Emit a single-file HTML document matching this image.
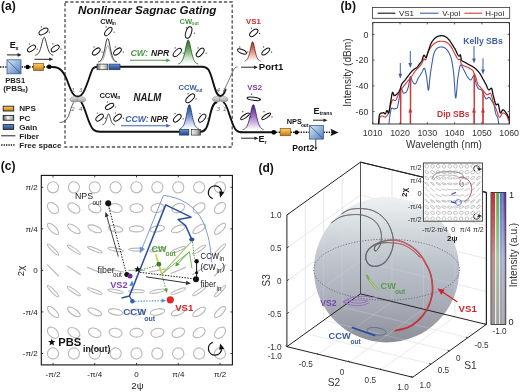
<!DOCTYPE html>
<html><head><meta charset="utf-8"><title>Nonlinear Sagnac Gating figure</title>
<style>html,body{margin:0;padding:0;background:#fff;}svg{display:block;}</style></head>
<body><svg width="520" height="392" viewBox="0 0 520 392" font-family="'Liberation Sans', Arial, sans-serif">
<defs>
<linearGradient id="gPBS" x1="0" y1="0" x2="1" y2="1"><stop offset="0" stop-color="#dfe8f6"/><stop offset="1" stop-color="#4f7fc0"/></linearGradient>
<linearGradient id="gNPS" x1="0" y1="0" x2="0" y2="1"><stop offset="0" stop-color="#f7cf7a"/><stop offset="0.5" stop-color="#e9a53a"/><stop offset="1" stop-color="#c07818"/></linearGradient>
<linearGradient id="gPC" x1="0" y1="0" x2="1" y2="0"><stop offset="0" stop-color="#5a5a5a"/><stop offset="0.45" stop-color="#f4f4f4"/><stop offset="1" stop-color="#9a9a9a"/></linearGradient>
<linearGradient id="gPC2" x1="0" y1="0" x2="1" y2="0"><stop offset="0" stop-color="#f4f4f4"/><stop offset="0.6" stop-color="#bbbbbb"/><stop offset="1" stop-color="#555"/></linearGradient>
<linearGradient id="gGain" x1="0" y1="0" x2="0" y2="1"><stop offset="0" stop-color="#6f97cf"/><stop offset="0.5" stop-color="#3f6aaa"/><stop offset="1" stop-color="#2a4c85"/></linearGradient>
<linearGradient id="gGreen" x1="0" y1="0" x2="0" y2="1"><stop offset="0" stop-color="#2a652a"/><stop offset="0.35" stop-color="#5f9f58"/><stop offset="0.75" stop-color="#cfe5cc"/><stop offset="1" stop-color="#ffffff"/></linearGradient>
<linearGradient id="gBlue" x1="0" y1="0" x2="0" y2="1"><stop offset="0" stop-color="#27468f"/><stop offset="0.4" stop-color="#5f80c0"/><stop offset="0.8" stop-color="#d3dcef"/><stop offset="1" stop-color="#ffffff"/></linearGradient>
<linearGradient id="gRed" x1="0" y1="0" x2="0" y2="1"><stop offset="0" stop-color="#8e2a1c"/><stop offset="0.45" stop-color="#d98a72"/><stop offset="1" stop-color="#ffffff"/></linearGradient>
<linearGradient id="gPurple" x1="0" y1="0" x2="0" y2="1"><stop offset="0" stop-color="#4b1f75"/><stop offset="0.45" stop-color="#9b72bf"/><stop offset="1" stop-color="#ffffff"/></linearGradient>
<linearGradient id="gCoup" x1="0" y1="0" x2="0" y2="1"><stop offset="0" stop-color="#e6e6e6"/><stop offset="1" stop-color="#9c9c9c"/></linearGradient>
</defs>
<rect width="520" height="392" fill="#fff"/>
<text x="1" y="9.7" font-size="12" font-weight="bold" fill="#111" text-anchor="start" font-style="normal" >(a)</text>
<rect x="65" y="2" width="167.2" height="145" fill="none" stroke="#505050" stroke-width="1.35" stroke-dasharray="3.2,2.1"/>
<text x="78" y="13.8" font-size="11.6" font-weight="bold" fill="#111" text-anchor="start" font-style="italic" textLength="138.5" lengthAdjust="spacingAndGlyphs">Nonlinear Sagnac Gating</text>
<path d="M0,67 L7,67 M21.5,67 L33.5,67 M43.6,67 L49,67" stroke="#111" stroke-width="1.6" stroke-dasharray="1.4,1.2" fill="none"/>
<path d="M49.2,66.7 C58,66.7 62,68 67,80 C71,91 73,96.5 77.7,96.5 C82.4,96.5 84.5,91 88.5,80 C92.5,68 93,66.7 97,66.7 M120,66.7 L202,66.7 C209,66.7 210,72 213,82 C215.5,91 217,96 220.2,96 C223.5,96 224.5,93 225.5,90 M81.5,102.5 C85,108 87,118 90,124 C92,129 94,131.8 100,131.8 L179.5,131.8 M200.5,131.8 C205,131.8 207,128 209,120 C211,111 212.5,102.5 216.5,102.5 M223.8,102.5 C227,104 229,115 232,122 C234.5,129 236,132.3 243,132.3 L273.5,132.3" fill="none" stroke="#111" stroke-width="1.9" stroke-linecap="round"/>
<path d="M73.5,102.5 C70,108 70,116 66,120 C64,122 62,122.5 59.6,122.3" fill="none" stroke="#333" stroke-width="0.8"/>
<path d="M223.5,91 C227,85 231,75 233.5,70 C234.5,68 235.5,67.3 237.5,67" fill="none" stroke="#555" stroke-width="0.8"/>
<ellipse cx="74.4" cy="99.4" rx="4.3" ry="2.6" fill="url(#gCoup)" stroke="#777" stroke-width="0.5"/>
<ellipse cx="81.2" cy="99.4" rx="4.3" ry="2.6" fill="url(#gCoup)" stroke="#777" stroke-width="0.5"/>
<ellipse cx="216.8" cy="99.2" rx="4.3" ry="2.6" fill="url(#gCoup)" stroke="#777" stroke-width="0.5"/>
<ellipse cx="223.6" cy="99.2" rx="4.3" ry="2.6" fill="url(#gCoup)" stroke="#777" stroke-width="0.5"/>
<text x="73" y="92" font-size="6.2" font-weight="normal" fill="#666" text-anchor="middle" font-style="italic" >1</text>
<text x="80.7" y="92" font-size="6.2" font-weight="normal" fill="#666" text-anchor="middle" font-style="italic" >3</text>
<text x="73" y="110.5" font-size="6.2" font-weight="normal" fill="#666" text-anchor="middle" font-style="italic" >2</text>
<text x="80.7" y="110.5" font-size="6.2" font-weight="normal" fill="#666" text-anchor="middle" font-style="italic" >4</text>
<text x="218.2" y="92" font-size="6.2" font-weight="normal" fill="#666" text-anchor="middle" font-style="italic" >4</text>
<text x="224.8" y="92" font-size="6.2" font-weight="normal" fill="#666" text-anchor="middle" font-style="italic" >2</text>
<text x="218.2" y="110.5" font-size="6.2" font-weight="normal" fill="#666" text-anchor="middle" font-style="italic" >3</text>
<text x="224.8" y="110.5" font-size="6.2" font-weight="normal" fill="#666" text-anchor="middle" font-style="italic" >1</text>
<rect x="7" y="59.8" width="14" height="14" fill="url(#gPBS)" stroke="#3d5d8f" stroke-width="0.8"/>
<line x1="7.5" y1="60.3" x2="20.5" y2="73.3" stroke="#2c4a7a" stroke-width="0.7" />
<rect x="33.5" y="63.3" width="10.1" height="7.2" fill="url(#gNPS)" stroke="#7a5212" stroke-width="0.7"/>
<circle cx="27.6" cy="67" r="2.2" fill="#000"/>
<circle cx="49.2" cy="66.8" r="2.3" fill="#000"/>
<rect x="97" y="64.1" width="10.7" height="5.6" fill="url(#gPC)" stroke="#333" stroke-width="0.7"/>
<rect x="109" y="64.1" width="11" height="5.6" fill="url(#gGain)" stroke="#1f3560" stroke-width="0.7"/>
<rect x="179.5" y="129.5" width="9.3" height="5.6" fill="url(#gGain)" stroke="#1f3560" stroke-width="0.7"/>
<rect x="191.3" y="129.5" width="9.2" height="5.6" fill="url(#gPC2)" stroke="#333" stroke-width="0.7"/>
<circle cx="273.8" cy="132.3" r="2.4" fill="#000"/>
<path d="M276,132.3 L280,132.3 M290.5,132.3 L296,132.3 M298,132.3 L309.5,132.3 M323.5,132.3 L333,132.3" stroke="#111" stroke-width="1.6" stroke-dasharray="1.4,1.2" fill="none"/>
<rect x="280.2" y="128.5" width="10.3" height="7.2" fill="url(#gNPS)" stroke="#7a5212" stroke-width="0.7"/>
<circle cx="296.5" cy="132.4" r="2.1" fill="#000"/>
<rect x="309.5" y="125.5" width="14" height="13.6" fill="url(#gPBS)" stroke="#3d5d8f" stroke-width="0.8"/>
<line x1="310" y1="126" x2="323" y2="138.6" stroke="#2c4a7a" stroke-width="0.7" />
<polygon points="338.5,132.4 330.5,128.7 331.8,132.4 330.5,136.1" fill="#111"/>
<path d="M35.2,55.3 L35.65,55.18 L36.1,55.03 L36.55,54.84 L37,54.59 L37.45,54.27 L37.9,53.87 L38.35,53.36 L38.8,52.72 L39.25,51.93 L39.7,50.96 L40.15,49.8 L40.6,48.43 L41.05,46.87 L41.5,45.14 L41.95,43.31 L42.4,41.5 L42.85,39.84 L43.3,38.49 L43.75,37.61 L44.2,37.3 L44.65,37.61 L45.1,38.49 L45.55,39.84 L46,41.5 L46.45,43.31 L46.9,45.14 L47.35,46.87 L47.8,48.43 L48.25,49.8 L48.7,50.96 L49.15,51.93 L49.6,52.72 L50.05,53.36 L50.5,53.87 L50.95,54.27 L51.4,54.59 L51.85,54.84 L52.3,55.03 L52.75,55.18 L53.2,55.3" fill="none" stroke="#222" stroke-width="0.9"/>
<path d="M99.3,62.13 L99.72,62.02 L100.15,61.88 L100.58,61.7 L101,61.47 L101.42,61.18 L101.85,60.81 L102.27,60.33 L102.7,59.75 L103.12,59.02 L103.55,58.12 L103.97,57.05 L104.4,55.79 L104.83,54.34 L105.25,52.74 L105.67,51.06 L106.1,49.38 L106.52,47.84 L106.95,46.6 L107.38,45.78 L107.8,45.5 L108.22,45.78 L108.65,46.6 L109.08,47.84 L109.5,49.38 L109.92,51.06 L110.35,52.74 L110.77,54.34 L111.2,55.79 L111.62,57.05 L112.05,58.12 L112.47,59.02 L112.9,59.75 L113.33,60.33 L113.75,60.81 L114.17,61.18 L114.6,61.47 L115.02,61.7 L115.45,61.88 L115.88,62.02 L116.3,62.13" fill="none" stroke="#9a9a9a" stroke-width="0.9"/>
<path d="M98.1,61.98 L98.57,61.82 L99.05,61.63 L99.52,61.37 L100,61.05 L100.47,60.63 L100.95,60.11 L101.42,59.44 L101.9,58.61 L102.38,57.58 L102.85,56.32 L103.32,54.81 L103.8,53.02 L104.27,50.98 L104.75,48.72 L105.22,46.34 L105.7,43.98 L106.17,41.81 L106.65,40.05 L107.12,38.9 L107.6,38.5 L108.07,38.9 L108.55,40.05 L109.02,41.81 L109.5,43.98 L109.97,46.34 L110.45,48.72 L110.92,50.98 L111.4,53.02 L111.88,54.81 L112.35,56.32 L112.82,57.58 L113.3,58.61 L113.77,59.44 L114.25,60.11 L114.72,60.63 L115.2,61.05 L115.67,61.37 L116.15,61.63 L116.62,61.82 L117.1,61.98" fill="none" stroke="#222" stroke-width="0.9"/>
<path d="M102.4,124.76 L102.71,124.68 L103.02,124.59 L103.33,124.47 L103.64,124.32 L103.95,124.13 L104.26,123.88 L104.57,123.57 L104.88,123.19 L105.19,122.7 L105.5,122.12 L105.81,121.41 L106.12,120.58 L106.43,119.62 L106.74,118.57 L107.05,117.46 L107.36,116.36 L107.67,115.34 L107.98,114.52 L108.29,113.99 L108.6,113.8 L108.91,113.99 L109.22,114.52 L109.53,115.34 L109.84,116.36 L110.15,117.46 L110.46,118.57 L110.77,119.62 L111.08,120.58 L111.39,121.41 L111.7,122.12 L112.01,122.7 L112.32,123.19 L112.63,123.57 L112.94,123.88 L113.25,124.13 L113.56,124.32 L113.87,124.47 L114.18,124.59 L114.49,124.68 L114.8,124.76" fill="none" stroke="#222" stroke-width="0.9"/>
<path d="M178.2,63.97 L178.7,63.81 L179.2,63.61 L179.7,63.35 L180.2,63.02 L180.7,62.59 L181.2,62.06 L181.7,61.38 L182.2,60.53 L182.7,59.48 L183.2,58.19 L183.7,56.65 L184.2,54.83 L184.7,52.74 L185.2,50.44 L185.7,48.01 L186.2,45.59 L186.7,43.38 L187.2,41.58 L187.7,40.41 L188.2,40 L188.7,40.41 L189.2,41.58 L189.7,43.38 L190.2,45.59 L190.7,48.01 L191.2,50.44 L191.7,52.74 L192.2,54.83 L192.7,56.65 L193.2,58.19 L193.7,59.48 L194.2,60.53 L194.7,61.38 L195.2,62.06 L195.7,62.59 L196.2,63.02 L196.7,63.35 L197.2,63.61 L197.7,63.81 L198.2,63.97 Z" fill="url(#gGreen)" stroke="none"/>
<path d="M178.2,63.97 L178.7,63.81 L179.2,63.61 L179.7,63.35 L180.2,63.02 L180.7,62.59 L181.2,62.06 L181.7,61.38 L182.2,60.53 L182.7,59.48 L183.2,58.19 L183.7,56.65 L184.2,54.83 L184.7,52.74 L185.2,50.44 L185.7,48.01 L186.2,45.59 L186.7,43.38 L187.2,41.58 L187.7,40.41 L188.2,40 L188.7,40.41 L189.2,41.58 L189.7,43.38 L190.2,45.59 L190.7,48.01 L191.2,50.44 L191.7,52.74 L192.2,54.83 L192.7,56.65 L193.2,58.19 L193.7,59.48 L194.2,60.53 L194.7,61.38 L195.2,62.06 L195.7,62.59 L196.2,63.02 L196.7,63.35 L197.2,63.61 L197.7,63.81 L198.2,63.97" fill="none" stroke="#234f23" stroke-width="0.8"/>
<path d="M179.8,128.76 L180.28,128.6 L180.75,128.4 L181.23,128.14 L181.7,127.81 L182.18,127.38 L182.65,126.84 L183.12,126.15 L183.6,125.3 L184.08,124.24 L184.55,122.94 L185.03,121.38 L185.5,119.55 L185.98,117.44 L186.45,115.12 L186.93,112.67 L187.4,110.24 L187.88,108.01 L188.35,106.2 L188.83,105.01 L189.3,104.6 L189.78,105.01 L190.25,106.2 L190.73,108.01 L191.2,110.24 L191.68,112.67 L192.15,115.12 L192.62,117.44 L193.1,119.55 L193.58,121.38 L194.05,122.94 L194.53,124.24 L195,125.3 L195.48,126.15 L195.95,126.84 L196.43,127.38 L196.9,127.81 L197.38,128.14 L197.85,128.4 L198.33,128.6 L198.8,128.76 Z" fill="url(#gBlue)" stroke="none"/>
<path d="M179.8,128.76 L180.28,128.6 L180.75,128.4 L181.23,128.14 L181.7,127.81 L182.18,127.38 L182.65,126.84 L183.12,126.15 L183.6,125.3 L184.08,124.24 L184.55,122.94 L185.03,121.38 L185.5,119.55 L185.98,117.44 L186.45,115.12 L186.93,112.67 L187.4,110.24 L187.88,108.01 L188.35,106.2 L188.83,105.01 L189.3,104.6 L189.78,105.01 L190.25,106.2 L190.73,108.01 L191.2,110.24 L191.68,112.67 L192.15,115.12 L192.62,117.44 L193.1,119.55 L193.58,121.38 L194.05,122.94 L194.53,124.24 L195,125.3 L195.48,126.15 L195.95,126.84 L196.43,127.38 L196.9,127.81 L197.38,128.14 L197.85,128.4 L198.33,128.6 L198.8,128.76" fill="none" stroke="#1f356e" stroke-width="0.8"/>
<path d="M244.6,61.07 L245,60.94 L245.4,60.78 L245.8,60.57 L246.2,60.31 L246.6,59.97 L247,59.54 L247.4,58.99 L247.8,58.31 L248.2,57.46 L248.6,56.43 L249,55.18 L249.4,53.72 L249.8,52.04 L250.2,50.19 L250.6,48.24 L251,46.3 L251.4,44.52 L251.8,43.07 L252.2,42.13 L252.6,41.8 L253,42.13 L253.4,43.07 L253.8,44.52 L254.2,46.3 L254.6,48.24 L255,50.19 L255.4,52.04 L255.8,53.72 L256.2,55.18 L256.6,56.43 L257,57.46 L257.4,58.31 L257.8,58.99 L258.2,59.54 L258.6,59.97 L259,60.31 L259.4,60.57 L259.8,60.78 L260.2,60.94 L260.6,61.07 Z" fill="url(#gRed)" stroke="none"/>
<path d="M244.6,61.07 L245,60.94 L245.4,60.78 L245.8,60.57 L246.2,60.31 L246.6,59.97 L247,59.54 L247.4,58.99 L247.8,58.31 L248.2,57.46 L248.6,56.43 L249,55.18 L249.4,53.72 L249.8,52.04 L250.2,50.19 L250.6,48.24 L251,46.3 L251.4,44.52 L251.8,43.07 L252.2,42.13 L252.6,41.8 L253,42.13 L253.4,43.07 L253.8,44.52 L254.2,46.3 L254.6,48.24 L255,50.19 L255.4,52.04 L255.8,53.72 L256.2,55.18 L256.6,56.43 L257,57.46 L257.4,58.31 L257.8,58.99 L258.2,59.54 L258.6,59.97 L259,60.31 L259.4,60.57 L259.8,60.78 L260.2,60.94 L260.6,61.07" fill="none" stroke="#6e1f16" stroke-width="0.8"/>
<path d="M242.8,129.74 L243.33,129.57 L243.85,129.36 L244.38,129.09 L244.9,128.74 L245.43,128.3 L245.95,127.74 L246.48,127.03 L247,126.14 L247.53,125.03 L248.05,123.68 L248.58,122.06 L249.1,120.15 L249.62,117.96 L250.15,115.55 L250.68,113 L251.2,110.46 L251.73,108.14 L252.25,106.26 L252.78,105.03 L253.3,104.6 L253.83,105.03 L254.35,106.26 L254.88,108.14 L255.4,110.46 L255.93,113 L256.45,115.55 L256.98,117.96 L257.5,120.15 L258.03,122.06 L258.55,123.68 L259.07,125.03 L259.6,126.14 L260.12,127.03 L260.65,127.74 L261.18,128.3 L261.7,128.74 L262.23,129.09 L262.75,129.36 L263.28,129.57 L263.8,129.74 Z" fill="url(#gPurple)" stroke="none"/>
<path d="M242.8,129.74 L243.33,129.57 L243.85,129.36 L244.38,129.09 L244.9,128.74 L245.43,128.3 L245.95,127.74 L246.48,127.03 L247,126.14 L247.53,125.03 L248.05,123.68 L248.58,122.06 L249.1,120.15 L249.62,117.96 L250.15,115.55 L250.68,113 L251.2,110.46 L251.73,108.14 L252.25,106.26 L252.78,105.03 L253.3,104.6 L253.83,105.03 L254.35,106.26 L254.88,108.14 L255.4,110.46 L255.93,113 L256.45,115.55 L256.98,117.96 L257.5,120.15 L258.03,122.06 L258.55,123.68 L259.07,125.03 L259.6,126.14 L260.12,127.03 L260.65,127.74 L261.18,128.3 L261.7,128.74 L262.23,129.09 L262.75,129.36 L263.28,129.57 L263.8,129.74" fill="none" stroke="#3a1660" stroke-width="0.8"/>
<ellipse cx="31.5" cy="48.5" rx="4.6" ry="2.3" transform="rotate(-35 31.5 48.5)" fill="none" stroke="#111" stroke-width="1"/>
<circle cx="29.3" cy="43.9" r="0.6" fill="#222"/>
<circle cx="37.3" cy="49.1" r="0.6" fill="#222"/>
<ellipse cx="55.2" cy="48.5" rx="4.6" ry="2.3" transform="rotate(-35 55.2 48.5)" fill="none" stroke="#111" stroke-width="1"/>
<circle cx="53" cy="43.9" r="0.6" fill="#222"/>
<circle cx="61" cy="49.1" r="0.6" fill="#222"/>
<ellipse cx="43.5" cy="31.5" rx="5" ry="2.4" transform="rotate(-30 43.5 31.5)" fill="none" stroke="#111" stroke-width="1"/>
<circle cx="41.3" cy="26.9" r="0.6" fill="#222"/>
<circle cx="49.3" cy="32.1" r="0.6" fill="#222"/>
<ellipse cx="96.3" cy="51.5" rx="4.6" ry="2.3" transform="rotate(-40 96.3 51.5)" fill="none" stroke="#111" stroke-width="1"/>
<circle cx="94.1" cy="46.9" r="0.6" fill="#222"/>
<circle cx="102.1" cy="52.1" r="0.6" fill="#222"/>
<ellipse cx="117.5" cy="51.5" rx="4.6" ry="2.3" transform="rotate(-40 117.5 51.5)" fill="none" stroke="#111" stroke-width="1"/>
<circle cx="115.3" cy="46.9" r="0.6" fill="#222"/>
<circle cx="123.3" cy="52.1" r="0.6" fill="#222"/>
<ellipse cx="108.3" cy="31.5" rx="5" ry="2.3" transform="rotate(-50 108.3 31.5)" fill="none" stroke="#111" stroke-width="1"/>
<circle cx="106.1" cy="26.9" r="0.6" fill="#222"/>
<circle cx="114.1" cy="32.1" r="0.6" fill="#222"/>
<ellipse cx="99.6" cy="117.6" rx="4.5" ry="2.3" transform="rotate(-40 99.6 117.6)" fill="none" stroke="#111" stroke-width="1"/>
<circle cx="97.4" cy="113" r="0.6" fill="#222"/>
<circle cx="105.4" cy="118.2" r="0.6" fill="#222"/>
<ellipse cx="117.6" cy="117.6" rx="4.5" ry="2.3" transform="rotate(-40 117.6 117.6)" fill="none" stroke="#111" stroke-width="1"/>
<circle cx="115.4" cy="113" r="0.6" fill="#222"/>
<circle cx="123.4" cy="118.2" r="0.6" fill="#222"/>
<ellipse cx="109.6" cy="106.4" rx="4.6" ry="2.2" transform="rotate(-30 109.6 106.4)" fill="none" stroke="#111" stroke-width="1"/>
<circle cx="107.4" cy="101.8" r="0.6" fill="#222"/>
<circle cx="115.4" cy="107" r="0.6" fill="#222"/>
<ellipse cx="177.3" cy="52.5" rx="5.2" ry="2.5" transform="rotate(-45 177.3 52.5)" fill="none" stroke="#111" stroke-width="1"/>
<circle cx="175.1" cy="47.9" r="0.6" fill="#222"/>
<circle cx="183.1" cy="53.1" r="0.6" fill="#222"/>
<ellipse cx="200.2" cy="52.5" rx="5.2" ry="2.5" transform="rotate(-50 200.2 52.5)" fill="none" stroke="#111" stroke-width="1"/>
<circle cx="198" cy="47.9" r="0.6" fill="#222"/>
<circle cx="206" cy="53.1" r="0.6" fill="#222"/>
<ellipse cx="188.6" cy="32.5" rx="6" ry="2.8" transform="rotate(-72 188.6 32.5)" fill="none" stroke="#111" stroke-width="1"/>
<circle cx="186.4" cy="27.9" r="0.6" fill="#222"/>
<circle cx="194.4" cy="33.1" r="0.6" fill="#222"/>
<ellipse cx="177.3" cy="118.2" rx="4.8" ry="2.4" transform="rotate(-45 177.3 118.2)" fill="none" stroke="#111" stroke-width="1"/>
<circle cx="175.1" cy="113.6" r="0.6" fill="#222"/>
<circle cx="183.1" cy="118.8" r="0.6" fill="#222"/>
<ellipse cx="202.2" cy="118.2" rx="4.8" ry="2.4" transform="rotate(-50 202.2 118.2)" fill="none" stroke="#111" stroke-width="1"/>
<circle cx="200" cy="113.6" r="0.6" fill="#222"/>
<circle cx="208" cy="118.8" r="0.6" fill="#222"/>
<ellipse cx="190.2" cy="98.3" rx="5.6" ry="2.6" transform="rotate(-45 190.2 98.3)" fill="none" stroke="#111" stroke-width="1"/>
<circle cx="188" cy="93.7" r="0.6" fill="#222"/>
<circle cx="196" cy="98.9" r="0.6" fill="#222"/>
<ellipse cx="242" cy="51.5" rx="4.8" ry="1.9" transform="rotate(25 242 51.5)" fill="none" stroke="#111" stroke-width="1"/>
<circle cx="239.8" cy="46.9" r="0.6" fill="#222"/>
<circle cx="247.8" cy="52.1" r="0.6" fill="#222"/>
<ellipse cx="265.8" cy="51.5" rx="4.8" ry="2" transform="rotate(-40 265.8 51.5)" fill="none" stroke="#111" stroke-width="1"/>
<circle cx="263.6" cy="46.9" r="0.6" fill="#222"/>
<circle cx="271.6" cy="52.1" r="0.6" fill="#222"/>
<ellipse cx="253.8" cy="32.8" rx="5" ry="2.4" transform="rotate(-40 253.8 32.8)" fill="none" stroke="#111" stroke-width="1"/>
<circle cx="251.6" cy="28.2" r="0.6" fill="#222"/>
<circle cx="259.6" cy="33.4" r="0.6" fill="#222"/>
<ellipse cx="245" cy="116.3" rx="5.2" ry="1.6" transform="rotate(-35 245 116.3)" fill="none" stroke="#111" stroke-width="1"/>
<circle cx="242.8" cy="111.7" r="0.6" fill="#222"/>
<circle cx="250.8" cy="116.9" r="0.6" fill="#222"/>
<ellipse cx="266.2" cy="116.3" rx="5.2" ry="1.6" transform="rotate(-35 266.2 116.3)" fill="none" stroke="#111" stroke-width="1"/>
<circle cx="264" cy="111.7" r="0.6" fill="#222"/>
<circle cx="272" cy="116.9" r="0.6" fill="#222"/>
<ellipse cx="253.8" cy="98.8" rx="6.8" ry="1.5" transform="rotate(8 253.8 98.8)" fill="none" stroke="#111" stroke-width="1"/>
<circle cx="251.6" cy="94.2" r="0.6" fill="#222"/>
<circle cx="259.6" cy="99.4" r="0.6" fill="#222"/>
<line x1="6.9" y1="54.9" x2="18.1" y2="54.9" stroke="#222" stroke-width="1" /><polygon points="21.6,54.9 17.6,56.7 17.6,53.1" fill="#222"/>
<line x1="34.5" y1="59.3" x2="49.7" y2="59.3" stroke="#222" stroke-width="1" /><polygon points="53.2,59.3 49.2,61.1 49.2,57.5" fill="#222"/>
<line x1="130" y1="60.3" x2="166.8" y2="60.3" stroke="#4f9a45" stroke-width="1.1" /><polygon points="170.5,60.3 166.3,62.2 166.3,58.4" fill="#4f9a45"/>
<line x1="121" y1="125.7" x2="166.8" y2="125.7" stroke="#3f63b0" stroke-width="1.1" /><polygon points="170.5,125.7 166.3,127.6 166.3,123.8" fill="#3f63b0"/>
<line x1="241" y1="67.2" x2="254.5" y2="67.2" stroke="#222" stroke-width="1" /><polygon points="258,67.2 254,69 254,65.4" fill="#222"/>
<line x1="241" y1="138.2" x2="255" y2="138.2" stroke="#222" stroke-width="1" /><polygon points="258.5,138.2 254.5,140 254.5,136.4" fill="#222"/>
<line x1="313" y1="120.2" x2="324" y2="120.2" stroke="#222" stroke-width="1" /><polygon points="327.5,120.2 323.5,122 323.5,118.4" fill="#222"/>
<line x1="315.8" y1="139.3" x2="315.8" y2="147.8" stroke="#222" stroke-width="0.9" /><polygon points="315.8,150.5 314.3,147.3 317.3,147.3" fill="#222"/>
<text x="9.7" y="48" font-size="9" font-weight="bold" fill="#111" text-anchor="start" font-style="normal" >E</text><text x="15.6" y="49.8" font-size="5.5" font-weight="bold" fill="#111" text-anchor="start" font-style="normal" >x</text>
<text x="5.2" y="82.6" font-size="7.8" font-weight="bold" fill="#222" text-anchor="start" font-style="normal" textLength="20" lengthAdjust="spacingAndGlyphs">PBS1</text>
<text x="3.2" y="90.8" font-size="8" font-weight="bold" fill="#222" text-anchor="start" font-style="normal" >(PBS</text><text x="21.2" y="92" font-size="4.8" font-weight="bold" fill="#222" text-anchor="start" font-style="normal" >in</text><text x="25.2" y="90.8" font-size="8" font-weight="bold" fill="#222" text-anchor="start" font-style="normal" >)</text>
<text x="100.2" y="23.6" font-size="7.4" font-weight="bold" fill="#222" text-anchor="start" font-style="normal" >CW</text><text x="111.8" y="25" font-size="4.6" font-weight="bold" fill="#222" text-anchor="start" font-style="normal" >in</text>
<text x="130.4" y="56.4" font-size="9" font-weight="bold" fill="#4a9a42" text-anchor="start" font-style="italic" textLength="17.6" lengthAdjust="spacingAndGlyphs">CW:</text><text x="151" y="56.4" font-size="9" font-weight="bold" fill="#1a1a1a" text-anchor="start" font-style="italic" textLength="18.2" lengthAdjust="spacingAndGlyphs">NPR</text>
<text x="179.5" y="23.6" font-size="7.6" font-weight="bold" fill="#4a9a42" text-anchor="start" font-style="normal" >CW</text><text x="191.6" y="25" font-size="4.6" font-weight="bold" fill="#4a9a42" text-anchor="start" font-style="normal" >out</text>
<text x="133.5" y="101.3" font-size="10.2" font-weight="bold" fill="#1a1a1a" text-anchor="start" font-style="italic" textLength="27.8" lengthAdjust="spacingAndGlyphs">NALM</text>
<text x="99.4" y="97.7" font-size="7.6" font-weight="bold" fill="#222" text-anchor="start" font-style="normal" >CCW</text><text x="116.2" y="99.1" font-size="4.6" font-weight="bold" fill="#222" text-anchor="start" font-style="normal" >in</text>
<text x="125.2" y="121.6" font-size="9" font-weight="bold" fill="#3f63b0" text-anchor="start" font-style="italic" textLength="23.5" lengthAdjust="spacingAndGlyphs">CCW:</text><text x="150.6" y="121.6" font-size="9" font-weight="bold" fill="#1a1a1a" text-anchor="start" font-style="italic" textLength="17.5" lengthAdjust="spacingAndGlyphs">NPR</text>
<text x="178.6" y="90.2" font-size="7.6" font-weight="bold" fill="#3a5ba0" text-anchor="start" font-style="normal" >CCW</text><text x="195.4" y="91.6" font-size="4.6" font-weight="bold" fill="#3a5ba0" text-anchor="start" font-style="normal" >out</text>
<text x="246" y="23.7" font-size="7.8" font-weight="bold" fill="#c0302e" text-anchor="start" font-style="normal" >VS1</text>
<text x="258.8" y="70.4" font-size="9.6" font-weight="bold" fill="#111" text-anchor="start" font-style="normal" >Port1</text>
<text x="247.3" y="90.2" font-size="7.8" font-weight="bold" fill="#7b3fa5" text-anchor="start" font-style="normal" >VS2</text>
<text x="258.6" y="141.8" font-size="9" font-weight="bold" fill="#111" text-anchor="start" font-style="normal" >E</text><text x="264.6" y="143.6" font-size="5.5" font-weight="bold" fill="#111" text-anchor="start" font-style="normal" >r</text>
<text x="286.8" y="124.1" font-size="7.3" font-weight="bold" fill="#111" text-anchor="start" font-style="normal" >NPS</text><text x="300.9" y="126.6" font-size="4.8" font-weight="bold" fill="#111" text-anchor="start" font-style="normal" >out</text>
<text x="313.5" y="113.8" font-size="9" font-weight="bold" fill="#111" text-anchor="start" font-style="normal" >E</text><text x="319.6" y="115.4" font-size="5.2" font-weight="bold" fill="#111" text-anchor="start" font-style="normal" >trans</text>
<text x="292.3" y="150.6" font-size="8.6" font-weight="bold" fill="#111" text-anchor="start" font-style="normal" >Port2</text>
<rect x="3.2" y="106.2" width="10.5" height="4.8" fill="url(#gNPS)" stroke="#222" stroke-width="0.9"/>
<text x="19.2" y="111.3" font-size="8.1" font-weight="bold" fill="#222" text-anchor="start" font-style="normal" >NPS</text>
<rect x="3.2" y="115.4" width="10.5" height="4.8" fill="url(#gPC)" stroke="#222" stroke-width="0.9"/>
<text x="19.2" y="120.5" font-size="8.1" font-weight="bold" fill="#222" text-anchor="start" font-style="normal" >PC</text>
<rect x="3.2" y="124.6" width="10.5" height="4.8" fill="url(#gGain)" stroke="#222" stroke-width="0.9"/>
<text x="19.2" y="129.7" font-size="8.1" font-weight="bold" fill="#222" text-anchor="start" font-style="normal" >Gain</text>
<line x1="1.2" y1="135.8" x2="15.4" y2="135.8" stroke="#222" stroke-width="1" />
<text x="19.2" y="138.9" font-size="8.1" font-weight="bold" fill="#222" text-anchor="start" font-style="normal" >Fiber</text>
<path d="M1.2,145 L15.4,145" stroke="#111" stroke-width="1.4" stroke-dasharray="1.3,1.1"/>
<text x="19.2" y="148.1" font-size="8.1" font-weight="bold" fill="#222" text-anchor="start" font-style="normal" >Free space</text>
<text x="340.6" y="9.7" font-size="12" font-weight="bold" fill="#111" text-anchor="start" font-style="normal" >(b)</text>
<rect x="372.4" y="7.5" width="137.3" height="10.8" fill="#fff" stroke="#333" stroke-width="0.8"/>
<line x1="377.7" y1="13.2" x2="395.4" y2="13.2" stroke="#111" stroke-width="1.1" />
<text x="399" y="16.2" font-size="7.9" font-weight="normal" fill="#222" text-anchor="start" font-style="normal" >VS1</text>
<line x1="420" y1="13.2" x2="438.5" y2="13.2" stroke="#3d5ea8" stroke-width="1.1" />
<text x="442.2" y="16.2" font-size="7.9" font-weight="normal" fill="#222" text-anchor="start" font-style="normal" >V-pol</text>
<line x1="464.6" y1="13.2" x2="482.3" y2="13.2" stroke="#d23a3a" stroke-width="1.1" />
<text x="485.3" y="16.2" font-size="7.9" font-weight="normal" fill="#222" text-anchor="start" font-style="normal" >H-pol</text>
<clipPath id="clipB"><rect x="372.8" y="22.6" width="136.7" height="101.4"/></clipPath>
<g clip-path="url(#clipB)" fill="none" stroke-linejoin="round">
<polyline points="388.53,130.9 388.69,128.35 388.85,125.85 389.01,123.51 389.17,121.49 389.33,119.92 389.49,118.71 389.64,117.53 389.8,116.4 389.96,115.3 390.12,114.26 390.28,113.28 390.44,112.35 390.6,111.5 390.75,110.73 390.91,110.05 391.07,109.45 391.23,108.96 391.39,108.58 391.55,108.31 391.71,108.16 391.86,108.13 392.02,108.14 392.18,108.18 392.34,108.22 392.5,108.28 392.66,108.34 392.82,108.41 392.97,108.48 393.13,108.56 393.29,108.63 393.45,108.7 393.61,108.76 393.77,108.82 393.93,108.86 394.08,108.89 394.24,108.9 394.4,108.9 394.56,108.89 394.72,108.88 394.88,108.86 395.04,108.84 395.19,108.81 395.35,108.78 395.51,108.74 395.67,108.69 395.83,108.65 395.99,108.59 396.15,108.53 396.3,108.47 396.46,108.4 396.62,108.32 396.78,108.25 396.94,108.16 397.1,108.04 397.26,107.75 397.41,107.31 397.57,106.73 397.73,106.05 397.89,105.28 398.05,104.45 398.21,103.57 398.37,102.68 398.52,101.78 398.68,100.91 398.84,100.09 399,99.3 399.16,98.41 399.32,97.41 399.48,96.34 399.63,95.23 399.79,94.11 399.95,93 400.11,91.94 400.27,90.96 400.43,90.08 400.59,89.33 400.74,88.75 400.9,88.36 401.06,88.19 401.22,88.22 401.38,88.37 401.54,88.62 401.7,88.94 401.85,89.33 402.01,89.77 402.17,90.24 402.33,90.72 402.49,91.2 402.65,91.67 402.8,92.1 402.96,92.48 403.12,92.8 403.28,93.04 403.44,93.17 403.6,93.2 403.76,93.19 403.91,93.18 404.07,93.15 404.23,93.12 404.39,93.08 404.55,93.03 404.71,92.97 404.87,92.91 405.02,92.84 405.18,92.77 405.34,92.69 405.5,92.6 405.66,92.51 405.82,92.42 405.98,92.32 406.13,92.2 406.29,92.04 406.45,91.83 406.61,91.57 406.77,91.28 406.93,90.95 407.09,90.59 407.24,90.2 407.4,89.78 407.56,89.33 407.72,88.87 407.88,88.39 408.04,87.89 408.2,87.38 408.35,86.87 408.51,86.33 408.67,85.64 408.83,84.76 408.99,83.76 409.15,82.68 409.31,81.56 409.46,80.45 409.62,79.4 409.78,78.45 409.94,77.65 410.1,77.05 410.26,76.69 410.42,76.61 410.57,76.7 410.73,76.9 410.89,77.19 411.05,77.55 411.21,77.98 411.37,78.44 411.53,78.93 411.68,79.43 411.84,79.93 412,80.39 412.16,80.82 412.32,81.2 412.48,81.5 412.64,81.73 412.79,81.94 412.95,82.16 413.11,82.37 413.27,82.58 413.43,82.78 413.59,82.97 413.75,83.15 413.9,83.32 414.06,83.47 414.22,83.6 414.38,83.72 414.54,83.81 414.7,83.88 414.86,83.92 415.01,83.94 415.17,83.91 415.33,83.83 415.49,83.71 415.65,83.54 415.81,83.33 415.97,83.09 416.12,82.82 416.28,82.52 416.44,82.2 416.6,81.85 416.76,81.5 416.92,81.13 417.08,80.76 417.23,80.39 417.39,80.02 417.55,79.65 417.71,79.3 417.87,78.96 418.03,78.63 418.19,78.33 418.34,78.06 418.5,77.79 418.66,77.52 418.82,77.26 418.98,77 419.14,76.74 419.3,76.48 419.45,76.22 419.61,75.96 419.77,75.71 419.93,75.45 420.09,75.2 420.25,74.94 420.41,74.69 420.56,74.43 420.72,74.18 420.88,73.92 421.04,73.66 421.2,73.41 421.36,73.15 421.52,72.89 421.67,72.63 421.83,72.37 421.99,72.09 422.15,71.79 422.31,71.46 422.47,71.11 422.63,70.76 422.78,70.41 422.94,70.06 423.1,69.72 423.26,69.4 423.42,69.11 423.58,68.85 423.74,68.62 423.89,68.44 424.05,68.32 424.21,68.25 424.37,68.26 424.53,68.39 424.69,68.66 424.85,69.03 425,69.5 425.16,70.04 425.32,70.65 425.48,71.3 425.64,71.97 425.8,72.66 425.96,73.35 426.11,74.13 426.27,75.06 426.43,76.11 426.59,77.26 426.75,78.47 426.91,79.72 427.07,80.99 427.22,82.25 427.38,83.47 427.54,84.62 427.7,85.82 427.86,87.22 428.02,88.6 428.18,89.71 428.33,90.32 428.49,90.27 428.65,89.71 428.81,88.74 428.97,87.45 429.13,85.92 429.29,84.23 429.44,82.46 429.6,80.7 429.76,79.02 429.92,77.51 430.08,76.24 430.24,75.04 430.4,73.86 430.55,72.7 430.71,71.55 430.87,70.43 431.03,69.34 431.19,68.27 431.35,67.25 431.51,66.25 431.66,65.3 431.82,64.37 431.98,63.43 432.14,62.48 432.3,61.54 432.46,60.61 432.62,59.7 432.77,58.81 432.93,57.95 433.09,57.12 433.25,56.34 433.41,55.6 433.57,54.92 433.73,54.3 433.88,53.75 434.04,53.27 434.2,52.87 434.36,52.49 434.52,52.12 434.68,51.77 434.84,51.44 434.99,51.12 435.15,50.81 435.31,50.53 435.47,50.26 435.63,50 435.79,49.76 435.95,49.53 436.1,49.33 436.26,49.13 436.42,48.96 436.58,48.8 436.74,48.65 436.9,48.52 437.06,48.4 437.21,48.28 437.37,48.16 437.53,48.05 437.69,47.94 437.85,47.84 438.01,47.74 438.17,47.65 438.32,47.56 438.48,47.48 438.64,47.41 438.8,47.34 438.96,47.28 439.12,47.23 439.28,47.19 439.43,47.16 439.59,47.14 439.75,47.12 439.91,47.1 440.07,47.09 440.23,47.07 440.39,47.06 440.54,47.05 440.7,47.04 440.86,47.03 441.02,47.02 441.18,47.01 441.34,47.01 441.5,47.01 441.65,47.01 441.81,47.02 441.97,47.03 442.13,47.05 442.29,47.08 442.45,47.1 442.61,47.13 442.76,47.16 442.92,47.2 443.08,47.24 443.24,47.28 443.4,47.32 443.56,47.36 443.72,47.41 443.87,47.46 444.03,47.52 444.19,47.58 444.35,47.66 444.51,47.74 444.67,47.84 444.83,47.94 444.98,48.04 445.14,48.15 445.3,48.27 445.46,48.39 445.62,48.52 445.78,48.65 445.94,48.78 446.09,48.92 446.25,49.06 446.41,49.2 446.57,49.35 446.73,49.5 446.89,49.67 447.05,49.85 447.2,50.03 447.36,50.23 447.52,50.44 447.68,50.65 447.84,50.88 448,51.11 448.16,51.35 448.31,51.61 448.47,51.87 448.63,52.13 448.79,52.41 448.95,52.7 449.11,52.99 449.26,53.3 449.42,53.62 449.58,53.96 449.74,54.31 449.9,54.68 450.06,55.07 450.22,55.48 450.37,55.91 450.53,56.36 450.69,56.83 450.85,57.33 451.01,57.85 451.17,58.4 451.33,58.97 451.48,59.57 451.64,60.19 451.8,60.88 451.96,61.63 452.12,62.45 452.28,63.33 452.44,64.26 452.59,65.26 452.75,66.31 452.91,67.41 453.07,68.56 453.23,69.77 453.39,71.01 453.55,72.3 453.7,73.63 453.86,75.07 454.02,76.92 454.18,79.13 454.34,81.61 454.5,84.24 454.66,86.91 454.81,89.53 454.97,91.98 455.13,94.16 455.29,95.96 455.45,97.27 455.61,97.99 455.77,98.04 455.92,97.6 456.08,96.77 456.24,95.6 456.4,94.15 456.56,92.48 456.72,90.66 456.88,88.73 457.03,86.77 457.19,84.83 457.35,82.97 457.51,81.25 457.67,79.73 457.83,78.47 457.99,77.44 458.14,76.4 458.3,75.35 458.46,74.29 458.62,73.24 458.78,72.21 458.94,71.21 459.1,70.25 459.25,69.33 459.41,68.48 459.57,67.7 459.73,66.99 459.89,66.38 460.05,65.87 460.21,65.47 460.36,65.19 460.52,65.04 460.68,65.03 460.84,65.07 461,65.15 461.16,65.27 461.32,65.43 461.47,65.61 461.63,65.82 461.79,66.06 461.95,66.32 462.11,66.6 462.27,66.89 462.43,67.2 462.58,67.51 462.74,67.83 462.9,68.16 463.06,68.48 463.22,68.8 463.38,69.12 463.54,69.42 463.69,69.72 463.85,69.99 464.01,70.26 464.17,70.54 464.33,70.83 464.49,71.13 464.65,71.44 464.8,71.75 464.96,72.07 465.12,72.39 465.28,72.72 465.44,73.04 465.6,73.36 465.76,73.68 465.91,74 466.07,74.32 466.23,74.62 466.39,74.92 466.55,75.21 466.71,75.49 466.87,75.76 467.02,76.02 467.18,76.26 467.34,76.48 467.5,76.69 467.66,76.91 467.82,77.13 467.98,77.35 468.13,77.57 468.29,77.79 468.45,78.01 468.61,78.23 468.77,78.44 468.93,78.64 469.09,78.83 469.24,79.02 469.4,79.19 469.56,79.35 469.72,79.49 469.88,79.62 470.04,79.73 470.2,79.82 470.35,79.89 470.51,79.93 470.67,79.95 470.83,79.93 470.99,79.86 471.15,79.75 471.31,79.59 471.46,79.39 471.62,79.16 471.78,78.91 471.94,78.64 472.1,78.35 472.26,78.06 472.42,77.76 472.57,77.46 472.73,77.17 472.89,76.9 473.05,76.64 473.21,76.41 473.37,76.21 473.53,76.05 473.68,75.93 473.84,75.85 474,75.83 474.16,75.94 474.32,76.2 474.48,76.6 474.64,77.11 474.79,77.72 474.95,78.4 475.11,79.14 475.27,79.92 475.43,80.71 475.59,81.5 475.75,82.26 475.9,82.99 476.06,83.65 476.22,84.22 476.38,84.69 476.54,85.06 476.7,85.42 476.86,85.78 477.01,86.12 477.17,86.46 477.33,86.78 477.49,87.09 477.65,87.38 477.81,87.66 477.97,87.92 478.12,88.15 478.28,88.37 478.44,88.56 478.6,88.72 478.76,88.86 478.92,88.97 479.08,89.05 479.23,89.13 479.39,89.19 479.55,89.25 479.71,89.29 479.87,89.34 480.03,89.38 480.19,89.42 480.34,89.46 480.5,89.5 480.66,89.55 480.82,89.6 480.98,89.66 481.14,89.74 481.3,89.82 481.45,89.93 481.61,90.09 481.77,90.3 481.93,90.55 482.09,90.84 482.25,91.17 482.41,91.51 482.56,91.88 482.72,92.26 482.88,92.65 483.04,93.03 483.2,93.42 483.36,93.79 483.52,94.15 483.67,94.48 483.83,94.79 483.99,95.1 484.15,95.43 484.31,95.78 484.47,96.14 484.63,96.51 484.78,96.87 484.94,97.23 485.1,97.57 485.26,97.89 485.42,98.18 485.58,98.43 485.74,98.65 485.89,98.82 486.05,98.93 486.21,98.99 486.37,98.99 486.53,98.95 486.69,98.89 486.85,98.8 487,98.69 487.16,98.57 487.32,98.44 487.48,98.3 487.64,98.15 487.8,98.01 487.96,97.87 488.11,97.73 488.27,97.61 488.43,97.51 488.59,97.42 488.75,97.36 488.91,97.33 489.07,97.32 489.22,97.37 489.38,97.46 489.54,97.58 489.7,97.74 489.86,97.93 490.02,98.15 490.18,98.39 490.33,98.64 490.49,98.91 490.65,99.19 490.81,99.46 490.97,99.74 491.13,100.01 491.29,100.27 491.44,100.52 491.6,100.75 491.76,100.98 491.92,101.2 492.08,101.42 492.24,101.64 492.4,101.87 492.55,102.1 492.71,102.35 492.87,102.6 493.03,102.87 493.19,103.16 493.35,103.47 493.51,103.8 493.66,104.16 493.82,104.55 493.98,104.98 494.14,105.57 494.3,106.31 494.46,107.15 494.62,108.07 494.77,109.02 494.93,109.97 495.09,110.89 495.25,111.74 495.41,112.48 495.57,113.07 495.72,113.56 495.88,113.99 496.04,114.37 496.2,114.71 496.36,115.02 496.52,115.31 496.68,115.59 496.83,115.87 496.99,116.17 497.15,116.48 497.31,116.82 497.47,117.21 497.63,117.64 497.79,118.13 497.94,118.69 498.1,119.37 498.26,120.28 498.42,121.41 498.58,122.71 498.74,124.18 498.9,125.76 499.05,127.43 499.21,129.15 499.37,130.9" stroke="#3d5ea8" stroke-width="1.1"/>
<polyline points="378.71,130.9 378.89,127.08 379.08,123.3 379.27,120.17 379.46,118.29 379.65,117.82 379.83,117.51 380.02,117.23 380.21,116.98 380.4,116.76 380.58,116.58 380.77,116.42 380.96,116.28 381.15,116.18 381.34,116.09 381.52,116.03 381.71,116 381.9,115.98 382.09,115.98 382.28,116 382.46,116.04 382.65,116.1 382.84,116.17 383.03,116.25 383.21,116.35 383.4,116.44 383.59,116.54 383.78,116.64 383.97,116.74 384.15,116.83 384.34,116.91 384.53,116.99 384.72,117.05 384.91,117.1 385.09,117.13 385.28,117.13 385.47,117.11 385.66,117.04 385.84,116.94 386.03,116.81 386.22,116.64 386.41,116.45 386.6,116.24 386.78,116.01 386.97,115.76 387.16,115.5 387.35,115.23 387.54,114.96 387.72,114.68 387.91,114.35 388.1,113.95 388.29,113.48 388.47,112.95 388.66,112.37 388.85,111.74 389.04,111.08 389.23,110.39 389.41,109.68 389.6,108.95 389.79,108.22 389.98,107.5 390.17,106.79 390.35,106.1 390.54,105.44 390.73,104.81 390.92,104.23 391.1,103.67 391.29,103.06 391.48,102.41 391.67,101.77 391.86,101.16 392.04,100.62 392.23,100.18 392.42,99.89 392.61,99.77 392.8,99.77 392.98,99.81 393.17,99.86 393.36,99.93 393.55,100.01 393.73,100.09 393.92,100.18 394.11,100.27 394.3,100.35 394.49,100.42 394.67,100.48 394.86,100.52 395.05,100.54 395.24,100.51 395.43,100.42 395.61,100.27 395.8,100.06 395.99,99.79 396.18,99.49 396.36,99.14 396.55,98.76 396.74,98.35 396.93,97.92 397.12,97.47 397.3,97.01 397.49,96.55 397.68,96.09 397.87,95.63 398.06,95.19 398.24,94.77 398.43,94.37 398.62,94 398.81,93.65 398.99,93.29 399.18,92.92 399.37,92.55 399.56,92.18 399.75,91.8 399.93,91.43 400.12,91.06 400.31,90.71 400.41,90.52 400.67,137.34 400.7,137.34 400.96,89.57 401.06,89.4 401.25,89.12 401.44,88.86 401.62,88.63 401.81,88.41 402,88.21 402.19,88.01 402.38,87.81 402.56,87.6 402.75,87.39 402.94,87.16 403.13,86.92 403.32,86.69 403.5,86.45 403.69,86.2 403.88,85.95 404.07,85.71 404.25,85.45 404.44,85.2 404.63,84.95 404.82,84.7 405.01,84.45 405.19,84.2 405.38,83.96 405.57,83.72 405.76,83.48 405.95,83.24 406.13,83.01 406.32,82.78 406.51,82.56 406.7,82.34 406.88,82.12 407.07,81.9 407.26,81.69 407.45,81.47 407.64,81.25 407.82,81.04 408.01,80.82 408.2,80.6 408.39,80.37 408.58,80.15 408.76,79.92 408.95,79.68 409.14,79.45 409.33,79.21 409.51,78.97 409.7,78.73 409.89,78.48 410.08,78.24 410.24,78.03 410.5,137.34 410.52,137.34 410.78,77.31 411.02,77 411.21,76.75 411.39,76.5 411.58,76.24 411.77,75.99 411.96,75.74 412.14,75.49 412.33,75.23 412.52,74.98 412.71,74.73 412.9,74.47 413.08,74.21 413.27,73.94 413.46,73.67 413.65,73.4 413.84,73.13 414.02,72.86 414.21,72.59 414.4,72.33 414.59,72.06 414.77,71.79 414.96,71.53 415.15,71.27 415.34,71.02 415.53,70.77 415.71,70.53 415.9,70.29 416.09,70.06 416.28,69.84 416.47,69.63 416.65,69.42 416.84,69.22 417.03,69.02 417.22,68.83 417.4,68.64 417.59,68.45 417.78,68.26 417.97,68.07 418.16,67.89 418.34,67.7 418.53,67.5 418.72,67.31 418.91,67.1 419.1,66.9 419.28,66.68 419.47,66.46 419.66,66.24 419.85,66.02 420.03,65.79 420.22,65.56 420.41,65.32 420.6,65.08 420.79,64.84 420.97,64.59 421.16,64.33 421.35,64.07 421.54,63.8 421.73,63.52 421.91,63.23 422.1,62.89 422.29,62.5 422.48,62.07 422.66,61.61 422.85,61.15 423.04,60.7 423.23,60.26 423.42,59.86 423.6,59.51 423.79,59.21 423.98,59 424.17,58.87 424.36,58.86 424.54,59 424.73,59.25 424.92,59.55 425.11,59.81 425.29,59.98 425.48,59.97 425.67,59.75 425.86,59.33 426.05,58.75 426.23,58.07 426.42,57.32 426.61,56.54 426.8,55.78 426.99,55.06 427.17,54.43 427.36,53.94 427.55,53.48 427.74,53.04 427.92,52.6 428.11,52.18 428.3,51.78 428.49,51.38 428.68,51 428.86,50.62 429.05,50.26 429.24,49.91 429.43,49.57 429.62,49.24 429.8,48.92 429.99,48.62 430.18,48.32 430.37,48.02 430.55,47.74 430.74,47.46 430.93,47.18 431.12,46.91 431.31,46.65 431.49,46.4 431.68,46.16 431.87,45.93 432.06,45.7 432.25,45.49 432.43,45.28 432.62,45.09 432.81,44.9 433,44.73 433.18,44.56 433.37,44.39 433.56,44.24 433.75,44.08 433.94,43.94 434.12,43.79 434.31,43.65 434.5,43.52 434.69,43.39 434.88,43.27 435.06,43.15 435.25,43.03 435.44,42.92 435.63,42.81 435.81,42.7 436,42.59 436.19,42.48 436.38,42.37 436.57,42.27 436.75,42.17 436.94,42.07 437.13,41.98 437.32,41.9 437.51,41.82 437.69,41.75 437.88,41.69 438.07,41.64 438.26,41.6 438.44,41.56 438.63,41.53 438.82,41.49 439.01,41.46 439.2,41.43 439.38,41.4 439.57,41.37 439.76,41.35 439.95,41.32 440.14,41.3 440.32,41.28 440.51,41.26 440.7,41.25 440.89,41.24 441.07,41.23 441.26,41.22 441.45,41.22 441.64,41.22 441.83,41.22 442.01,41.23 442.2,41.24 442.39,41.26 442.58,41.27 442.77,41.29 442.95,41.31 443.14,41.33 443.33,41.36 443.52,41.39 443.7,41.42 443.89,41.45 444.08,41.48 444.27,41.51 444.46,41.55 444.64,41.58 444.83,41.62 445.02,41.66 445.21,41.72 445.4,41.78 445.58,41.86 445.77,41.94 445.96,42.03 446.15,42.12 446.34,42.22 446.52,42.33 446.71,42.45 446.9,42.56 447.09,42.68 447.27,42.81 447.46,42.93 447.65,43.06 447.84,43.19 448.03,43.33 448.21,43.48 448.4,43.64 448.59,43.81 448.78,43.99 448.97,44.18 449.15,44.38 449.34,44.58 449.53,44.79 449.72,45.01 449.9,45.23 450.09,45.46 450.28,45.69 450.47,45.93 450.66,46.18 450.84,46.44 451.03,46.72 451.22,47.02 451.41,47.32 451.6,47.64 451.78,47.96 451.97,48.29 452.16,48.62 452.35,48.96 452.53,49.3 452.72,49.64 452.91,50 453.1,50.37 453.29,50.75 453.47,51.15 453.66,51.54 453.85,51.94 454.04,52.34 454.23,52.73 454.41,53.11 454.6,53.47 454.79,53.81 454.98,54.14 455.16,54.47 455.35,54.82 455.54,55.18 455.73,55.54 455.92,55.91 456.1,56.27 456.29,56.64 456.48,56.99 456.67,57.33 456.86,57.66 457.04,57.97 457.23,58.27 457.42,58.54 457.61,58.78 457.79,58.99 457.98,59.17 458.17,59.31 458.36,59.42 458.55,59.48 458.73,59.49 458.92,59.47 459.11,59.43 459.3,59.38 459.49,59.33 459.67,59.28 459.86,59.25 460.05,59.23 460.24,59.44 460.42,60.02 460.61,60.84 460.8,61.79 460.99,62.72 461.18,63.52 461.36,64.03 461.55,64.26 461.74,64.44 461.93,64.62 462.12,64.78 462.3,64.93 462.49,65.08 462.68,65.21 462.87,65.33 463.05,65.45 463.24,65.56 463.43,65.66 463.62,65.76 463.81,65.84 463.99,65.93 464.18,66.01 464.37,66.08 464.56,66.15 464.75,66.22 464.93,66.28 465.12,66.35 465.31,66.41 465.5,66.47 465.68,66.53 465.87,66.59 466.06,66.65 466.25,66.72 466.44,66.78 466.62,66.85 466.81,66.92 467,67 467.19,67.08 467.38,67.16 467.56,67.25 467.75,67.34 467.94,67.45 468.13,67.55 468.31,67.66 468.5,67.76 468.69,67.85 468.88,67.95 469.07,68.05 469.25,68.14 469.44,68.24 469.63,68.33 469.82,68.43 470.01,68.53 470.19,68.63 470.38,68.74 470.57,68.85 470.76,68.96 470.94,69.08 471.13,69.2 471.32,69.33 471.51,69.47 471.7,69.61 471.88,69.76 472.07,69.92 472.26,70.08 472.45,70.26 472.64,70.45 472.82,70.66 473.01,70.9 473.2,71.18 473.39,71.49 473.57,71.82 473.76,72.18 473.98,72.64 474.24,137.34 474.27,137.34 474.53,73.87 474.7,74.28 474.89,74.74 475.08,75.21 475.27,75.69 475.45,76.17 475.64,76.66 475.83,77.19 476.02,77.81 476.2,78.48 476.39,79.2 476.58,79.94 476.77,80.69 476.96,81.44 477.14,82.17 477.33,82.85 477.52,83.48 477.71,84.03 477.9,84.49 478.08,84.85 478.27,85.13 478.46,85.38 478.65,85.61 478.83,85.82 479.02,86.01 479.21,86.19 479.4,86.36 479.59,86.52 479.77,86.68 479.96,86.85 480.15,87.02 480.34,87.2 480.53,87.4 480.71,87.61 480.9,87.83 481.09,88.05 481.28,88.27 481.46,88.49 481.65,88.72 481.84,88.95 482.03,89.18 482.22,89.42 482.4,89.65 482.59,89.88 482.72,90.04 482.98,137.34 483.01,137.34 483.26,90.72 483.34,90.81 483.53,91.04 483.72,91.26 483.91,91.49 484.09,91.7 484.28,91.92 484.47,92.13 484.66,92.33 484.85,92.55 485.03,92.78 485.22,93.03 485.41,93.28 485.6,93.52 485.79,93.76 485.97,93.99 486.16,94.2 486.35,94.38 486.54,94.54 486.72,94.65 486.91,94.72 487.1,94.75 487.29,94.73 487.48,94.69 487.66,94.62 487.85,94.53 488.04,94.43 488.23,94.32 488.42,94.19 488.6,94.06 488.79,93.93 488.98,93.8 489.17,93.67 489.35,93.55 489.54,93.44 489.73,93.35 489.92,93.28 490.11,93.23 490.29,93.2 490.48,93.23 490.67,93.41 490.86,93.71 491.05,94.13 491.23,94.65 491.42,95.26 491.61,95.93 491.8,96.64 491.98,97.38 492.17,98.14 492.36,98.89 492.55,99.62 492.74,100.3 492.92,100.93 493.11,101.49 493.3,102.01 493.49,102.52 493.68,103.02 493.86,103.52 494.05,104.02 494.24,104.51 494.43,104.99 494.61,105.47 494.8,105.95 494.99,106.42 495.18,106.89 495.37,107.36 495.55,107.82 495.74,108.28 495.93,108.74 496.12,109.19 496.31,109.65 496.49,110.11 496.68,110.61 496.87,111.13 497.06,111.68 497.24,112.25 497.43,112.82 497.62,113.39 497.81,113.95 498,114.49 498.18,115 498.37,115.49 498.56,115.93 498.75,116.32 498.94,116.65 499.12,116.92 499.31,117.12 499.5,117.24 499.69,117.26 499.87,117.2 500.06,117.07 500.25,116.88 500.44,116.64 500.63,116.35 500.81,116.03 501,115.68 501.19,115.32 501.38,114.96 501.57,114.6 501.75,114.25 501.94,113.93 502.13,113.64 502.32,113.4 502.5,113.21 502.69,113.08 502.88,113.02 503.07,113.02 503.26,113.04 503.44,113.07 503.63,113.12 503.82,113.17 504.01,113.24 504.2,113.32 504.38,113.41 504.57,113.51 504.76,113.62 504.95,113.73 505.13,113.86 505.32,113.99 505.51,114.13 505.7,114.28 505.89,114.43 506.07,114.58 506.26,114.75 506.45,114.97 506.64,115.27 506.83,115.62 507.01,116.02 507.2,116.47 507.39,116.95 507.58,117.47 507.76,118 507.95,118.56 508.14,119.12 508.33,119.68 508.52,120.23 508.7,120.77 508.89,121.29 509.08,121.79 509.27,122.31 509.46,122.84 509.64,123.37 509.83,123.92 510.02,124.47" stroke="#d43a3a" stroke-width="1.15"/>
<polyline points="378.16,130.9 378.35,127.75 378.54,124.7 378.72,121.87 378.91,119.35 379.1,117.26 379.29,115.71 379.48,114.81 379.66,114.45 379.85,114.17 380.04,113.93 380.23,113.72 380.41,113.55 380.6,113.41 380.79,113.3 380.98,113.21 381.17,113.15 381.35,113.09 381.54,113.04 381.73,113 381.92,112.96 382.11,112.92 382.29,112.88 382.48,112.85 382.67,112.83 382.86,112.8 383.04,112.78 383.23,112.77 383.42,112.76 383.61,112.76 383.8,112.8 383.98,112.91 384.17,113.07 384.36,113.25 384.55,113.45 384.74,113.64 384.92,113.79 385.11,113.89 385.3,113.91 385.49,113.74 385.67,113.38 385.86,112.89 386.05,112.33 386.24,111.76 386.43,111.24 386.61,110.84 386.8,110.6 386.99,110.6 387.18,110.77 387.37,111.08 387.55,111.48 387.74,111.92 387.93,112.35 388.12,112.73 388.3,113.01 388.49,113.14 388.68,113.05 388.87,112.67 389.06,112.02 389.24,111.16 389.43,110.12 389.62,108.94 389.81,107.66 390,106.31 390.18,104.95 390.37,103.6 390.56,102.31 390.75,101.11 390.93,100.05 391.12,99.08 391.31,98 391.5,96.87 391.69,95.74 391.87,94.67 392.06,93.73 392.25,92.98 392.44,92.49 392.63,92.3 392.81,92.42 393,92.74 393.19,93.21 393.38,93.76 393.56,94.33 393.75,94.86 393.94,95.3 394.13,95.58 394.32,95.65 394.5,95.63 394.69,95.58 394.88,95.52 395.07,95.44 395.26,95.34 395.44,95.23 395.63,95.1 395.82,94.96 396.01,94.81 396.19,94.66 396.38,94.5 396.57,94.34 396.76,94.18 396.95,94.02 397.13,93.86 397.32,93.68 397.51,93.49 397.7,93.29 397.89,93.08 398.07,92.85 398.26,92.61 398.45,92.35 398.64,92.08 398.82,91.8 399.01,91.51 399.2,91.2 399.39,90.87 399.58,90.52 399.76,90.1 399.95,89.61 400.14,89.07 400.33,88.48 400.52,87.88 400.7,87.26 400.89,86.65 401.08,86.05 401.27,85.48 401.45,84.96 401.64,84.49 401.83,84.09 402.02,83.76 402.21,83.46 402.39,83.18 402.58,82.91 402.77,82.67 402.96,82.43 403.15,82.21 403.33,82 403.52,81.8 403.71,81.6 403.9,81.4 404.08,81.2 404.27,81 404.46,80.8 404.65,80.59 404.84,80.38 405.02,80.15 405.21,79.92 405.4,79.67 405.59,79.42 405.78,79.17 405.96,78.91 406.15,78.66 406.34,78.4 406.53,78.13 406.71,77.87 406.9,77.61 407.09,77.35 407.28,77.1 407.47,76.84 407.65,76.59 407.84,76.34 408.03,76.09 408.22,75.83 408.41,75.58 408.59,75.32 408.78,75.07 408.97,74.81 409.16,74.56 409.34,74.31 409.53,74.06 409.72,73.82 409.91,73.58 410.1,73.34 410.28,73.11 410.47,72.88 410.66,72.66 410.85,72.44 411.04,72.23 411.22,72.02 411.41,71.81 411.6,71.61 411.79,71.4 411.97,71.2 412.16,71 412.35,70.81 412.54,70.62 412.73,70.43 412.91,70.25 413.1,70.07 413.29,69.9 413.48,69.73 413.67,69.57 413.85,69.41 414.04,69.26 414.23,69.12 414.42,68.98 414.6,68.86 414.79,68.75 414.98,68.64 415.17,68.54 415.36,68.45 415.54,68.35 415.73,68.25 415.92,68.15 416.11,68.04 416.3,67.93 416.48,67.81 416.67,67.67 416.86,67.52 417.05,67.36 417.23,67.17 417.42,66.95 417.61,66.72 417.8,66.47 417.99,66.2 418.17,65.92 418.36,65.64 418.55,65.35 418.74,65.07 418.93,64.78 419.11,64.5 419.3,64.24 419.49,63.98 419.68,63.74 419.86,63.5 420.05,63.27 420.24,63.04 420.43,62.81 420.62,62.57 420.8,62.33 420.99,62.09 421.18,61.82 421.37,61.55 421.56,61.26 421.74,60.95 421.93,60.6 422.12,60.15 422.31,59.61 422.49,59.01 422.68,58.38 422.87,57.73 423.06,57.11 423.25,56.53 423.43,56.03 423.62,55.63 423.81,55.36 424,55.25 424.19,55.29 424.37,55.44 424.56,55.67 424.75,55.95 424.94,56.26 425.12,56.59 425.31,56.89 425.5,57.14 425.69,57.33 425.88,57.43 426.06,57.4 426.25,57.23 426.44,56.94 426.63,56.54 426.82,56.05 427,55.49 427.19,54.88 427.38,54.24 427.57,53.57 427.75,52.9 427.94,52.25 428.13,51.64 428.32,51.07 428.51,50.56 428.69,50.03 428.88,49.49 429.07,48.94 429.26,48.38 429.45,47.82 429.63,47.26 429.82,46.7 430.01,46.15 430.2,45.62 430.38,45.1 430.57,44.6 430.76,44.13 430.95,43.68 431.14,43.27 431.32,42.89 431.51,42.56 431.7,42.23 431.89,41.92 432.08,41.62 432.26,41.33 432.45,41.06 432.64,40.79 432.83,40.54 433.01,40.29 433.2,40.06 433.39,39.83 433.58,39.62 433.77,39.41 433.95,39.21 434.14,39.02 434.33,38.83 434.52,38.64 434.71,38.46 434.89,38.29 435.08,38.11 435.27,37.95 435.46,37.79 435.64,37.64 435.83,37.49 436.02,37.35 436.21,37.22 436.4,37.1 436.58,36.99 436.77,36.89 436.96,36.79 437.15,36.7 437.34,36.62 437.52,36.53 437.71,36.45 437.9,36.37 438.09,36.3 438.27,36.23 438.46,36.16 438.65,36.1 438.84,36.04 439.03,35.99 439.21,35.95 439.4,35.91 439.59,35.88 439.78,35.85 439.97,35.82 440.15,35.8 440.34,35.77 440.53,35.75 440.72,35.73 440.9,35.71 441.09,35.7 441.28,35.69 441.47,35.69 441.66,35.69 441.84,35.7 442.03,35.71 442.22,35.72 442.41,35.74 442.6,35.77 442.78,35.79 442.97,35.82 443.16,35.85 443.35,35.88 443.53,35.92 443.72,35.95 443.91,36 444.1,36.05 444.29,36.12 444.47,36.2 444.66,36.29 444.85,36.38 445.04,36.48 445.23,36.59 445.41,36.71 445.6,36.82 445.79,36.95 445.98,37.07 446.16,37.2 446.35,37.32 446.54,37.45 446.73,37.58 446.92,37.73 447.1,37.88 447.29,38.04 447.48,38.2 447.67,38.38 447.86,38.56 448.04,38.74 448.23,38.93 448.42,39.13 448.61,39.33 448.79,39.54 448.98,39.75 449.17,39.97 449.36,40.2 449.55,40.44 449.73,40.7 449.92,40.97 450.11,41.25 450.3,41.54 450.49,41.84 450.67,42.14 450.86,42.44 451.05,42.75 451.24,43.05 451.42,43.35 451.61,43.65 451.8,43.94 451.99,44.23 452.18,44.52 452.36,44.8 452.55,45.09 452.74,45.37 452.93,45.66 453.12,45.94 453.3,46.23 453.49,46.52 453.68,46.8 453.87,47.09 454.05,47.39 454.24,47.68 454.43,47.98 454.62,48.27 454.81,48.57 454.99,48.88 455.18,49.22 455.37,49.58 455.56,49.96 455.75,50.36 455.93,50.77 456.12,51.19 456.31,51.62 456.5,52.05 456.68,52.47 456.87,52.89 457.06,53.3 457.25,53.7 457.44,54.08 457.62,54.44 457.81,54.78 458,55.09 458.19,55.36 458.38,55.6 458.56,55.81 458.75,55.96 458.94,56.07 459.13,56.13 459.31,56.13 459.5,55.94 459.69,55.62 459.88,55.26 460.07,54.94 460.25,54.75 460.44,54.86 460.63,55.61 460.82,56.76 461.01,58.05 461.19,59.2 461.38,59.93 461.57,60.19 461.76,60.41 461.94,60.6 462.13,60.78 462.32,60.93 462.51,61.07 462.7,61.19 462.88,61.3 463.07,61.4 463.26,61.49 463.45,61.58 463.64,61.66 463.82,61.74 464.01,61.83 464.2,61.92 464.39,62.01 464.57,62.12 464.76,62.23 464.95,62.35 465.14,62.46 465.33,62.58 465.51,62.69 465.7,62.8 465.89,62.92 466.08,63.03 466.27,63.14 466.45,63.25 466.64,63.35 466.83,63.46 467.02,63.57 467.2,63.68 467.39,63.79 467.58,63.9 467.77,64 467.96,64.11 468.14,64.22 468.33,64.32 468.52,64.43 468.71,64.53 468.9,64.63 469.08,64.72 469.27,64.82 469.46,64.92 469.65,65.01 469.83,65.11 470.02,65.2 470.21,65.3 470.4,65.39 470.59,65.49 470.77,65.58 470.96,65.68 471.15,65.77 471.34,65.87 471.53,65.97 471.71,66.07 471.9,66.17 472.09,66.28 472.28,66.38 472.46,66.49 472.65,66.6 472.84,66.71 473.03,66.83 473.22,66.95 473.4,67.07 473.59,67.2 473.78,67.32 473.97,67.46 474.16,67.59 474.34,67.73 474.53,67.88 474.72,68.02 474.91,68.17 475.09,68.33 475.28,68.49 475.47,68.65 475.66,68.81 475.85,68.98 476.03,69.15 476.22,69.32 476.41,69.5 476.6,69.68 476.79,69.87 476.97,70.06 477.16,70.25 477.35,70.45 477.54,70.65 477.72,70.86 477.91,71.06 478.1,71.28 478.29,71.49 478.48,71.71 478.66,71.93 478.85,72.16 479.04,72.39 479.23,72.63 479.42,72.87 479.6,73.11 479.79,73.36 479.98,73.62 480.17,73.9 480.35,74.2 480.54,74.51 480.73,74.83 480.92,75.16 481.11,75.5 481.29,75.85 481.48,76.21 481.67,76.56 481.86,76.92 482.05,77.28 482.23,77.64 482.42,78 482.61,78.35 482.8,78.7 482.98,79.04 483.17,79.37 483.36,79.71 483.55,80.04 483.74,80.38 483.92,80.71 484.11,81.05 484.3,81.38 484.49,81.72 484.68,82.06 484.86,82.4 485.05,82.73 485.24,83.07 485.43,83.41 485.61,83.75 485.8,84.09 485.99,84.46 486.18,84.86 486.37,85.28 486.55,85.72 486.74,86.17 486.93,86.62 487.12,87.07 487.31,87.51 487.49,87.93 487.68,88.33 487.87,88.69 488.06,89.02 488.25,89.3 488.43,89.53 488.62,89.71 488.81,89.82 489,89.86 489.18,89.83 489.37,89.75 489.56,89.63 489.75,89.48 489.94,89.31 490.12,89.13 490.31,88.93 490.5,88.75 490.69,88.57 490.88,88.42 491.06,88.3 491.25,88.22 491.44,88.18 491.63,88.33 491.81,88.78 492,89.46 492.19,90.32 492.38,91.29 492.57,92.29 492.75,93.27 492.94,94.15 493.13,94.88 493.32,95.57 493.51,96.29 493.69,97.04 493.88,97.81 494.07,98.58 494.26,99.35 494.44,100.1 494.63,100.84 494.82,101.53 495.01,102.19 495.2,102.79 495.38,103.34 495.57,103.81 495.76,104.19 495.95,104.49 496.14,104.69 496.32,104.78 496.51,104.77 496.7,104.7 496.89,104.6 497.07,104.48 497.26,104.34 497.45,104.22 497.64,104.11 497.83,104.04 498.01,104.01 498.2,104.17 498.39,104.6 498.58,105.24 498.77,106.05 498.95,106.99 499.14,107.99 499.33,109.03 499.52,110.03 499.7,110.97 499.89,111.78 500.08,112.43 500.27,112.85 500.46,113.02 500.64,112.97 500.83,112.82 501.02,112.6 501.21,112.31 501.4,111.98 501.58,111.62 501.77,111.26 501.96,110.89 502.15,110.56 502.33,110.26 502.52,110.03 502.71,109.87 502.9,109.8 503.09,109.81 503.27,109.86 503.46,109.94 503.65,110.04 503.84,110.17 504.03,110.32 504.21,110.5 504.4,110.69 504.59,110.9 504.78,111.12 504.96,111.36 505.15,111.6 505.34,111.85 505.53,112.11 505.72,112.37 505.9,112.62 506.09,112.88 506.28,113.13 506.47,113.4 506.66,113.68 506.84,113.98 507.03,114.3 507.22,114.64 507.41,114.99 507.59,115.36 507.78,115.74 507.97,116.14 508.16,116.55 508.35,116.97 508.53,117.4 508.72,117.84 508.91,118.29 509.1,118.76 509.29,119.23 509.47,119.71" stroke="#111" stroke-width="1.3"/>
</g>
<rect x="372.8" y="22.6" width="136.7" height="101.4" fill="none" stroke="#222" stroke-width="0.9"/>
<line x1="372.7" y1="124" x2="372.7" y2="122.2" stroke="#222" stroke-width="0.7" />
<line x1="372.7" y1="22.6" x2="372.7" y2="24.4" stroke="#222" stroke-width="0.7" />
<text x="372.7" y="136" font-size="8.9" font-weight="normal" fill="#333" text-anchor="middle" font-style="normal" >1010</text>
<line x1="400" y1="124" x2="400" y2="122.2" stroke="#222" stroke-width="0.7" />
<line x1="400" y1="22.6" x2="400" y2="24.4" stroke="#222" stroke-width="0.7" />
<text x="400" y="136" font-size="8.9" font-weight="normal" fill="#333" text-anchor="middle" font-style="normal" >1020</text>
<line x1="427.3" y1="124" x2="427.3" y2="122.2" stroke="#222" stroke-width="0.7" />
<line x1="427.3" y1="22.6" x2="427.3" y2="24.4" stroke="#222" stroke-width="0.7" />
<text x="427.3" y="136" font-size="8.9" font-weight="normal" fill="#333" text-anchor="middle" font-style="normal" >1030</text>
<line x1="454.6" y1="124" x2="454.6" y2="122.2" stroke="#222" stroke-width="0.7" />
<line x1="454.6" y1="22.6" x2="454.6" y2="24.4" stroke="#222" stroke-width="0.7" />
<text x="454.6" y="136" font-size="8.9" font-weight="normal" fill="#333" text-anchor="middle" font-style="normal" >1040</text>
<line x1="481.9" y1="124" x2="481.9" y2="122.2" stroke="#222" stroke-width="0.7" />
<line x1="481.9" y1="22.6" x2="481.9" y2="24.4" stroke="#222" stroke-width="0.7" />
<text x="481.9" y="136" font-size="8.9" font-weight="normal" fill="#333" text-anchor="middle" font-style="normal" >1050</text>
<line x1="509.2" y1="124" x2="509.2" y2="122.2" stroke="#222" stroke-width="0.7" />
<line x1="509.2" y1="22.6" x2="509.2" y2="24.4" stroke="#222" stroke-width="0.7" />
<text x="509.2" y="136" font-size="8.9" font-weight="normal" fill="#333" text-anchor="middle" font-style="normal" >1060</text>
<line x1="372.8" y1="34.4" x2="374.6" y2="34.4" stroke="#222" stroke-width="0.7" />
<line x1="509.5" y1="34.4" x2="507.7" y2="34.4" stroke="#222" stroke-width="0.7" />
<text x="368.4" y="37.6" font-size="8.9" font-weight="normal" fill="#333" text-anchor="end" font-style="normal" >0</text>
<line x1="372.8" y1="60.13" x2="374.6" y2="60.13" stroke="#222" stroke-width="0.7" />
<line x1="509.5" y1="60.13" x2="507.7" y2="60.13" stroke="#222" stroke-width="0.7" />
<text x="368.4" y="63.33" font-size="8.9" font-weight="normal" fill="#333" text-anchor="end" font-style="normal" >-20</text>
<line x1="372.8" y1="85.87" x2="374.6" y2="85.87" stroke="#222" stroke-width="0.7" />
<line x1="509.5" y1="85.87" x2="507.7" y2="85.87" stroke="#222" stroke-width="0.7" />
<text x="368.4" y="89.07" font-size="8.9" font-weight="normal" fill="#333" text-anchor="end" font-style="normal" >-40</text>
<line x1="372.8" y1="111.6" x2="374.6" y2="111.6" stroke="#222" stroke-width="0.7" />
<line x1="509.5" y1="111.6" x2="507.7" y2="111.6" stroke="#222" stroke-width="0.7" />
<text x="368.4" y="114.8" font-size="8.9" font-weight="normal" fill="#333" text-anchor="end" font-style="normal" >-60</text>
<text x="444" y="147.8" font-size="10" font-weight="normal" fill="#333" text-anchor="middle" font-style="normal" >Wavelength (nm)</text>
<text x="0" y="0" font-size="10.2" font-weight="normal" fill="#333" text-anchor="middle" font-style="normal" transform="translate(351.2,72.5) rotate(-90)">Intensity (dBm)</text>
<line x1="400.3" y1="63" x2="400.3" y2="74.2" stroke="#3d5ea8" stroke-width="1" /><polygon points="400.3,78.7 398.4,73.7 402.2,73.7" fill="#3d5ea8"/>
<line x1="410.3" y1="51" x2="410.3" y2="63.4" stroke="#3d5ea8" stroke-width="1" /><polygon points="410.3,67.9 408.4,62.9 412.2,62.9" fill="#3d5ea8"/>
<line x1="474" y1="46" x2="474" y2="58.9" stroke="#3d5ea8" stroke-width="1" /><polygon points="474,63.4 472.1,58.4 475.9,58.4" fill="#3d5ea8"/>
<line x1="483" y1="58.3" x2="483" y2="70.1" stroke="#3d5ea8" stroke-width="1" /><polygon points="483,74.6 481.1,69.6 484.9,69.6" fill="#3d5ea8"/>
<line x1="410.3" y1="124" x2="410.3" y2="111.9" stroke="#c8303a" stroke-width="1" /><polygon points="410.3,107.4 412.2,112.4 408.4,112.4" fill="#c8303a"/>
<line x1="474" y1="124" x2="474" y2="111.9" stroke="#c8303a" stroke-width="1" /><polygon points="474,107.4 475.9,112.4 472.1,112.4" fill="#c8303a"/>
<line x1="483" y1="124" x2="483" y2="111.9" stroke="#c8303a" stroke-width="1" /><polygon points="483,107.4 484.9,112.4 481.1,112.4" fill="#c8303a"/>
<text x="463.2" y="43.5" font-size="8.6" font-weight="bold" fill="#3d5ea8" text-anchor="start" font-style="normal" >Kelly SBs</text>
<text x="437" y="117.2" font-size="8.5" font-weight="bold" fill="#c8303a" text-anchor="start" font-style="normal" >Dip SBs</text>
<text x="0.8" y="169.8" font-size="12" font-weight="bold" fill="#111" text-anchor="start" font-style="normal" >(c)</text>
<g fill="none" stroke="#b8b8b8" stroke-width="1.1">
<ellipse cx="53" cy="187.3" rx="5.59" ry="5.59" transform="rotate(45 53 187.3)"/>
<ellipse cx="53" cy="208.07" rx="6.57" ry="4.39" transform="rotate(45 53 208.07)"/>
<ellipse cx="53" cy="228.85" rx="7.3" ry="3.02" transform="rotate(45 53 228.85)"/>
<ellipse cx="53" cy="249.62" rx="7.75" ry="1.54" transform="rotate(45 53 249.62)"/>
<line x1="47.41" y1="264.81" x2="58.59" y2="275.99" stroke="#b8b8b8" stroke-width="1.1" stroke-linecap="round"/>
<ellipse cx="53" cy="291.18" rx="7.75" ry="1.54" transform="rotate(45 53 291.18)"/>
<ellipse cx="53" cy="311.95" rx="7.3" ry="3.02" transform="rotate(45 53 311.95)"/>
<ellipse cx="53" cy="332.73" rx="6.57" ry="4.39" transform="rotate(45 53 332.73)"/>
<ellipse cx="53" cy="353.5" rx="5.59" ry="5.59" transform="rotate(45 53 353.5)"/>
<ellipse cx="73.88" cy="187.3" rx="5.59" ry="5.59" transform="rotate(33.75 73.88 187.3)"/>
<ellipse cx="73.88" cy="208.07" rx="6.57" ry="4.39" transform="rotate(33.75 73.88 208.07)"/>
<ellipse cx="73.88" cy="228.85" rx="7.3" ry="3.02" transform="rotate(33.75 73.88 228.85)"/>
<ellipse cx="73.88" cy="249.62" rx="7.75" ry="1.54" transform="rotate(33.75 73.88 249.62)"/>
<line x1="67.31" y1="266.01" x2="80.44" y2="274.79" stroke="#b8b8b8" stroke-width="1.1" stroke-linecap="round"/>
<ellipse cx="73.88" cy="291.18" rx="7.75" ry="1.54" transform="rotate(33.75 73.88 291.18)"/>
<ellipse cx="73.88" cy="311.95" rx="7.3" ry="3.02" transform="rotate(33.75 73.88 311.95)"/>
<ellipse cx="73.88" cy="332.73" rx="6.57" ry="4.39" transform="rotate(33.75 73.88 332.73)"/>
<ellipse cx="73.88" cy="353.5" rx="5.59" ry="5.59" transform="rotate(33.75 73.88 353.5)"/>
<ellipse cx="94.75" cy="187.3" rx="5.59" ry="5.59" transform="rotate(22.5 94.75 187.3)"/>
<ellipse cx="94.75" cy="208.07" rx="6.57" ry="4.39" transform="rotate(22.5 94.75 208.07)"/>
<ellipse cx="94.75" cy="228.85" rx="7.3" ry="3.02" transform="rotate(22.5 94.75 228.85)"/>
<ellipse cx="94.75" cy="249.62" rx="7.75" ry="1.54" transform="rotate(22.5 94.75 249.62)"/>
<line x1="87.45" y1="267.38" x2="102.05" y2="273.42" stroke="#b8b8b8" stroke-width="1.1" stroke-linecap="round"/>
<ellipse cx="94.75" cy="291.18" rx="7.75" ry="1.54" transform="rotate(22.5 94.75 291.18)"/>
<ellipse cx="94.75" cy="311.95" rx="7.3" ry="3.02" transform="rotate(22.5 94.75 311.95)"/>
<ellipse cx="94.75" cy="332.73" rx="6.57" ry="4.39" transform="rotate(22.5 94.75 332.73)"/>
<ellipse cx="94.75" cy="353.5" rx="5.59" ry="5.59" transform="rotate(22.5 94.75 353.5)"/>
<ellipse cx="115.62" cy="187.3" rx="5.59" ry="5.59" transform="rotate(11.25 115.62 187.3)"/>
<ellipse cx="115.62" cy="208.07" rx="6.57" ry="4.39" transform="rotate(11.25 115.62 208.07)"/>
<ellipse cx="115.62" cy="228.85" rx="7.3" ry="3.02" transform="rotate(11.25 115.62 228.85)"/>
<ellipse cx="115.62" cy="249.62" rx="7.75" ry="1.54" transform="rotate(11.25 115.62 249.62)"/>
<line x1="107.88" y1="268.86" x2="123.37" y2="271.94" stroke="#b8b8b8" stroke-width="1.1" stroke-linecap="round"/>
<ellipse cx="115.62" cy="291.18" rx="7.75" ry="1.54" transform="rotate(11.25 115.62 291.18)"/>
<ellipse cx="115.62" cy="311.95" rx="7.3" ry="3.02" transform="rotate(11.25 115.62 311.95)"/>
<ellipse cx="115.62" cy="332.73" rx="6.57" ry="4.39" transform="rotate(11.25 115.62 332.73)"/>
<ellipse cx="115.62" cy="353.5" rx="5.59" ry="5.59" transform="rotate(11.25 115.62 353.5)"/>
<ellipse cx="136.5" cy="187.3" rx="5.59" ry="5.59" transform="rotate(0 136.5 187.3)"/>
<ellipse cx="136.5" cy="208.07" rx="6.57" ry="4.39" transform="rotate(0 136.5 208.07)"/>
<ellipse cx="136.5" cy="228.85" rx="7.3" ry="3.02" transform="rotate(0 136.5 228.85)"/>
<ellipse cx="136.5" cy="249.62" rx="7.75" ry="1.54" transform="rotate(0 136.5 249.62)"/>
<line x1="128.6" y1="270.4" x2="144.4" y2="270.4" stroke="#b8b8b8" stroke-width="1.1" stroke-linecap="round"/>
<ellipse cx="136.5" cy="291.18" rx="7.75" ry="1.54" transform="rotate(0 136.5 291.18)"/>
<ellipse cx="136.5" cy="311.95" rx="7.3" ry="3.02" transform="rotate(0 136.5 311.95)"/>
<ellipse cx="136.5" cy="332.73" rx="6.57" ry="4.39" transform="rotate(0 136.5 332.73)"/>
<ellipse cx="136.5" cy="353.5" rx="5.59" ry="5.59" transform="rotate(0 136.5 353.5)"/>
<ellipse cx="157.38" cy="187.3" rx="5.59" ry="5.59" transform="rotate(-11.25 157.38 187.3)"/>
<ellipse cx="157.38" cy="208.07" rx="6.57" ry="4.39" transform="rotate(-11.25 157.38 208.07)"/>
<ellipse cx="157.38" cy="228.85" rx="7.3" ry="3.02" transform="rotate(-11.25 157.38 228.85)"/>
<ellipse cx="157.38" cy="249.62" rx="7.75" ry="1.54" transform="rotate(-11.25 157.38 249.62)"/>
<line x1="149.63" y1="271.94" x2="165.12" y2="268.86" stroke="#b8b8b8" stroke-width="1.1" stroke-linecap="round"/>
<ellipse cx="157.38" cy="291.18" rx="7.75" ry="1.54" transform="rotate(-11.25 157.38 291.18)"/>
<ellipse cx="157.38" cy="311.95" rx="7.3" ry="3.02" transform="rotate(-11.25 157.38 311.95)"/>
<ellipse cx="157.38" cy="332.73" rx="6.57" ry="4.39" transform="rotate(-11.25 157.38 332.73)"/>
<ellipse cx="157.38" cy="353.5" rx="5.59" ry="5.59" transform="rotate(-11.25 157.38 353.5)"/>
<ellipse cx="178.25" cy="187.3" rx="5.59" ry="5.59" transform="rotate(-22.5 178.25 187.3)"/>
<ellipse cx="178.25" cy="208.07" rx="6.57" ry="4.39" transform="rotate(-22.5 178.25 208.07)"/>
<ellipse cx="178.25" cy="228.85" rx="7.3" ry="3.02" transform="rotate(-22.5 178.25 228.85)"/>
<ellipse cx="178.25" cy="249.62" rx="7.75" ry="1.54" transform="rotate(-22.5 178.25 249.62)"/>
<line x1="170.95" y1="273.42" x2="185.55" y2="267.38" stroke="#b8b8b8" stroke-width="1.1" stroke-linecap="round"/>
<ellipse cx="178.25" cy="291.18" rx="7.75" ry="1.54" transform="rotate(-22.5 178.25 291.18)"/>
<ellipse cx="178.25" cy="311.95" rx="7.3" ry="3.02" transform="rotate(-22.5 178.25 311.95)"/>
<ellipse cx="178.25" cy="332.73" rx="6.57" ry="4.39" transform="rotate(-22.5 178.25 332.73)"/>
<ellipse cx="178.25" cy="353.5" rx="5.59" ry="5.59" transform="rotate(-22.5 178.25 353.5)"/>
<ellipse cx="199.12" cy="187.3" rx="5.59" ry="5.59" transform="rotate(-33.75 199.12 187.3)"/>
<ellipse cx="199.12" cy="208.07" rx="6.57" ry="4.39" transform="rotate(-33.75 199.12 208.07)"/>
<ellipse cx="199.12" cy="228.85" rx="7.3" ry="3.02" transform="rotate(-33.75 199.12 228.85)"/>
<ellipse cx="199.12" cy="249.62" rx="7.75" ry="1.54" transform="rotate(-33.75 199.12 249.62)"/>
<line x1="192.56" y1="274.79" x2="205.69" y2="266.01" stroke="#b8b8b8" stroke-width="1.1" stroke-linecap="round"/>
<ellipse cx="199.12" cy="291.18" rx="7.75" ry="1.54" transform="rotate(-33.75 199.12 291.18)"/>
<ellipse cx="199.12" cy="311.95" rx="7.3" ry="3.02" transform="rotate(-33.75 199.12 311.95)"/>
<ellipse cx="199.12" cy="332.73" rx="6.57" ry="4.39" transform="rotate(-33.75 199.12 332.73)"/>
<ellipse cx="199.12" cy="353.5" rx="5.59" ry="5.59" transform="rotate(-33.75 199.12 353.5)"/>
<ellipse cx="220" cy="187.3" rx="5.59" ry="5.59" transform="rotate(-45 220 187.3)"/>
<ellipse cx="220" cy="208.07" rx="6.57" ry="4.39" transform="rotate(-45 220 208.07)"/>
<ellipse cx="220" cy="228.85" rx="7.3" ry="3.02" transform="rotate(-45 220 228.85)"/>
<ellipse cx="220" cy="249.62" rx="7.75" ry="1.54" transform="rotate(-45 220 249.62)"/>
<line x1="214.41" y1="275.99" x2="225.59" y2="264.81" stroke="#b8b8b8" stroke-width="1.1" stroke-linecap="round"/>
<ellipse cx="220" cy="291.18" rx="7.75" ry="1.54" transform="rotate(-45 220 291.18)"/>
<ellipse cx="220" cy="311.95" rx="7.3" ry="3.02" transform="rotate(-45 220 311.95)"/>
<ellipse cx="220" cy="332.73" rx="6.57" ry="4.39" transform="rotate(-45 220 332.73)"/>
<ellipse cx="220" cy="353.5" rx="5.59" ry="5.59" transform="rotate(-45 220 353.5)"/>
</g>
<rect x="41.3" y="175.4" width="191.1" height="189.5" fill="none" stroke="#111" stroke-width="1.1"/>
<line x1="53" y1="364.9" x2="53" y2="362.9" stroke="#111" stroke-width="0.8" />
<line x1="53" y1="175.4" x2="53" y2="177.4" stroke="#111" stroke-width="0.8" />
<line x1="41.3" y1="353.5" x2="43.3" y2="353.5" stroke="#111" stroke-width="0.8" />
<line x1="232.4" y1="353.5" x2="230.4" y2="353.5" stroke="#111" stroke-width="0.8" />
<text x="53" y="376.8" font-size="8" font-weight="normal" fill="#222" text-anchor="middle" font-style="normal" >-&#960;/2</text>
<text x="37.6" y="190.2" font-size="8" font-weight="normal" fill="#222" text-anchor="end" font-style="normal" >&#960;/2</text>
<line x1="94.75" y1="364.9" x2="94.75" y2="362.9" stroke="#111" stroke-width="0.8" />
<line x1="94.75" y1="175.4" x2="94.75" y2="177.4" stroke="#111" stroke-width="0.8" />
<line x1="41.3" y1="311.95" x2="43.3" y2="311.95" stroke="#111" stroke-width="0.8" />
<line x1="232.4" y1="311.95" x2="230.4" y2="311.95" stroke="#111" stroke-width="0.8" />
<text x="94.75" y="376.8" font-size="8" font-weight="normal" fill="#222" text-anchor="middle" font-style="normal" >-&#960;/4</text>
<text x="37.6" y="231.75" font-size="8" font-weight="normal" fill="#222" text-anchor="end" font-style="normal" >&#960;/4</text>
<line x1="136.5" y1="364.9" x2="136.5" y2="362.9" stroke="#111" stroke-width="0.8" />
<line x1="136.5" y1="175.4" x2="136.5" y2="177.4" stroke="#111" stroke-width="0.8" />
<line x1="41.3" y1="270.4" x2="43.3" y2="270.4" stroke="#111" stroke-width="0.8" />
<line x1="232.4" y1="270.4" x2="230.4" y2="270.4" stroke="#111" stroke-width="0.8" />
<text x="136.5" y="376.8" font-size="8" font-weight="normal" fill="#222" text-anchor="middle" font-style="normal" >0</text>
<text x="37.6" y="273.3" font-size="8" font-weight="normal" fill="#222" text-anchor="end" font-style="normal" >0</text>
<line x1="178.25" y1="364.9" x2="178.25" y2="362.9" stroke="#111" stroke-width="0.8" />
<line x1="178.25" y1="175.4" x2="178.25" y2="177.4" stroke="#111" stroke-width="0.8" />
<line x1="41.3" y1="228.85" x2="43.3" y2="228.85" stroke="#111" stroke-width="0.8" />
<line x1="232.4" y1="228.85" x2="230.4" y2="228.85" stroke="#111" stroke-width="0.8" />
<text x="178.25" y="376.8" font-size="8" font-weight="normal" fill="#222" text-anchor="middle" font-style="normal" >&#960;/4</text>
<text x="37.6" y="314.85" font-size="8" font-weight="normal" fill="#222" text-anchor="end" font-style="normal" >-&#960;/4</text>
<line x1="220" y1="364.9" x2="220" y2="362.9" stroke="#111" stroke-width="0.8" />
<line x1="220" y1="175.4" x2="220" y2="177.4" stroke="#111" stroke-width="0.8" />
<line x1="41.3" y1="187.3" x2="43.3" y2="187.3" stroke="#111" stroke-width="0.8" />
<line x1="232.4" y1="187.3" x2="230.4" y2="187.3" stroke="#111" stroke-width="0.8" />
<text x="220" y="376.8" font-size="8" font-weight="normal" fill="#222" text-anchor="middle" font-style="normal" >&#960;/2</text>
<text x="37.6" y="356.4" font-size="8" font-weight="normal" fill="#222" text-anchor="end" font-style="normal" >-&#960;/2</text>
<text x="137.4" y="388.6" font-size="9.6" font-weight="normal" fill="#222" text-anchor="middle" font-style="normal" >2&#968;</text>
<text x="0" y="0" font-size="9.6" font-weight="normal" fill="#222" text-anchor="middle" font-style="normal" transform="translate(24.4,271) rotate(-90)">2&#967;</text>
<path d="M212.74,198.7 A6.6,6.6 0 1 1 221.57,191.92" fill="none" stroke="#111" stroke-width="1.3"/><polygon points="220.15,197.65 219.17,191.32 224.37,192.32" fill="#111"/>
<path d="M212.74,342.4 A6.6,6.6 0 1 0 221.57,349.18" fill="none" stroke="#111" stroke-width="1.3"/><polygon points="220.15,343.45 219.17,349.78 224.37,348.78" fill="#111"/>
<polygon points="51.8,338.4 52.76,340.97 55.51,341.09 53.36,342.81 54.09,345.46 51.8,343.94 49.51,345.46 50.24,342.81 48.09,341.09 50.84,340.97" fill="#111"/>
<text x="58.2" y="346.4" font-size="11.2" font-weight="bold" fill="#111" text-anchor="start" font-style="normal" >PBS</text><text x="83" y="351.8" font-size="8.8" font-weight="bold" fill="#111" text-anchor="start" font-style="normal" >in(out)</text>
<path d="M141.2,250.5 L163.4,195.4 C180,197 196,206 203,222 C208,233 211,247 211.5,262" fill="none" stroke="#6d8fd0" stroke-width="0.9"/>
<polygon points="139.8,253.5 139.7,246.6 144.4,248.6" fill="#6d8fd0"/>
<polyline points="191.8,239.4 185.6,225.6 178,219.5 191,217.2 165.7,204.9 129.4,296.1 121.6,298" fill="none" stroke="#2d4f9e" stroke-width="1.5" stroke-linejoin="round"/>
<polyline points="129.4,296.1 132.4,301.2" fill="none" stroke="#2d4f9e" stroke-width="1.2"/>
<ellipse cx="191.8" cy="239.6" rx="2.6" ry="2.1" fill="#2d4f9e"/>
<circle cx="132.4" cy="301.3" r="2.3" fill="#3a5eb0"/>
<line x1="135" y1="301.3" x2="162.1" y2="300.69" stroke="#4a8fd0" stroke-width="1.1" stroke-dasharray="1.5,1.3"/><polygon points="166,300.6 161.65,302.7 161.56,298.7" fill="#4a8fd0"/>
<polygon points="132,280.5 129.3,286 134.2,285.5" fill="#4a86d0"/>
<polyline points="191.5,241.5 161.8,274" fill="none" stroke="#9cc86a" stroke-width="1.1"/>
<polyline points="161.8,274 189.4,251.8 192,268.5" fill="none" stroke="#6fb04a" stroke-width="0.9"/>
<line x1="189.4" y1="251.8" x2="177.79" y2="263.73" stroke="#5a9e3e" stroke-width="0.9" /><polygon points="175,266.6 176.63,261.91 179.64,264.84" fill="#5a9e3e"/>
<path d="M192.5,242 L194.5,259.5" stroke="#5a9e3e" stroke-width="1" stroke-dasharray="1.4,1.2"/>
<path d="M155.8,254 C156.5,257 157,260 158.8,264 L161.8,274" fill="none" stroke="#c8d84a" stroke-width="1.8"/>
<path d="M138.5,270.5 L157,265.5" stroke="#5a9e3e" stroke-width="1" stroke-dasharray="1.5,1.3"/>
<circle cx="158.8" cy="264.2" r="2.4" fill="#3e7a34"/>
<line x1="161.8" y1="274.5" x2="165.94" y2="289.25" stroke="#5a9e3e" stroke-width="1" stroke-dasharray="1.5,1.3"/><polygon points="167,293 163.88,289.31 167.73,288.22" fill="#5a9e3e"/>
<path d="M140,272.3 L195.5,279" stroke="#222" stroke-width="1" stroke-dasharray="1.5,1.3"/>
<line x1="146" y1="276.8" x2="186.55" y2="282.93" stroke="#333" stroke-width="1" /><polygon points="191,283.6 185.74,284.93 186.37,280.78" fill="#333"/>
<line x1="196.6" y1="261" x2="196.6" y2="279" stroke="#111" stroke-width="1" />
<circle cx="196.6" cy="261.3" r="2.2" fill="#111"/><circle cx="196.6" cy="272.7" r="1.5" fill="#111"/><circle cx="196" cy="279.3" r="3" fill="#111"/>
<path d="M108.3,205 L126.5,274" stroke="#222" stroke-width="1" stroke-dasharray="1.5,1.3"/>
<line x1="118.3" y1="256.5" x2="106.74" y2="216.13" stroke="#333" stroke-width="0.9" /><polygon points="105.5,211.8 108.8,216.06 104.95,217.16" fill="#333"/>
<circle cx="108.2" cy="203.3" r="3.0" fill="#111"/>
<circle cx="126.8" cy="274.4" r="2.5" fill="#111"/><circle cx="130" cy="276" r="2.5" fill="#6a2a9a"/>
<polygon points="137.6,265.8 138.49,268.18 141.02,268.29 139.04,269.87 139.72,272.31 137.6,270.91 135.48,272.31 136.16,269.87 134.18,268.29 136.71,268.18" fill="#111"/>
<circle cx="170.3" cy="299.8" r="3.6" fill="#e02a2a"/>
<text x="75" y="199.4" font-size="8.8" font-weight="normal" fill="#222" text-anchor="start" font-style="normal" >NPS</text><text x="92.4" y="205" font-size="6.4" font-weight="normal" fill="#222" text-anchor="start" font-style="normal" >out</text>
<text x="97.6" y="272.6" font-size="8.8" font-weight="normal" fill="#222" text-anchor="start" font-style="normal" >fiber</text><text x="112.9" y="277" font-size="6.4" font-weight="normal" fill="#222" text-anchor="start" font-style="normal" >out</text>
<text x="110.2" y="287.6" font-size="9.2" font-weight="bold" fill="#7a45b0" text-anchor="start" font-style="normal" >VS2</text>
<text x="123.3" y="315" font-size="9.6" font-weight="bold" fill="#3a5ba0" text-anchor="start" font-style="normal" >CCW</text><text x="144.2" y="320.5" font-size="7" font-weight="bold" fill="#3a5ba0" text-anchor="start" font-style="normal" >out</text>
<text x="175.2" y="310.6" font-size="9.6" font-weight="bold" fill="#d0262a" text-anchor="start" font-style="normal" >VS1</text>
<text x="151.6" y="251.5" font-size="9" font-weight="bold" fill="#5a9e3e" text-anchor="start" font-style="normal" >CW</text><text x="165.4" y="255.6" font-size="6.6" font-weight="bold" fill="#5a9e3e" text-anchor="start" font-style="normal" >out</text>
<text x="200.6" y="258.6" font-size="9.2" font-weight="normal" fill="#222" text-anchor="start" font-style="normal" textLength="18.4" lengthAdjust="spacingAndGlyphs">CCW</text><text x="219.4" y="261.4" font-size="6.4" font-weight="normal" fill="#222" text-anchor="start" font-style="normal" >in</text>
<text x="200.4" y="270" font-size="9.2" font-weight="normal" fill="#222" text-anchor="start" font-style="normal" textLength="15.6" lengthAdjust="spacingAndGlyphs">(CW</text><text x="216.6" y="272.9" font-size="6.4" font-weight="normal" fill="#222" text-anchor="start" font-style="normal" >in</text><text x="222" y="270" font-size="9.2" font-weight="normal" fill="#222" text-anchor="start" font-style="normal" >)</text>
<text x="200.6" y="286.6" font-size="9.4" font-weight="normal" fill="#222" text-anchor="start" font-style="normal" textLength="15.4" lengthAdjust="spacingAndGlyphs">fiber</text><text x="216.6" y="290.6" font-size="6.4" font-weight="normal" fill="#222" text-anchor="start" font-style="normal" >in</text>
<text x="258.4" y="171.9" font-size="12" font-weight="bold" fill="#111" text-anchor="start" font-style="normal" >(d)</text>
<g stroke="#e4e4e4" stroke-width="0.7" fill="none">
<line x1="342.1" y1="307.05" x2="342.1" y2="175.35" stroke="#e2e2e2" stroke-width="0.7" />
<line x1="391.95" y1="301.5" x2="391.95" y2="169.8" stroke="#e2e2e2" stroke-width="0.7" />
<line x1="286.9" y1="313.72" x2="360.5" y2="260.92" stroke="#e2e2e2" stroke-width="0.7" />
<line x1="360.5" y1="260.92" x2="486.3" y2="291.52" stroke="#e2e2e2" stroke-width="0.7" />
<line x1="342.1" y1="307.05" x2="467.9" y2="337.65" stroke="#e6e6e6" stroke-width="0.7" />
<line x1="391.95" y1="301.5" x2="318.35" y2="354.3" stroke="#e6e6e6" stroke-width="0.7" />
<line x1="323.7" y1="320.25" x2="323.7" y2="188.55" stroke="#e2e2e2" stroke-width="0.7" />
<line x1="423.4" y1="309.15" x2="423.4" y2="177.45" stroke="#e2e2e2" stroke-width="0.7" />
<line x1="286.9" y1="280.8" x2="360.5" y2="228" stroke="#e2e2e2" stroke-width="0.7" />
<line x1="360.5" y1="228" x2="486.3" y2="258.6" stroke="#e2e2e2" stroke-width="0.7" />
<line x1="323.7" y1="320.25" x2="449.5" y2="350.85" stroke="#e6e6e6" stroke-width="0.7" />
<line x1="423.4" y1="309.15" x2="349.8" y2="361.95" stroke="#e6e6e6" stroke-width="0.7" />
<line x1="305.3" y1="333.45" x2="305.3" y2="201.75" stroke="#e2e2e2" stroke-width="0.7" />
<line x1="454.85" y1="316.8" x2="454.85" y2="185.1" stroke="#e2e2e2" stroke-width="0.7" />
<line x1="286.9" y1="247.87" x2="360.5" y2="195.07" stroke="#e2e2e2" stroke-width="0.7" />
<line x1="360.5" y1="195.07" x2="486.3" y2="225.67" stroke="#e2e2e2" stroke-width="0.7" />
<line x1="305.3" y1="333.45" x2="431.1" y2="364.05" stroke="#e6e6e6" stroke-width="0.7" />
<line x1="454.85" y1="316.8" x2="381.25" y2="369.6" stroke="#e6e6e6" stroke-width="0.7" />
</g>
<defs><linearGradient id="gSph" x1="0" y1="0" x2="0" y2="1"><stop offset="0" stop-color="#eef0f2"/><stop offset="0.06" stop-color="#e9ecee"/><stop offset="0.27" stop-color="#cfd5da"/><stop offset="0.5" stop-color="#b9bfc8"/><stop offset="0.77" stop-color="#a6a9b4"/><stop offset="0.97" stop-color="#8f929b"/><stop offset="1" stop-color="#8c8e97"/></linearGradient></defs>
<circle cx="386.6" cy="269.7" r="72.7" fill="url(#gSph)"/>
<g opacity="0.35"><line x1="342.1" y1="307.05" x2="342.1" y2="175.35" stroke="#e2e2e2" stroke-width="0.7" /><line x1="391.95" y1="301.5" x2="391.95" y2="169.8" stroke="#e2e2e2" stroke-width="0.7" /><line x1="286.9" y1="313.72" x2="360.5" y2="260.92" stroke="#e2e2e2" stroke-width="0.7" /><line x1="360.5" y1="260.92" x2="486.3" y2="291.52" stroke="#e2e2e2" stroke-width="0.7" /><line x1="342.1" y1="307.05" x2="467.9" y2="337.65" stroke="#e6e6e6" stroke-width="0.7" /><line x1="391.95" y1="301.5" x2="318.35" y2="354.3" stroke="#e6e6e6" stroke-width="0.7" /><line x1="323.7" y1="320.25" x2="323.7" y2="188.55" stroke="#e2e2e2" stroke-width="0.7" /><line x1="423.4" y1="309.15" x2="423.4" y2="177.45" stroke="#e2e2e2" stroke-width="0.7" /><line x1="286.9" y1="280.8" x2="360.5" y2="228" stroke="#e2e2e2" stroke-width="0.7" /><line x1="360.5" y1="228" x2="486.3" y2="258.6" stroke="#e2e2e2" stroke-width="0.7" /><line x1="323.7" y1="320.25" x2="449.5" y2="350.85" stroke="#e6e6e6" stroke-width="0.7" /><line x1="423.4" y1="309.15" x2="349.8" y2="361.95" stroke="#e6e6e6" stroke-width="0.7" /><line x1="305.3" y1="333.45" x2="305.3" y2="201.75" stroke="#e2e2e2" stroke-width="0.7" /><line x1="454.85" y1="316.8" x2="454.85" y2="185.1" stroke="#e2e2e2" stroke-width="0.7" /><line x1="286.9" y1="247.87" x2="360.5" y2="195.07" stroke="#e2e2e2" stroke-width="0.7" /><line x1="360.5" y1="195.07" x2="486.3" y2="225.67" stroke="#e2e2e2" stroke-width="0.7" /><line x1="305.3" y1="333.45" x2="431.1" y2="364.05" stroke="#e6e6e6" stroke-width="0.7" /><line x1="454.85" y1="316.8" x2="381.25" y2="369.6" stroke="#e6e6e6" stroke-width="0.7" /></g>
<line x1="360.5" y1="293.85" x2="360.5" y2="162.15" stroke="#4a4a4a" stroke-width="0.95" />
<line x1="286.9" y1="346.65" x2="360.5" y2="293.85" stroke="#222" stroke-width="1" />
<line x1="360.5" y1="293.85" x2="486.3" y2="324.45" stroke="#222" stroke-width="1" />
<polyline points="349.8,296.1 353.14,296.86 356.58,297.55 360.09,298.17 363.68,298.7 367.33,299.16 371.04,299.54 374.79,299.83 378.57,300.04 382.37,300.17 386.18,300.21 389.99,300.17 393.8,300.05 397.59,299.85 401.34,299.56 405.06,299.19 408.72,298.74 412.32,298.2 415.86,297.6 419.31,296.91 422.67,296.15 425.94,295.32 429.09,294.42 432.13,293.44 435.05,292.41 437.83,291.31 440.47,290.15 442.97,288.94 445.31,287.68 447.49,286.36 449.5,285 451.34,283.6 453,282.16 454.48,280.68 455.78,279.18 456.88,277.65 457.79,276.09 458.51,274.52 459.03,272.94 459.35,271.35 459.47,269.75 459.4,268.15 459.12,266.56 458.64,264.98 457.97,263.41 457.1,261.85 456.04,260.32 454.78,258.81 453.34,257.34 451.72,255.89 449.92,254.49 447.95,253.12 445.8,251.81 443.5,250.54 441.04,249.32 438.43,248.16 435.67,247.06 432.79,246.02 429.77,245.04 426.64,244.14 423.4,243.3 420.06,242.54 416.62,241.85 413.11,241.23 409.52,240.7 405.87,240.24 402.16,239.86 398.41,239.57 394.63,239.36 390.83,239.23 387.02,239.19 383.21,239.23 379.4,239.35 375.61,239.55 371.86,239.84 368.14,240.21 364.48,240.66 360.88,241.2 357.34,241.8 353.89,242.49 350.53,243.25 347.26,244.08 344.11,244.98 341.07,245.96 338.15,246.99 335.37,248.09 332.73,249.25 330.23,250.46 327.89,251.72 325.71,253.04 323.7,254.4 321.86,255.8 320.2,257.24 318.72,258.72 317.42,260.22 316.32,261.75 315.41,263.31 314.69,264.88 314.17,266.46 313.85,268.05 313.73,269.65 313.8,271.25 314.08,272.84 314.56,274.42 315.23,275.99 316.1,277.55 317.16,279.08 318.42,280.59 319.86,282.06 321.48,283.51 323.28,284.91 325.25,286.28 327.4,287.59 329.7,288.86 332.16,290.08 334.77,291.24 337.53,292.34 340.41,293.38 343.43,294.36 346.56,295.26 349.8,296.1" fill="none" stroke="#55606e" stroke-width="0.8" stroke-dasharray="1.2,1.6"/>
<line x1="286.9" y1="346.65" x2="286.9" y2="214.95" stroke="#222" stroke-width="1" />
<line x1="286.9" y1="214.95" x2="360.5" y2="162.15" stroke="#222" stroke-width="1" />
<line x1="360.5" y1="162.15" x2="486.3" y2="192.75" stroke="#222" stroke-width="1" />
<line x1="486.3" y1="192.75" x2="486.3" y2="324.45" stroke="#222" stroke-width="1" />
<line x1="286.9" y1="346.65" x2="412.7" y2="377.25" stroke="#222" stroke-width="1" />
<line x1="412.7" y1="377.25" x2="486.3" y2="324.45" stroke="#222" stroke-width="1" />
<line x1="286.9" y1="214.95" x2="288.9" y2="213.55" stroke="#222" stroke-width="0.8" />
<text x="281.6" y="217.85" font-size="8.2" font-weight="normal" fill="#333" text-anchor="end" font-style="normal" >1.0</text>
<line x1="286.9" y1="247.87" x2="288.9" y2="246.47" stroke="#222" stroke-width="0.8" />
<text x="281.6" y="250.77" font-size="8.2" font-weight="normal" fill="#333" text-anchor="end" font-style="normal" >0.5</text>
<line x1="286.9" y1="280.8" x2="288.9" y2="279.4" stroke="#222" stroke-width="0.8" />
<text x="281.6" y="283.7" font-size="8.2" font-weight="normal" fill="#333" text-anchor="end" font-style="normal" >0</text>
<line x1="286.9" y1="313.72" x2="288.9" y2="312.32" stroke="#222" stroke-width="0.8" />
<text x="281.6" y="316.62" font-size="8.2" font-weight="normal" fill="#333" text-anchor="end" font-style="normal" >-0.5</text>
<line x1="286.9" y1="346.65" x2="288.9" y2="345.25" stroke="#222" stroke-width="0.8" />
<text x="281.6" y="349.55" font-size="8.2" font-weight="normal" fill="#333" text-anchor="end" font-style="normal" >-1.0</text>
<line x1="286.9" y1="346.65" x2="285.5" y2="345.65" stroke="#222" stroke-width="0.8" />
<text x="274.8" y="359.3" font-size="8.2" font-weight="normal" fill="#333" text-anchor="middle" font-style="normal" >-1.0</text>
<line x1="318.35" y1="354.3" x2="316.95" y2="353.3" stroke="#222" stroke-width="0.8" />
<text x="305.8" y="366.8" font-size="8.2" font-weight="normal" fill="#333" text-anchor="middle" font-style="normal" >-0.5</text>
<line x1="349.8" y1="361.95" x2="348.4" y2="360.95" stroke="#222" stroke-width="0.8" />
<text x="342" y="374.6" font-size="8.2" font-weight="normal" fill="#333" text-anchor="middle" font-style="normal" >0</text>
<line x1="381.25" y1="369.6" x2="379.85" y2="368.6" stroke="#222" stroke-width="0.8" />
<text x="370.3" y="382.6" font-size="8.2" font-weight="normal" fill="#333" text-anchor="middle" font-style="normal" >0.5</text>
<line x1="412.7" y1="377.25" x2="411.3" y2="376.25" stroke="#222" stroke-width="0.8" />
<text x="403" y="390.3" font-size="8.2" font-weight="normal" fill="#333" text-anchor="middle" font-style="normal" >1.0</text>
<line x1="486.3" y1="324.45" x2="484.3" y2="323.95" stroke="#222" stroke-width="0.8" />
<text x="499.6" y="334.3" font-size="8.2" font-weight="normal" fill="#333" text-anchor="middle" font-style="normal" >-1.0</text>
<line x1="467.9" y1="337.65" x2="465.9" y2="337.15" stroke="#222" stroke-width="0.8" />
<text x="481.6" y="347.6" font-size="8.2" font-weight="normal" fill="#333" text-anchor="middle" font-style="normal" >-0.5</text>
<line x1="449.5" y1="350.85" x2="447.5" y2="350.35" stroke="#222" stroke-width="0.8" />
<text x="458.2" y="360.5" font-size="8.2" font-weight="normal" fill="#333" text-anchor="middle" font-style="normal" >0</text>
<line x1="431.1" y1="364.05" x2="429.1" y2="363.55" stroke="#222" stroke-width="0.8" />
<text x="443.4" y="373.4" font-size="8.2" font-weight="normal" fill="#333" text-anchor="middle" font-style="normal" >0.5</text>
<line x1="412.7" y1="377.25" x2="410.7" y2="376.75" stroke="#222" stroke-width="0.8" />
<text x="425.2" y="387.5" font-size="8.2" font-weight="normal" fill="#333" text-anchor="middle" font-style="normal" >1.0</text>
<text x="0" y="0" font-size="10" font-weight="normal" fill="#333" text-anchor="middle" font-style="normal" transform="translate(269.6,280.4) rotate(-90)">S3</text>
<text x="334" y="386.4" font-size="10.2" font-weight="normal" fill="#333" text-anchor="middle" font-style="normal" >S2</text>
<text x="470.5" y="369.2" font-size="10.2" font-weight="normal" fill="#333" text-anchor="middle" font-style="normal" >S1</text>
<line x1="341.8" y1="213.8" x2="342.25" y2="213.54" stroke="#6e6a70" stroke-width="0.85" stroke-linecap="round"/>
<line x1="342.25" y1="213.54" x2="342.8" y2="213.18" stroke="#6e6a70" stroke-width="0.85" stroke-linecap="round"/>
<line x1="342.8" y1="213.18" x2="343.45" y2="212.75" stroke="#6e6a70" stroke-width="0.86" stroke-linecap="round"/>
<line x1="343.45" y1="212.75" x2="344.19" y2="212.27" stroke="#6e6a70" stroke-width="0.86" stroke-linecap="round"/>
<line x1="344.19" y1="212.27" x2="344.99" y2="211.76" stroke="#6e6a70" stroke-width="0.86" stroke-linecap="round"/>
<line x1="344.99" y1="211.76" x2="345.85" y2="211.25" stroke="#6e6a70" stroke-width="0.87" stroke-linecap="round"/>
<line x1="345.85" y1="211.25" x2="346.75" y2="210.76" stroke="#6e6a70" stroke-width="0.87" stroke-linecap="round"/>
<line x1="346.75" y1="210.76" x2="347.68" y2="210.3" stroke="#6e6a70" stroke-width="0.87" stroke-linecap="round"/>
<line x1="347.68" y1="210.3" x2="348.64" y2="209.91" stroke="#6e6a70" stroke-width="0.87" stroke-linecap="round"/>
<line x1="348.64" y1="209.91" x2="349.6" y2="209.6" stroke="#6e6a70" stroke-width="0.88" stroke-linecap="round"/>
<line x1="349.6" y1="209.6" x2="350.59" y2="209.36" stroke="#6e6a70" stroke-width="0.88" stroke-linecap="round"/>
<line x1="350.59" y1="209.36" x2="351.65" y2="209.15" stroke="#6e6a70" stroke-width="0.88" stroke-linecap="round"/>
<line x1="351.65" y1="209.15" x2="352.75" y2="208.97" stroke="#6e6a70" stroke-width="0.89" stroke-linecap="round"/>
<line x1="352.75" y1="208.97" x2="353.9" y2="208.83" stroke="#6e6a70" stroke-width="0.89" stroke-linecap="round"/>
<line x1="353.9" y1="208.83" x2="355.07" y2="208.72" stroke="#6e6a70" stroke-width="0.89" stroke-linecap="round"/>
<line x1="355.07" y1="208.72" x2="356.26" y2="208.64" stroke="#6e6a70" stroke-width="0.9" stroke-linecap="round"/>
<line x1="356.26" y1="208.64" x2="357.46" y2="208.59" stroke="#6e6a70" stroke-width="0.9" stroke-linecap="round"/>
<line x1="357.46" y1="208.59" x2="358.66" y2="208.56" stroke="#6e6a70" stroke-width="0.9" stroke-linecap="round"/>
<line x1="358.66" y1="208.56" x2="359.84" y2="208.57" stroke="#6e6a70" stroke-width="0.9" stroke-linecap="round"/>
<line x1="359.84" y1="208.57" x2="361" y2="208.6" stroke="#6e6a70" stroke-width="0.91" stroke-linecap="round"/>
<line x1="361" y1="208.6" x2="362.15" y2="208.65" stroke="#6e6a70" stroke-width="0.91" stroke-linecap="round"/>
<line x1="362.15" y1="208.65" x2="363.33" y2="208.73" stroke="#6e6a70" stroke-width="0.91" stroke-linecap="round"/>
<line x1="363.33" y1="208.73" x2="364.51" y2="208.83" stroke="#6e6a70" stroke-width="0.92" stroke-linecap="round"/>
<line x1="364.51" y1="208.83" x2="365.69" y2="208.96" stroke="#6e6a70" stroke-width="0.92" stroke-linecap="round"/>
<line x1="365.69" y1="208.96" x2="366.87" y2="209.12" stroke="#6e6a70" stroke-width="0.92" stroke-linecap="round"/>
<line x1="366.87" y1="209.12" x2="368.04" y2="209.32" stroke="#6e6a70" stroke-width="0.93" stroke-linecap="round"/>
<line x1="368.04" y1="209.32" x2="369.19" y2="209.55" stroke="#6e6a70" stroke-width="0.93" stroke-linecap="round"/>
<line x1="369.19" y1="209.55" x2="370.33" y2="209.82" stroke="#6e6a70" stroke-width="0.93" stroke-linecap="round"/>
<line x1="370.33" y1="209.82" x2="371.43" y2="210.14" stroke="#6e6a70" stroke-width="0.93" stroke-linecap="round"/>
<line x1="371.43" y1="210.14" x2="372.5" y2="210.5" stroke="#6e6a70" stroke-width="0.94" stroke-linecap="round"/>
<line x1="372.5" y1="210.5" x2="373.54" y2="210.91" stroke="#6e6a70" stroke-width="0.94" stroke-linecap="round"/>
<line x1="373.54" y1="210.91" x2="374.57" y2="211.37" stroke="#6e6a70" stroke-width="0.94" stroke-linecap="round"/>
<line x1="374.57" y1="211.37" x2="375.58" y2="211.87" stroke="#6e6a70" stroke-width="0.95" stroke-linecap="round"/>
<line x1="375.58" y1="211.87" x2="376.57" y2="212.4" stroke="#6e6a70" stroke-width="0.95" stroke-linecap="round"/>
<line x1="376.57" y1="212.4" x2="377.54" y2="212.98" stroke="#6e6a70" stroke-width="0.95" stroke-linecap="round"/>
<line x1="377.54" y1="212.98" x2="378.49" y2="213.59" stroke="#6e6a70" stroke-width="0.96" stroke-linecap="round"/>
<line x1="378.49" y1="213.59" x2="379.41" y2="214.23" stroke="#6e6a70" stroke-width="0.96" stroke-linecap="round"/>
<line x1="379.41" y1="214.23" x2="380.3" y2="214.9" stroke="#6e6a70" stroke-width="0.96" stroke-linecap="round"/>
<line x1="380.3" y1="214.9" x2="381.17" y2="215.59" stroke="#6e6a70" stroke-width="0.97" stroke-linecap="round"/>
<line x1="381.17" y1="215.59" x2="382" y2="216.3" stroke="#6e6a70" stroke-width="0.97" stroke-linecap="round"/>
<line x1="382" y1="216.3" x2="382.8" y2="217.04" stroke="#6e6a70" stroke-width="0.97" stroke-linecap="round"/>
<line x1="382.8" y1="217.04" x2="383.58" y2="217.81" stroke="#6e6a70" stroke-width="0.97" stroke-linecap="round"/>
<line x1="383.58" y1="217.81" x2="384.33" y2="218.61" stroke="#6e6a70" stroke-width="0.98" stroke-linecap="round"/>
<line x1="384.33" y1="218.61" x2="385.06" y2="219.45" stroke="#6e6a70" stroke-width="0.98" stroke-linecap="round"/>
<line x1="385.06" y1="219.45" x2="385.76" y2="220.31" stroke="#6e6a70" stroke-width="0.98" stroke-linecap="round"/>
<line x1="385.76" y1="220.31" x2="386.43" y2="221.19" stroke="#6e6a70" stroke-width="0.99" stroke-linecap="round"/>
<line x1="386.43" y1="221.19" x2="387.07" y2="222.09" stroke="#6e6a70" stroke-width="0.99" stroke-linecap="round"/>
<line x1="387.07" y1="222.09" x2="387.68" y2="223.01" stroke="#6e6a70" stroke-width="0.99" stroke-linecap="round"/>
<line x1="387.68" y1="223.01" x2="388.25" y2="223.95" stroke="#6e6a70" stroke-width="1" stroke-linecap="round"/>
<line x1="388.25" y1="223.95" x2="388.8" y2="224.9" stroke="#6e6a70" stroke-width="1" stroke-linecap="round"/>
<line x1="388.8" y1="224.9" x2="389.32" y2="225.88" stroke="#6e6a70" stroke-width="1" stroke-linecap="round"/>
<line x1="389.32" y1="225.88" x2="389.8" y2="226.91" stroke="#6e6a70" stroke-width="1" stroke-linecap="round"/>
<line x1="389.8" y1="226.91" x2="390.26" y2="227.97" stroke="#6e6a70" stroke-width="1.01" stroke-linecap="round"/>
<line x1="390.26" y1="227.97" x2="390.69" y2="229.05" stroke="#6e6a70" stroke-width="1.01" stroke-linecap="round"/>
<line x1="390.69" y1="229.05" x2="391.09" y2="230.15" stroke="#6e6a70" stroke-width="1.01" stroke-linecap="round"/>
<line x1="391.09" y1="230.15" x2="391.45" y2="231.25" stroke="#6e6a70" stroke-width="1.02" stroke-linecap="round"/>
<line x1="391.45" y1="231.25" x2="391.79" y2="232.33" stroke="#6e6a70" stroke-width="1.02" stroke-linecap="round"/>
<line x1="391.79" y1="232.33" x2="392.09" y2="233.39" stroke="#6e6a70" stroke-width="1.02" stroke-linecap="round"/>
<line x1="392.09" y1="233.39" x2="392.36" y2="234.42" stroke="#6e6a70" stroke-width="1.03" stroke-linecap="round"/>
<line x1="392.36" y1="234.42" x2="392.6" y2="235.4" stroke="#6e6a70" stroke-width="1.03" stroke-linecap="round"/>
<line x1="392.6" y1="235.4" x2="392.8" y2="236.33" stroke="#6e6a70" stroke-width="1.03" stroke-linecap="round"/>
<line x1="392.8" y1="236.33" x2="392.97" y2="237.23" stroke="#6e6a70" stroke-width="1.04" stroke-linecap="round"/>
<line x1="392.97" y1="237.23" x2="393.11" y2="238.09" stroke="#6e6a70" stroke-width="1.04" stroke-linecap="round"/>
<line x1="393.11" y1="238.09" x2="393.22" y2="238.93" stroke="#6e6a70" stroke-width="1.04" stroke-linecap="round"/>
<line x1="393.22" y1="238.93" x2="393.29" y2="239.76" stroke="#6e6a70" stroke-width="1.04" stroke-linecap="round"/>
<line x1="393.29" y1="239.76" x2="393.34" y2="240.59" stroke="#6e6a70" stroke-width="1.05" stroke-linecap="round"/>
<line x1="393.34" y1="240.59" x2="393.35" y2="241.41" stroke="#6e6a70" stroke-width="1.05" stroke-linecap="round"/>
<line x1="393.35" y1="241.41" x2="393.33" y2="242.25" stroke="#6e6a70" stroke-width="1.05" stroke-linecap="round"/>
<line x1="393.33" y1="242.25" x2="393.28" y2="243.11" stroke="#6e6a70" stroke-width="1.06" stroke-linecap="round"/>
<line x1="393.28" y1="243.11" x2="393.2" y2="244" stroke="#6e6a70" stroke-width="1.06" stroke-linecap="round"/>
<line x1="393.2" y1="244" x2="393.09" y2="244.92" stroke="#6e6a70" stroke-width="1.06" stroke-linecap="round"/>
<line x1="393.09" y1="244.92" x2="392.95" y2="245.86" stroke="#6e6a70" stroke-width="1.07" stroke-linecap="round"/>
<line x1="392.95" y1="245.86" x2="392.78" y2="246.81" stroke="#6e6a70" stroke-width="1.07" stroke-linecap="round"/>
<line x1="392.78" y1="246.81" x2="392.58" y2="247.78" stroke="#6e6a70" stroke-width="1.07" stroke-linecap="round"/>
<line x1="392.58" y1="247.78" x2="392.34" y2="248.75" stroke="#6e6a70" stroke-width="1.07" stroke-linecap="round"/>
<line x1="392.34" y1="248.75" x2="392.08" y2="249.72" stroke="#6e6a70" stroke-width="1.08" stroke-linecap="round"/>
<line x1="392.08" y1="249.72" x2="391.78" y2="250.69" stroke="#6e6a70" stroke-width="1.08" stroke-linecap="round"/>
<line x1="391.78" y1="250.69" x2="391.45" y2="251.64" stroke="#6e6a70" stroke-width="1.08" stroke-linecap="round"/>
<line x1="391.45" y1="251.64" x2="391.09" y2="252.58" stroke="#6e6a70" stroke-width="1.09" stroke-linecap="round"/>
<line x1="391.09" y1="252.58" x2="390.7" y2="253.5" stroke="#6e6a70" stroke-width="1.09" stroke-linecap="round"/>
<line x1="390.7" y1="253.5" x2="390.27" y2="254.42" stroke="#6e6a70" stroke-width="1.09" stroke-linecap="round"/>
<line x1="390.27" y1="254.42" x2="389.8" y2="255.35" stroke="#6e6a70" stroke-width="1.1" stroke-linecap="round"/>
<line x1="389.8" y1="255.35" x2="389.29" y2="256.29" stroke="#6e6a70" stroke-width="1.1" stroke-linecap="round"/>
<line x1="389.29" y1="256.29" x2="388.75" y2="257.23" stroke="#6e6a70" stroke-width="1.1" stroke-linecap="round"/>
<line x1="388.75" y1="257.23" x2="388.17" y2="258.15" stroke="#6e6a70" stroke-width="1.1" stroke-linecap="round"/>
<line x1="388.17" y1="258.15" x2="387.58" y2="259.04" stroke="#6e6a70" stroke-width="1.11" stroke-linecap="round"/>
<line x1="387.58" y1="259.04" x2="386.96" y2="259.89" stroke="#6e6a70" stroke-width="1.11" stroke-linecap="round"/>
<line x1="386.96" y1="259.89" x2="386.32" y2="260.7" stroke="#6e6a70" stroke-width="1.11" stroke-linecap="round"/>
<line x1="386.32" y1="260.7" x2="385.67" y2="261.43" stroke="#6e6a70" stroke-width="1.12" stroke-linecap="round"/>
<line x1="385.67" y1="261.43" x2="385" y2="262.1" stroke="#6e6a70" stroke-width="1.12" stroke-linecap="round"/>
<line x1="385" y1="262.1" x2="384.31" y2="262.7" stroke="#6e6a70" stroke-width="1.12" stroke-linecap="round"/>
<line x1="384.31" y1="262.7" x2="383.59" y2="263.26" stroke="#6e6a70" stroke-width="1.13" stroke-linecap="round"/>
<line x1="383.59" y1="263.26" x2="382.84" y2="263.77" stroke="#6e6a70" stroke-width="1.13" stroke-linecap="round"/>
<line x1="382.84" y1="263.77" x2="382.06" y2="264.23" stroke="#6e6a70" stroke-width="1.13" stroke-linecap="round"/>
<line x1="382.06" y1="264.23" x2="381.27" y2="264.65" stroke="#6e6a70" stroke-width="1.14" stroke-linecap="round"/>
<line x1="381.27" y1="264.65" x2="380.48" y2="265.02" stroke="#6e6a70" stroke-width="1.14" stroke-linecap="round"/>
<line x1="380.48" y1="265.02" x2="379.67" y2="265.34" stroke="#6e6a70" stroke-width="1.14" stroke-linecap="round"/>
<line x1="379.67" y1="265.34" x2="378.87" y2="265.61" stroke="#6e6a70" stroke-width="1.14" stroke-linecap="round"/>
<line x1="378.87" y1="265.61" x2="378.08" y2="265.83" stroke="#6e6a70" stroke-width="1.15" stroke-linecap="round"/>
<line x1="378.08" y1="265.83" x2="377.3" y2="266" stroke="#6e6a70" stroke-width="1.15" stroke-linecap="round"/>
<line x1="377.3" y1="266" x2="376.51" y2="266.12" stroke="#6e6a70" stroke-width="1.15" stroke-linecap="round"/>
<line x1="376.51" y1="266.12" x2="375.7" y2="266.2" stroke="#6e6a70" stroke-width="1.16" stroke-linecap="round"/>
<line x1="375.7" y1="266.2" x2="374.87" y2="266.24" stroke="#6e6a70" stroke-width="1.16" stroke-linecap="round"/>
<line x1="374.87" y1="266.24" x2="374.03" y2="266.23" stroke="#6e6a70" stroke-width="1.16" stroke-linecap="round"/>
<line x1="374.03" y1="266.23" x2="373.21" y2="266.16" stroke="#6e6a70" stroke-width="1.17" stroke-linecap="round"/>
<line x1="373.21" y1="266.16" x2="372.4" y2="266.05" stroke="#6e6a70" stroke-width="1.17" stroke-linecap="round"/>
<line x1="372.4" y1="266.05" x2="371.62" y2="265.87" stroke="#6e6a70" stroke-width="1.17" stroke-linecap="round"/>
<line x1="371.62" y1="265.87" x2="370.89" y2="265.64" stroke="#6e6a70" stroke-width="1.17" stroke-linecap="round"/>
<line x1="370.89" y1="265.64" x2="370.21" y2="265.35" stroke="#6e6a70" stroke-width="1.18" stroke-linecap="round"/>
<line x1="370.21" y1="265.35" x2="369.6" y2="265" stroke="#6e6a70" stroke-width="1.18" stroke-linecap="round"/>
<line x1="369.6" y1="265" x2="369.04" y2="264.56" stroke="#6e6a70" stroke-width="1.18" stroke-linecap="round"/>
<line x1="369.04" y1="264.56" x2="368.5" y2="264.04" stroke="#6e6a70" stroke-width="1.19" stroke-linecap="round"/>
<line x1="368.5" y1="264.04" x2="367.99" y2="263.44" stroke="#6e6a70" stroke-width="1.19" stroke-linecap="round"/>
<line x1="367.99" y1="263.44" x2="367.53" y2="262.77" stroke="#6e6a70" stroke-width="1.19" stroke-linecap="round"/>
<line x1="367.53" y1="262.77" x2="367.1" y2="262.06" stroke="#6e6a70" stroke-width="1.2" stroke-linecap="round"/>
<line x1="367.1" y1="262.06" x2="366.72" y2="261.32" stroke="#6e6a70" stroke-width="1.2" stroke-linecap="round"/>
<line x1="366.72" y1="261.32" x2="366.4" y2="260.56" stroke="#6e6a70" stroke-width="1.2" stroke-linecap="round"/>
<line x1="366.4" y1="260.56" x2="366.13" y2="259.79" stroke="#6e6a70" stroke-width="1.21" stroke-linecap="round"/>
<line x1="366.13" y1="259.79" x2="365.93" y2="259.03" stroke="#6e6a70" stroke-width="1.21" stroke-linecap="round"/>
<line x1="365.93" y1="259.03" x2="365.8" y2="258.3" stroke="#6e6a70" stroke-width="1.21" stroke-linecap="round"/>
<line x1="365.8" y1="258.3" x2="365.74" y2="257.57" stroke="#6e6a70" stroke-width="1.21" stroke-linecap="round"/>
<line x1="365.74" y1="257.57" x2="365.74" y2="256.81" stroke="#6e6a70" stroke-width="1.22" stroke-linecap="round"/>
<line x1="365.74" y1="256.81" x2="365.8" y2="256.03" stroke="#6e6a70" stroke-width="1.22" stroke-linecap="round"/>
<line x1="365.8" y1="256.03" x2="365.92" y2="255.24" stroke="#6e6a70" stroke-width="1.22" stroke-linecap="round"/>
<line x1="365.92" y1="255.24" x2="366.09" y2="254.44" stroke="#6e6a70" stroke-width="1.23" stroke-linecap="round"/>
<line x1="366.09" y1="254.44" x2="366.32" y2="253.65" stroke="#6e6a70" stroke-width="1.23" stroke-linecap="round"/>
<line x1="366.32" y1="253.65" x2="366.6" y2="252.88" stroke="#6e6a70" stroke-width="1.23" stroke-linecap="round"/>
<line x1="366.6" y1="252.88" x2="366.92" y2="252.12" stroke="#6e6a70" stroke-width="1.24" stroke-linecap="round"/>
<line x1="366.92" y1="252.12" x2="367.29" y2="251.39" stroke="#6e6a70" stroke-width="1.24" stroke-linecap="round"/>
<line x1="367.29" y1="251.39" x2="367.7" y2="250.7" stroke="#6e6a70" stroke-width="1.24" stroke-linecap="round"/>
<line x1="367.7" y1="250.7" x2="368.16" y2="250.04" stroke="#6e6a70" stroke-width="1.24" stroke-linecap="round"/>
<line x1="368.16" y1="250.04" x2="368.69" y2="249.39" stroke="#6e6a70" stroke-width="1.25" stroke-linecap="round"/>
<line x1="368.69" y1="249.39" x2="369.27" y2="248.76" stroke="#6e6a70" stroke-width="1.25" stroke-linecap="round"/>
<line x1="369.27" y1="248.76" x2="369.9" y2="248.15" stroke="#6e6a70" stroke-width="1.25" stroke-linecap="round"/>
<line x1="369.9" y1="248.15" x2="370.57" y2="247.56" stroke="#6e6a70" stroke-width="1.26" stroke-linecap="round"/>
<line x1="370.57" y1="247.56" x2="371.28" y2="246.99" stroke="#6e6a70" stroke-width="1.26" stroke-linecap="round"/>
<line x1="371.28" y1="246.99" x2="372.03" y2="246.44" stroke="#6e6a70" stroke-width="1.26" stroke-linecap="round"/>
<line x1="372.03" y1="246.44" x2="372.8" y2="245.9" stroke="#6e6a70" stroke-width="1.27" stroke-linecap="round"/>
<line x1="372.8" y1="245.9" x2="373.59" y2="245.39" stroke="#6e6a70" stroke-width="1.27" stroke-linecap="round"/>
<line x1="373.59" y1="245.39" x2="374.4" y2="244.9" stroke="#6e6a70" stroke-width="1.27" stroke-linecap="round"/>
<line x1="374.4" y1="244.9" x2="375.24" y2="244.43" stroke="#6e6a70" stroke-width="1.27" stroke-linecap="round"/>
<line x1="375.24" y1="244.43" x2="376.14" y2="243.97" stroke="#6e6a70" stroke-width="1.28" stroke-linecap="round"/>
<line x1="376.14" y1="243.97" x2="377.07" y2="243.52" stroke="#6e6a70" stroke-width="1.28" stroke-linecap="round"/>
<line x1="377.07" y1="243.52" x2="378.04" y2="243.1" stroke="#6e6a70" stroke-width="1.28" stroke-linecap="round"/>
<line x1="378.04" y1="243.1" x2="379.02" y2="242.69" stroke="#6e6a70" stroke-width="1.29" stroke-linecap="round"/>
<line x1="379.02" y1="242.69" x2="380.03" y2="242.32" stroke="#6e6a70" stroke-width="1.29" stroke-linecap="round"/>
<line x1="380.03" y1="242.32" x2="381.04" y2="241.96" stroke="#6f6a70" stroke-width="1.29" stroke-linecap="round"/>
<line x1="381.04" y1="241.96" x2="382.04" y2="241.64" stroke="#726a70" stroke-width="1.3" stroke-linecap="round"/>
<line x1="382.04" y1="241.64" x2="383.03" y2="241.35" stroke="#756a70" stroke-width="1.3" stroke-linecap="round"/>
<line x1="383.03" y1="241.35" x2="384" y2="241.1" stroke="#796b70" stroke-width="1.3" stroke-linecap="round"/>
<line x1="384" y1="241.1" x2="384.97" y2="240.88" stroke="#7c6b71" stroke-width="1.31" stroke-linecap="round"/>
<line x1="384.97" y1="240.88" x2="385.95" y2="240.7" stroke="#7f6b71" stroke-width="1.31" stroke-linecap="round"/>
<line x1="385.95" y1="240.7" x2="386.94" y2="240.56" stroke="#826b71" stroke-width="1.31" stroke-linecap="round"/>
<line x1="386.94" y1="240.56" x2="387.94" y2="240.44" stroke="#856b71" stroke-width="1.31" stroke-linecap="round"/>
<line x1="387.94" y1="240.44" x2="388.92" y2="240.35" stroke="#886b71" stroke-width="1.32" stroke-linecap="round"/>
<line x1="388.92" y1="240.35" x2="389.9" y2="240.28" stroke="#8b6c71" stroke-width="1.32" stroke-linecap="round"/>
<line x1="389.9" y1="240.28" x2="390.85" y2="240.24" stroke="#8e6c71" stroke-width="1.32" stroke-linecap="round"/>
<line x1="390.85" y1="240.24" x2="391.77" y2="240.21" stroke="#926c72" stroke-width="1.33" stroke-linecap="round"/>
<line x1="391.77" y1="240.21" x2="392.66" y2="240.2" stroke="#956c72" stroke-width="1.33" stroke-linecap="round"/>
<line x1="392.66" y1="240.2" x2="393.5" y2="240.2" stroke="#986c72" stroke-width="1.33" stroke-linecap="round"/>
<line x1="393.5" y1="240.2" x2="394.29" y2="240.21" stroke="#9b6d72" stroke-width="1.34" stroke-linecap="round"/>
<line x1="394.29" y1="240.21" x2="395.02" y2="240.24" stroke="#9e6d72" stroke-width="1.34" stroke-linecap="round"/>
<line x1="395.02" y1="240.24" x2="395.71" y2="240.29" stroke="#a16d72" stroke-width="1.34" stroke-linecap="round"/>
<line x1="395.71" y1="240.29" x2="396.37" y2="240.35" stroke="#a46d72" stroke-width="1.34" stroke-linecap="round"/>
<line x1="396.37" y1="240.35" x2="397.01" y2="240.44" stroke="#a76d72" stroke-width="1.35" stroke-linecap="round"/>
<line x1="397.01" y1="240.44" x2="397.64" y2="240.54" stroke="#ab6d73" stroke-width="1.35" stroke-linecap="round"/>
<line x1="397.64" y1="240.54" x2="398.28" y2="240.67" stroke="#ae6e73" stroke-width="1.35" stroke-linecap="round"/>
<line x1="398.28" y1="240.67" x2="398.93" y2="240.82" stroke="#b16e73" stroke-width="1.36" stroke-linecap="round"/>
<line x1="398.93" y1="240.82" x2="399.6" y2="241" stroke="#b46e73" stroke-width="1.36" stroke-linecap="round"/>
<line x1="399.6" y1="241" x2="400.3" y2="241.2" stroke="#b46d72" stroke-width="1.36" stroke-linecap="round"/>
<line x1="400.3" y1="241.2" x2="401.03" y2="241.43" stroke="#b46d72" stroke-width="1.37" stroke-linecap="round"/>
<line x1="401.03" y1="241.43" x2="401.78" y2="241.68" stroke="#b56c71" stroke-width="1.37" stroke-linecap="round"/>
<line x1="401.78" y1="241.68" x2="402.55" y2="241.95" stroke="#b56b70" stroke-width="1.37" stroke-linecap="round"/>
<line x1="402.55" y1="241.95" x2="403.32" y2="242.25" stroke="#b56a70" stroke-width="1.38" stroke-linecap="round"/>
<line x1="403.32" y1="242.25" x2="404.1" y2="242.57" stroke="#b56a6f" stroke-width="1.38" stroke-linecap="round"/>
<line x1="404.1" y1="242.57" x2="404.88" y2="242.92" stroke="#b5696e" stroke-width="1.38" stroke-linecap="round"/>
<line x1="404.88" y1="242.92" x2="405.67" y2="243.28" stroke="#b6686d" stroke-width="1.38" stroke-linecap="round"/>
<line x1="405.67" y1="243.28" x2="406.45" y2="243.67" stroke="#b6686d" stroke-width="1.39" stroke-linecap="round"/>
<line x1="406.45" y1="243.67" x2="407.23" y2="244.07" stroke="#b6676c" stroke-width="1.39" stroke-linecap="round"/>
<line x1="407.23" y1="244.07" x2="408" y2="244.5" stroke="#b6666b" stroke-width="1.39" stroke-linecap="round"/>
<line x1="408" y1="244.5" x2="408.77" y2="244.95" stroke="#b7656b" stroke-width="1.4" stroke-linecap="round"/>
<line x1="408.77" y1="244.95" x2="409.55" y2="245.43" stroke="#b7656a" stroke-width="1.4" stroke-linecap="round"/>
<line x1="409.55" y1="245.43" x2="410.34" y2="245.93" stroke="#b76469" stroke-width="1.4" stroke-linecap="round"/>
<line x1="410.34" y1="245.93" x2="411.13" y2="246.45" stroke="#b76369" stroke-width="1.41" stroke-linecap="round"/>
<line x1="411.13" y1="246.45" x2="411.91" y2="246.99" stroke="#b76368" stroke-width="1.41" stroke-linecap="round"/>
<line x1="411.91" y1="246.99" x2="412.69" y2="247.55" stroke="#b86267" stroke-width="1.41" stroke-linecap="round"/>
<line x1="412.69" y1="247.55" x2="413.45" y2="248.13" stroke="#b86166" stroke-width="1.41" stroke-linecap="round"/>
<line x1="413.45" y1="248.13" x2="414.19" y2="248.71" stroke="#b86066" stroke-width="1.42" stroke-linecap="round"/>
<line x1="414.19" y1="248.71" x2="414.91" y2="249.3" stroke="#b86065" stroke-width="1.42" stroke-linecap="round"/>
<line x1="414.91" y1="249.3" x2="415.6" y2="249.9" stroke="#b85f64" stroke-width="1.42" stroke-linecap="round"/>
<line x1="415.6" y1="249.9" x2="416.27" y2="250.51" stroke="#b95e64" stroke-width="1.43" stroke-linecap="round"/>
<line x1="416.27" y1="250.51" x2="416.91" y2="251.14" stroke="#b95e63" stroke-width="1.43" stroke-linecap="round"/>
<line x1="416.91" y1="251.14" x2="417.55" y2="251.78" stroke="#b95d62" stroke-width="1.43" stroke-linecap="round"/>
<line x1="417.55" y1="251.78" x2="418.16" y2="252.43" stroke="#b95c62" stroke-width="1.44" stroke-linecap="round"/>
<line x1="418.16" y1="252.43" x2="418.76" y2="253.09" stroke="#ba5b61" stroke-width="1.44" stroke-linecap="round"/>
<line x1="418.76" y1="253.09" x2="419.34" y2="253.77" stroke="#ba5b60" stroke-width="1.44" stroke-linecap="round"/>
<line x1="419.34" y1="253.77" x2="419.9" y2="254.45" stroke="#ba5a60" stroke-width="1.44" stroke-linecap="round"/>
<line x1="419.9" y1="254.45" x2="420.45" y2="255.13" stroke="#ba595f" stroke-width="1.45" stroke-linecap="round"/>
<line x1="420.45" y1="255.13" x2="420.98" y2="255.81" stroke="#ba595e" stroke-width="1.45" stroke-linecap="round"/>
<line x1="420.98" y1="255.81" x2="421.5" y2="256.5" stroke="#bb585d" stroke-width="1.45" stroke-linecap="round"/>
<line x1="421.5" y1="256.5" x2="421.99" y2="257.18" stroke="#bb575d" stroke-width="1.46" stroke-linecap="round"/>
<line x1="421.99" y1="257.18" x2="422.46" y2="257.85" stroke="#bb565c" stroke-width="1.46" stroke-linecap="round"/>
<line x1="422.46" y1="257.85" x2="422.9" y2="258.52" stroke="#bb565b" stroke-width="1.46" stroke-linecap="round"/>
<line x1="422.9" y1="258.52" x2="423.33" y2="259.2" stroke="#bb555b" stroke-width="1.47" stroke-linecap="round"/>
<line x1="423.33" y1="259.2" x2="423.74" y2="259.88" stroke="#bc545a" stroke-width="1.47" stroke-linecap="round"/>
<line x1="423.74" y1="259.88" x2="424.15" y2="260.58" stroke="#bc5459" stroke-width="1.47" stroke-linecap="round"/>
<line x1="424.15" y1="260.58" x2="424.55" y2="261.29" stroke="#bc5359" stroke-width="1.48" stroke-linecap="round"/>
<line x1="424.55" y1="261.29" x2="424.96" y2="262.03" stroke="#bc5258" stroke-width="1.48" stroke-linecap="round"/>
<line x1="424.96" y1="262.03" x2="425.37" y2="262.8" stroke="#bd5157" stroke-width="1.48" stroke-linecap="round"/>
<line x1="425.37" y1="262.8" x2="425.8" y2="263.6" stroke="#bd5156" stroke-width="1.48" stroke-linecap="round"/>
<line x1="425.8" y1="263.6" x2="426.25" y2="264.44" stroke="#bd5056" stroke-width="1.49" stroke-linecap="round"/>
<line x1="426.25" y1="264.44" x2="426.71" y2="265.31" stroke="#bd4f55" stroke-width="1.49" stroke-linecap="round"/>
<line x1="426.71" y1="265.31" x2="427.19" y2="266.21" stroke="#bd4f54" stroke-width="1.49" stroke-linecap="round"/>
<line x1="427.19" y1="266.21" x2="427.67" y2="267.13" stroke="#be4e54" stroke-width="1.5" stroke-linecap="round"/>
<line x1="427.67" y1="267.13" x2="428.14" y2="268.07" stroke="#be4d53" stroke-width="1.5" stroke-linecap="round"/>
<line x1="428.14" y1="268.07" x2="428.61" y2="269.02" stroke="#be4c52" stroke-width="1.5" stroke-linecap="round"/>
<line x1="428.61" y1="269.02" x2="429.05" y2="269.99" stroke="#be4c52" stroke-width="1.51" stroke-linecap="round"/>
<line x1="429.05" y1="269.99" x2="429.47" y2="270.96" stroke="#be4b51" stroke-width="1.51" stroke-linecap="round"/>
<line x1="429.47" y1="270.96" x2="429.86" y2="271.93" stroke="#bf4a50" stroke-width="1.51" stroke-linecap="round"/>
<line x1="429.86" y1="271.93" x2="430.2" y2="272.9" stroke="#bf4a4f" stroke-width="1.51" stroke-linecap="round"/>
<line x1="430.2" y1="272.9" x2="430.51" y2="273.87" stroke="#bf494f" stroke-width="1.52" stroke-linecap="round"/>
<line x1="430.51" y1="273.87" x2="430.79" y2="274.84" stroke="#bf484e" stroke-width="1.52" stroke-linecap="round"/>
<line x1="430.79" y1="274.84" x2="431.04" y2="275.82" stroke="#c0474d" stroke-width="1.52" stroke-linecap="round"/>
<line x1="431.04" y1="275.82" x2="431.27" y2="276.81" stroke="#c0474d" stroke-width="1.53" stroke-linecap="round"/>
<line x1="431.27" y1="276.81" x2="431.47" y2="277.81" stroke="#c0464c" stroke-width="1.53" stroke-linecap="round"/>
<line x1="431.47" y1="277.81" x2="431.66" y2="278.81" stroke="#c0464c" stroke-width="1.53" stroke-linecap="round"/>
<line x1="431.66" y1="278.81" x2="431.82" y2="279.82" stroke="#c0454b" stroke-width="1.54" stroke-linecap="round"/>
<line x1="431.82" y1="279.82" x2="431.97" y2="280.84" stroke="#c0454b" stroke-width="1.54" stroke-linecap="round"/>
<line x1="431.97" y1="280.84" x2="432.09" y2="281.86" stroke="#c1444b" stroke-width="1.54" stroke-linecap="round"/>
<line x1="432.09" y1="281.86" x2="432.2" y2="282.9" stroke="#c1444a" stroke-width="1.55" stroke-linecap="round"/>
<line x1="432.2" y1="282.9" x2="432.3" y2="283.94" stroke="#c1434a" stroke-width="1.55" stroke-linecap="round"/>
<line x1="432.3" y1="283.94" x2="432.39" y2="284.98" stroke="#c14349" stroke-width="1.55" stroke-linecap="round"/>
<line x1="432.39" y1="284.98" x2="432.47" y2="286.02" stroke="#c14249" stroke-width="1.55" stroke-linecap="round"/>
<line x1="432.47" y1="286.02" x2="432.53" y2="287.07" stroke="#c14249" stroke-width="1.56" stroke-linecap="round"/>
<line x1="432.53" y1="287.07" x2="432.56" y2="288.13" stroke="#c14248" stroke-width="1.56" stroke-linecap="round"/>
<line x1="432.56" y1="288.13" x2="432.57" y2="289.2" stroke="#c24148" stroke-width="1.56" stroke-linecap="round"/>
<line x1="432.57" y1="289.2" x2="432.54" y2="290.3" stroke="#c24148" stroke-width="1.57" stroke-linecap="round"/>
<line x1="432.54" y1="290.3" x2="432.48" y2="291.41" stroke="#c24047" stroke-width="1.57" stroke-linecap="round"/>
<line x1="432.48" y1="291.41" x2="432.36" y2="292.54" stroke="#c24047" stroke-width="1.57" stroke-linecap="round"/>
<line x1="432.36" y1="292.54" x2="432.2" y2="293.7" stroke="#c23f46" stroke-width="1.58" stroke-linecap="round"/>
<line x1="432.2" y1="293.7" x2="431.99" y2="294.9" stroke="#c23f46" stroke-width="1.58" stroke-linecap="round"/>
<line x1="431.99" y1="294.9" x2="431.75" y2="296.14" stroke="#c23e46" stroke-width="1.58" stroke-linecap="round"/>
<line x1="431.75" y1="296.14" x2="431.46" y2="297.41" stroke="#c33e45" stroke-width="1.58" stroke-linecap="round"/>
<line x1="431.46" y1="297.41" x2="431.14" y2="298.7" stroke="#c33e45" stroke-width="1.59" stroke-linecap="round"/>
<line x1="431.14" y1="298.7" x2="430.78" y2="300.01" stroke="#c33d45" stroke-width="1.59" stroke-linecap="round"/>
<line x1="430.78" y1="300.01" x2="430.38" y2="301.32" stroke="#c33d44" stroke-width="1.59" stroke-linecap="round"/>
<line x1="430.38" y1="301.32" x2="429.95" y2="302.62" stroke="#c33c44" stroke-width="1.6" stroke-linecap="round"/>
<line x1="429.95" y1="302.62" x2="429.47" y2="303.91" stroke="#c33c43" stroke-width="1.6" stroke-linecap="round"/>
<line x1="429.47" y1="303.91" x2="428.96" y2="305.17" stroke="#c33b43" stroke-width="1.6" stroke-linecap="round"/>
<line x1="428.96" y1="305.17" x2="428.4" y2="306.4" stroke="#c43b43" stroke-width="1.61" stroke-linecap="round"/>
<line x1="428.4" y1="306.4" x2="427.81" y2="307.61" stroke="#c43a42" stroke-width="1.61" stroke-linecap="round"/>
<line x1="427.81" y1="307.61" x2="427.17" y2="308.82" stroke="#c43a42" stroke-width="1.61" stroke-linecap="round"/>
<line x1="427.17" y1="308.82" x2="426.5" y2="310.02" stroke="#c43a42" stroke-width="1.61" stroke-linecap="round"/>
<line x1="426.5" y1="310.02" x2="425.78" y2="311.21" stroke="#c43941" stroke-width="1.62" stroke-linecap="round"/>
<line x1="425.78" y1="311.21" x2="425.03" y2="312.39" stroke="#c43941" stroke-width="1.62" stroke-linecap="round"/>
<line x1="425.03" y1="312.39" x2="424.24" y2="313.54" stroke="#c43840" stroke-width="1.62" stroke-linecap="round"/>
<line x1="424.24" y1="313.54" x2="423.41" y2="314.68" stroke="#c53840" stroke-width="1.63" stroke-linecap="round"/>
<line x1="423.41" y1="314.68" x2="422.55" y2="315.79" stroke="#c53740" stroke-width="1.63" stroke-linecap="round"/>
<line x1="422.55" y1="315.79" x2="421.64" y2="316.86" stroke="#c5373f" stroke-width="1.63" stroke-linecap="round"/>
<line x1="421.64" y1="316.86" x2="420.7" y2="317.9" stroke="#c5363f" stroke-width="1.64" stroke-linecap="round"/>
<line x1="420.7" y1="317.9" x2="419.72" y2="318.92" stroke="#c5363f" stroke-width="1.64" stroke-linecap="round"/>
<line x1="419.72" y1="318.92" x2="418.68" y2="319.93" stroke="#c5353e" stroke-width="1.64" stroke-linecap="round"/>
<line x1="418.68" y1="319.93" x2="417.61" y2="320.92" stroke="#c5353e" stroke-width="1.65" stroke-linecap="round"/>
<line x1="417.61" y1="320.92" x2="416.49" y2="321.89" stroke="#c6353d" stroke-width="1.65" stroke-linecap="round"/>
<line x1="416.49" y1="321.89" x2="415.34" y2="322.82" stroke="#c6343d" stroke-width="1.65" stroke-linecap="round"/>
<line x1="415.34" y1="322.82" x2="414.16" y2="323.72" stroke="#c6343d" stroke-width="1.65" stroke-linecap="round"/>
<line x1="414.16" y1="323.72" x2="412.95" y2="324.58" stroke="#c6333c" stroke-width="1.66" stroke-linecap="round"/>
<line x1="412.95" y1="324.58" x2="411.72" y2="325.38" stroke="#c6333c" stroke-width="1.66" stroke-linecap="round"/>
<line x1="411.72" y1="325.38" x2="410.47" y2="326.12" stroke="#c6323c" stroke-width="1.66" stroke-linecap="round"/>
<line x1="410.47" y1="326.12" x2="409.2" y2="326.8" stroke="#c6323b" stroke-width="1.67" stroke-linecap="round"/>
<line x1="409.2" y1="326.8" x2="407.84" y2="327.41" stroke="#c7313b" stroke-width="1.67" stroke-linecap="round"/>
<line x1="407.84" y1="327.41" x2="406.34" y2="327.96" stroke="#c7313a" stroke-width="1.67" stroke-linecap="round"/>
<line x1="406.34" y1="327.96" x2="404.74" y2="328.46" stroke="#c7313a" stroke-width="1.68" stroke-linecap="round"/>
<line x1="404.74" y1="328.46" x2="403.11" y2="328.91" stroke="#c7303a" stroke-width="1.68" stroke-linecap="round"/>
<line x1="403.11" y1="328.91" x2="401.48" y2="329.31" stroke="#c73039" stroke-width="1.68" stroke-linecap="round"/>
<line x1="401.48" y1="329.31" x2="399.91" y2="329.66" stroke="#c72f39" stroke-width="1.68" stroke-linecap="round"/>
<line x1="399.91" y1="329.66" x2="398.45" y2="329.97" stroke="#c72f39" stroke-width="1.69" stroke-linecap="round"/>
<line x1="398.45" y1="329.97" x2="397.14" y2="330.25" stroke="#c82e38" stroke-width="1.69" stroke-linecap="round"/>
<line x1="397.14" y1="330.25" x2="396.04" y2="330.49" stroke="#c82e38" stroke-width="1.69" stroke-linecap="round"/>
<line x1="396.04" y1="330.49" x2="395.2" y2="330.7" stroke="#c82d37" stroke-width="1.7" stroke-linecap="round"/>
<line x1="331.6" y1="222.7" x2="332.09" y2="222.36" stroke="#6e6a70" stroke-width="0.85" stroke-linecap="round"/>
<line x1="332.09" y1="222.36" x2="332.72" y2="221.9" stroke="#6e6a70" stroke-width="0.85" stroke-linecap="round"/>
<line x1="332.72" y1="221.9" x2="333.46" y2="221.35" stroke="#6e6a70" stroke-width="0.85" stroke-linecap="round"/>
<line x1="333.46" y1="221.35" x2="334.3" y2="220.74" stroke="#6e6a70" stroke-width="0.85" stroke-linecap="round"/>
<line x1="334.3" y1="220.74" x2="335.2" y2="220.09" stroke="#6e6a70" stroke-width="0.85" stroke-linecap="round"/>
<line x1="335.2" y1="220.09" x2="336.15" y2="219.43" stroke="#6e6a70" stroke-width="0.85" stroke-linecap="round"/>
<line x1="336.15" y1="219.43" x2="337.13" y2="218.79" stroke="#6e6a70" stroke-width="0.85" stroke-linecap="round"/>
<line x1="337.13" y1="218.79" x2="338.11" y2="218.18" stroke="#6e6a70" stroke-width="0.86" stroke-linecap="round"/>
<line x1="338.11" y1="218.18" x2="339.07" y2="217.65" stroke="#6e6a70" stroke-width="0.86" stroke-linecap="round"/>
<line x1="339.07" y1="217.65" x2="340" y2="217.2" stroke="#6e6a70" stroke-width="0.86" stroke-linecap="round"/>
<line x1="340" y1="217.2" x2="340.9" y2="216.83" stroke="#6e6a70" stroke-width="0.86" stroke-linecap="round"/>
<line x1="340.9" y1="216.83" x2="341.81" y2="216.5" stroke="#6e6a70" stroke-width="0.86" stroke-linecap="round"/>
<line x1="341.81" y1="216.5" x2="342.74" y2="216.2" stroke="#6e6a70" stroke-width="0.86" stroke-linecap="round"/>
<line x1="342.74" y1="216.2" x2="343.67" y2="215.94" stroke="#6e6a70" stroke-width="0.86" stroke-linecap="round"/>
<line x1="343.67" y1="215.94" x2="344.61" y2="215.71" stroke="#6e6a70" stroke-width="0.86" stroke-linecap="round"/>
<line x1="344.61" y1="215.71" x2="345.57" y2="215.5" stroke="#6e6a70" stroke-width="0.86" stroke-linecap="round"/>
<line x1="345.57" y1="215.5" x2="346.55" y2="215.32" stroke="#6e6a70" stroke-width="0.86" stroke-linecap="round"/>
<line x1="346.55" y1="215.32" x2="347.55" y2="215.16" stroke="#6e6a70" stroke-width="0.86" stroke-linecap="round"/>
<line x1="347.55" y1="215.16" x2="348.56" y2="215.02" stroke="#6e6a70" stroke-width="0.86" stroke-linecap="round"/>
<line x1="348.56" y1="215.02" x2="349.6" y2="214.9" stroke="#6e6a70" stroke-width="0.87" stroke-linecap="round"/>
<line x1="349.6" y1="214.9" x2="350.68" y2="214.79" stroke="#6e6a70" stroke-width="0.87" stroke-linecap="round"/>
<line x1="350.68" y1="214.79" x2="351.79" y2="214.7" stroke="#6e6a70" stroke-width="0.87" stroke-linecap="round"/>
<line x1="351.79" y1="214.7" x2="352.94" y2="214.63" stroke="#6e6a70" stroke-width="0.87" stroke-linecap="round"/>
<line x1="352.94" y1="214.63" x2="354.12" y2="214.58" stroke="#6e6a70" stroke-width="0.87" stroke-linecap="round"/>
<line x1="354.12" y1="214.58" x2="355.3" y2="214.55" stroke="#6e6a70" stroke-width="0.87" stroke-linecap="round"/>
<line x1="355.3" y1="214.55" x2="356.48" y2="214.55" stroke="#6e6a70" stroke-width="0.87" stroke-linecap="round"/>
<line x1="356.48" y1="214.55" x2="357.66" y2="214.59" stroke="#6e6a70" stroke-width="0.87" stroke-linecap="round"/>
<line x1="357.66" y1="214.59" x2="358.81" y2="214.65" stroke="#6e6a70" stroke-width="0.87" stroke-linecap="round"/>
<line x1="358.81" y1="214.65" x2="359.92" y2="214.76" stroke="#6e6a70" stroke-width="0.87" stroke-linecap="round"/>
<line x1="359.92" y1="214.76" x2="361" y2="214.9" stroke="#6e6a70" stroke-width="0.87" stroke-linecap="round"/>
<line x1="361" y1="214.9" x2="362.05" y2="215.09" stroke="#6e6a70" stroke-width="0.88" stroke-linecap="round"/>
<line x1="362.05" y1="215.09" x2="363.08" y2="215.31" stroke="#6e6a70" stroke-width="0.88" stroke-linecap="round"/>
<line x1="363.08" y1="215.31" x2="364.1" y2="215.57" stroke="#6e6a70" stroke-width="0.88" stroke-linecap="round"/>
<line x1="364.1" y1="215.57" x2="365.11" y2="215.87" stroke="#6e6a70" stroke-width="0.88" stroke-linecap="round"/>
<line x1="365.11" y1="215.87" x2="366.09" y2="216.19" stroke="#6e6a70" stroke-width="0.88" stroke-linecap="round"/>
<line x1="366.09" y1="216.19" x2="367.06" y2="216.55" stroke="#6e6a70" stroke-width="0.88" stroke-linecap="round"/>
<line x1="367.06" y1="216.55" x2="367.99" y2="216.93" stroke="#6e6a70" stroke-width="0.88" stroke-linecap="round"/>
<line x1="367.99" y1="216.93" x2="368.89" y2="217.33" stroke="#6e6a70" stroke-width="0.88" stroke-linecap="round"/>
<line x1="368.89" y1="217.33" x2="369.77" y2="217.76" stroke="#6e6a70" stroke-width="0.88" stroke-linecap="round"/>
<line x1="369.77" y1="217.76" x2="370.6" y2="218.2" stroke="#6e6a70" stroke-width="0.88" stroke-linecap="round"/>
<line x1="370.6" y1="218.2" x2="371.4" y2="218.66" stroke="#6e6a70" stroke-width="0.88" stroke-linecap="round"/>
<line x1="371.4" y1="218.66" x2="372.17" y2="219.14" stroke="#6e6a70" stroke-width="0.88" stroke-linecap="round"/>
<line x1="372.17" y1="219.14" x2="372.91" y2="219.64" stroke="#6e6a70" stroke-width="0.89" stroke-linecap="round"/>
<line x1="372.91" y1="219.64" x2="373.63" y2="220.17" stroke="#6e6a70" stroke-width="0.89" stroke-linecap="round"/>
<line x1="373.63" y1="220.17" x2="374.31" y2="220.72" stroke="#6e6a70" stroke-width="0.89" stroke-linecap="round"/>
<line x1="374.31" y1="220.72" x2="374.97" y2="221.3" stroke="#6e6a70" stroke-width="0.89" stroke-linecap="round"/>
<line x1="374.97" y1="221.3" x2="375.59" y2="221.9" stroke="#6e6a70" stroke-width="0.89" stroke-linecap="round"/>
<line x1="375.59" y1="221.9" x2="376.19" y2="222.54" stroke="#6e6a70" stroke-width="0.89" stroke-linecap="round"/>
<line x1="376.19" y1="222.54" x2="376.76" y2="223.2" stroke="#6e6a70" stroke-width="0.89" stroke-linecap="round"/>
<line x1="376.76" y1="223.2" x2="377.3" y2="223.9" stroke="#6e6a70" stroke-width="0.89" stroke-linecap="round"/>
<line x1="377.3" y1="223.9" x2="377.81" y2="224.64" stroke="#6e6a70" stroke-width="0.89" stroke-linecap="round"/>
<line x1="377.81" y1="224.64" x2="378.31" y2="225.43" stroke="#6e6a70" stroke-width="0.89" stroke-linecap="round"/>
<line x1="378.31" y1="225.43" x2="378.77" y2="226.27" stroke="#6e6a70" stroke-width="0.89" stroke-linecap="round"/>
<line x1="378.77" y1="226.27" x2="379.21" y2="227.13" stroke="#6e6a70" stroke-width="0.89" stroke-linecap="round"/>
<line x1="379.21" y1="227.13" x2="379.62" y2="228.02" stroke="#6e6a70" stroke-width="0.9" stroke-linecap="round"/>
<line x1="379.62" y1="228.02" x2="379.99" y2="228.92" stroke="#6e6a70" stroke-width="0.9" stroke-linecap="round"/>
<line x1="379.99" y1="228.92" x2="380.33" y2="229.83" stroke="#6e6a70" stroke-width="0.9" stroke-linecap="round"/>
<line x1="380.33" y1="229.83" x2="380.63" y2="230.73" stroke="#6e6a70" stroke-width="0.9" stroke-linecap="round"/>
<line x1="380.63" y1="230.73" x2="380.89" y2="231.63" stroke="#6e6a70" stroke-width="0.9" stroke-linecap="round"/>
<line x1="380.89" y1="231.63" x2="381.1" y2="232.5" stroke="#6e6a70" stroke-width="0.9" stroke-linecap="round"/>
<line x1="381.1" y1="232.5" x2="381.26" y2="233.37" stroke="#6e6a70" stroke-width="0.9" stroke-linecap="round"/>
<line x1="381.26" y1="233.37" x2="381.37" y2="234.27" stroke="#6e6a70" stroke-width="0.9" stroke-linecap="round"/>
<line x1="381.37" y1="234.27" x2="381.44" y2="235.17" stroke="#6e6a70" stroke-width="0.9" stroke-linecap="round"/>
<line x1="381.44" y1="235.17" x2="381.46" y2="236.08" stroke="#6e6a70" stroke-width="0.9" stroke-linecap="round"/>
<line x1="381.46" y1="236.08" x2="381.46" y2="236.98" stroke="#6e6a70" stroke-width="0.9" stroke-linecap="round"/>
<line x1="381.46" y1="236.98" x2="381.42" y2="237.87" stroke="#6e6a70" stroke-width="0.9" stroke-linecap="round"/>
<line x1="381.42" y1="237.87" x2="381.36" y2="238.73" stroke="#6e6a70" stroke-width="0.91" stroke-linecap="round"/>
<line x1="381.36" y1="238.73" x2="381.28" y2="239.57" stroke="#6e6a70" stroke-width="0.91" stroke-linecap="round"/>
<line x1="381.28" y1="239.57" x2="381.19" y2="240.36" stroke="#6e6a70" stroke-width="0.91" stroke-linecap="round"/>
<line x1="381.19" y1="240.36" x2="381.1" y2="241.1" stroke="#6e6a70" stroke-width="0.91" stroke-linecap="round"/>
<line x1="381.1" y1="241.1" x2="380.99" y2="241.8" stroke="#6e6a70" stroke-width="0.91" stroke-linecap="round"/>
<line x1="380.99" y1="241.8" x2="380.86" y2="242.45" stroke="#6e6a70" stroke-width="0.91" stroke-linecap="round"/>
<line x1="380.86" y1="242.45" x2="380.7" y2="243.08" stroke="#6e6a70" stroke-width="0.91" stroke-linecap="round"/>
<line x1="380.7" y1="243.08" x2="380.52" y2="243.68" stroke="#6e6a70" stroke-width="0.91" stroke-linecap="round"/>
<line x1="380.52" y1="243.68" x2="380.33" y2="244.24" stroke="#6e6a70" stroke-width="0.91" stroke-linecap="round"/>
<line x1="380.33" y1="244.24" x2="380.12" y2="244.79" stroke="#6e6a70" stroke-width="0.91" stroke-linecap="round"/>
<line x1="380.12" y1="244.79" x2="379.9" y2="245.31" stroke="#6e6a70" stroke-width="0.91" stroke-linecap="round"/>
<line x1="379.9" y1="245.31" x2="379.67" y2="245.82" stroke="#6e6a70" stroke-width="0.91" stroke-linecap="round"/>
<line x1="379.67" y1="245.82" x2="379.44" y2="246.32" stroke="#6e6a70" stroke-width="0.92" stroke-linecap="round"/>
<line x1="379.44" y1="246.32" x2="379.2" y2="246.8" stroke="#6e6a70" stroke-width="0.92" stroke-linecap="round"/>
<line x1="379.2" y1="246.8" x2="378.95" y2="247.28" stroke="#6e6a70" stroke-width="0.92" stroke-linecap="round"/>
<line x1="378.95" y1="247.28" x2="378.67" y2="247.77" stroke="#6e6a70" stroke-width="0.92" stroke-linecap="round"/>
<line x1="378.67" y1="247.77" x2="378.37" y2="248.26" stroke="#6e6a70" stroke-width="0.92" stroke-linecap="round"/>
<line x1="378.37" y1="248.26" x2="378.06" y2="248.72" stroke="#6e6a70" stroke-width="0.92" stroke-linecap="round"/>
<line x1="378.06" y1="248.72" x2="377.75" y2="249.17" stroke="#6e6a70" stroke-width="0.92" stroke-linecap="round"/>
<line x1="377.75" y1="249.17" x2="377.44" y2="249.58" stroke="#6e6a70" stroke-width="0.92" stroke-linecap="round"/>
<line x1="377.44" y1="249.58" x2="377.13" y2="249.95" stroke="#6e6a70" stroke-width="0.92" stroke-linecap="round"/>
<line x1="377.13" y1="249.95" x2="376.83" y2="250.26" stroke="#6e6a70" stroke-width="0.92" stroke-linecap="round"/>
<line x1="376.83" y1="250.26" x2="376.55" y2="250.52" stroke="#6e6a70" stroke-width="0.92" stroke-linecap="round"/>
<line x1="376.55" y1="250.52" x2="376.3" y2="250.7" stroke="#6e6a70" stroke-width="0.92" stroke-linecap="round"/>
<line x1="376.3" y1="250.7" x2="376.06" y2="250.81" stroke="#6e6a70" stroke-width="0.93" stroke-linecap="round"/>
<line x1="376.06" y1="250.81" x2="375.81" y2="250.86" stroke="#6e6a70" stroke-width="0.93" stroke-linecap="round"/>
<line x1="375.81" y1="250.86" x2="375.57" y2="250.85" stroke="#6e6a70" stroke-width="0.93" stroke-linecap="round"/>
<line x1="375.57" y1="250.85" x2="375.33" y2="250.79" stroke="#6e6a70" stroke-width="0.93" stroke-linecap="round"/>
<line x1="375.33" y1="250.79" x2="375.11" y2="250.68" stroke="#6e6a70" stroke-width="0.93" stroke-linecap="round"/>
<line x1="375.11" y1="250.68" x2="374.9" y2="250.54" stroke="#6e6a70" stroke-width="0.93" stroke-linecap="round"/>
<line x1="374.9" y1="250.54" x2="374.73" y2="250.36" stroke="#6e6a70" stroke-width="0.93" stroke-linecap="round"/>
<line x1="374.73" y1="250.36" x2="374.58" y2="250.16" stroke="#6e6a70" stroke-width="0.93" stroke-linecap="round"/>
<line x1="374.58" y1="250.16" x2="374.47" y2="249.94" stroke="#6e6a70" stroke-width="0.93" stroke-linecap="round"/>
<line x1="374.47" y1="249.94" x2="374.4" y2="249.7" stroke="#6e6a70" stroke-width="0.93" stroke-linecap="round"/>
<line x1="374.4" y1="249.7" x2="374.37" y2="249.43" stroke="#6e6a70" stroke-width="0.93" stroke-linecap="round"/>
<line x1="374.37" y1="249.43" x2="374.37" y2="249.1" stroke="#6e6a70" stroke-width="0.93" stroke-linecap="round"/>
<line x1="374.37" y1="249.1" x2="374.4" y2="248.72" stroke="#6e6a70" stroke-width="0.93" stroke-linecap="round"/>
<line x1="374.4" y1="248.72" x2="374.46" y2="248.31" stroke="#6e6a70" stroke-width="0.94" stroke-linecap="round"/>
<line x1="374.46" y1="248.31" x2="374.54" y2="247.88" stroke="#6e6a70" stroke-width="0.94" stroke-linecap="round"/>
<line x1="374.54" y1="247.88" x2="374.66" y2="247.45" stroke="#6e6a70" stroke-width="0.94" stroke-linecap="round"/>
<line x1="374.66" y1="247.45" x2="374.8" y2="247.02" stroke="#6e6a70" stroke-width="0.94" stroke-linecap="round"/>
<line x1="374.8" y1="247.02" x2="374.97" y2="246.61" stroke="#6e6a70" stroke-width="0.94" stroke-linecap="round"/>
<line x1="374.97" y1="246.61" x2="375.17" y2="246.23" stroke="#6e6a70" stroke-width="0.94" stroke-linecap="round"/>
<line x1="375.17" y1="246.23" x2="375.4" y2="245.9" stroke="#6e6a70" stroke-width="0.94" stroke-linecap="round"/>
<line x1="375.4" y1="245.9" x2="375.65" y2="245.6" stroke="#6e6a70" stroke-width="0.94" stroke-linecap="round"/>
<line x1="375.65" y1="245.6" x2="375.93" y2="245.32" stroke="#6e6a70" stroke-width="0.94" stroke-linecap="round"/>
<line x1="375.93" y1="245.32" x2="376.24" y2="245.06" stroke="#6e6a70" stroke-width="0.94" stroke-linecap="round"/>
<line x1="376.24" y1="245.06" x2="376.58" y2="244.81" stroke="#6e6a70" stroke-width="0.94" stroke-linecap="round"/>
<line x1="376.58" y1="244.81" x2="376.94" y2="244.58" stroke="#6e6a70" stroke-width="0.94" stroke-linecap="round"/>
<line x1="376.94" y1="244.58" x2="377.34" y2="244.35" stroke="#6e6a70" stroke-width="0.95" stroke-linecap="round"/>
<line x1="377.34" y1="244.35" x2="377.76" y2="244.15" stroke="#6e6a70" stroke-width="0.95" stroke-linecap="round"/>
<line x1="377.76" y1="244.15" x2="378.21" y2="243.95" stroke="#6e6a70" stroke-width="0.95" stroke-linecap="round"/>
<line x1="378.21" y1="243.95" x2="378.69" y2="243.77" stroke="#6e6a70" stroke-width="0.95" stroke-linecap="round"/>
<line x1="378.69" y1="243.77" x2="379.2" y2="243.6" stroke="#6e6a70" stroke-width="0.95" stroke-linecap="round"/>
<line x1="379.2" y1="243.6" x2="379.75" y2="243.44" stroke="#6e6a70" stroke-width="0.95" stroke-linecap="round"/>
<line x1="379.75" y1="243.44" x2="380.35" y2="243.3" stroke="#6e6a70" stroke-width="0.95" stroke-linecap="round"/>
<line x1="380.35" y1="243.3" x2="380.98" y2="243.16" stroke="#6e6a70" stroke-width="0.95" stroke-linecap="round"/>
<line x1="380.98" y1="243.16" x2="381.65" y2="243.04" stroke="#706a70" stroke-width="0.95" stroke-linecap="round"/>
<line x1="381.65" y1="243.04" x2="382.34" y2="242.94" stroke="#736a70" stroke-width="0.95" stroke-linecap="round"/>
<line x1="382.34" y1="242.94" x2="383.05" y2="242.84" stroke="#766a70" stroke-width="0.95" stroke-linecap="round"/>
<line x1="383.05" y1="242.84" x2="383.77" y2="242.76" stroke="#7a6b70" stroke-width="0.95" stroke-linecap="round"/>
<line x1="383.77" y1="242.76" x2="384.49" y2="242.7" stroke="#7d6b71" stroke-width="0.96" stroke-linecap="round"/>
<line x1="384.49" y1="242.7" x2="385.2" y2="242.64" stroke="#806b71" stroke-width="0.96" stroke-linecap="round"/>
<line x1="385.2" y1="242.64" x2="385.9" y2="242.6" stroke="#836b71" stroke-width="0.96" stroke-linecap="round"/>
<line x1="385.9" y1="242.6" x2="386.59" y2="242.57" stroke="#876b71" stroke-width="0.96" stroke-linecap="round"/>
<line x1="386.59" y1="242.57" x2="387.3" y2="242.57" stroke="#8a6c71" stroke-width="0.96" stroke-linecap="round"/>
<line x1="387.3" y1="242.57" x2="388" y2="242.57" stroke="#8d6c71" stroke-width="0.96" stroke-linecap="round"/>
<line x1="388" y1="242.57" x2="388.72" y2="242.59" stroke="#906c71" stroke-width="0.96" stroke-linecap="round"/>
<line x1="388.72" y1="242.59" x2="389.43" y2="242.63" stroke="#946c72" stroke-width="0.96" stroke-linecap="round"/>
<line x1="389.43" y1="242.63" x2="390.15" y2="242.67" stroke="#976c72" stroke-width="0.96" stroke-linecap="round"/>
<line x1="390.15" y1="242.67" x2="390.86" y2="242.72" stroke="#9a6d72" stroke-width="0.96" stroke-linecap="round"/>
<line x1="390.86" y1="242.72" x2="391.58" y2="242.77" stroke="#9d6d72" stroke-width="0.96" stroke-linecap="round"/>
<line x1="391.58" y1="242.77" x2="392.29" y2="242.84" stroke="#a16d72" stroke-width="0.96" stroke-linecap="round"/>
<line x1="392.29" y1="242.84" x2="393" y2="242.9" stroke="#a46d72" stroke-width="0.97" stroke-linecap="round"/>
<line x1="393" y1="242.9" x2="393.7" y2="242.96" stroke="#a76d72" stroke-width="0.97" stroke-linecap="round"/>
<line x1="393.7" y1="242.96" x2="394.41" y2="243.03" stroke="#aa6d73" stroke-width="0.97" stroke-linecap="round"/>
<line x1="394.41" y1="243.03" x2="395.11" y2="243.09" stroke="#ae6e73" stroke-width="0.97" stroke-linecap="round"/>
<line x1="395.11" y1="243.09" x2="395.81" y2="243.17" stroke="#b16e73" stroke-width="0.97" stroke-linecap="round"/>
<line x1="395.81" y1="243.17" x2="396.51" y2="243.25" stroke="#b46e73" stroke-width="0.97" stroke-linecap="round"/>
<line x1="396.51" y1="243.25" x2="397.2" y2="243.34" stroke="#b46d72" stroke-width="0.97" stroke-linecap="round"/>
<line x1="397.2" y1="243.34" x2="397.9" y2="243.45" stroke="#b46c71" stroke-width="0.97" stroke-linecap="round"/>
<line x1="397.9" y1="243.45" x2="398.6" y2="243.58" stroke="#b46c71" stroke-width="0.97" stroke-linecap="round"/>
<line x1="398.6" y1="243.58" x2="399.3" y2="243.73" stroke="#b56b70" stroke-width="0.97" stroke-linecap="round"/>
<line x1="399.3" y1="243.73" x2="400" y2="243.9" stroke="#b56a6f" stroke-width="0.97" stroke-linecap="round"/>
<line x1="400" y1="243.9" x2="400.7" y2="244.09" stroke="#b5696e" stroke-width="0.97" stroke-linecap="round"/>
<line x1="400.7" y1="244.09" x2="401.4" y2="244.3" stroke="#b5686d" stroke-width="0.98" stroke-linecap="round"/>
<line x1="401.4" y1="244.3" x2="402.1" y2="244.52" stroke="#b5676d" stroke-width="0.98" stroke-linecap="round"/>
<line x1="402.1" y1="244.52" x2="402.8" y2="244.76" stroke="#b5676c" stroke-width="0.98" stroke-linecap="round"/>
<line x1="402.8" y1="244.76" x2="403.5" y2="245.01" stroke="#b5666b" stroke-width="0.98" stroke-linecap="round"/>
<line x1="403.5" y1="245.01" x2="404.2" y2="245.29" stroke="#b6656a" stroke-width="0.98" stroke-linecap="round"/>
<line x1="404.2" y1="245.29" x2="404.9" y2="245.58" stroke="#b66469" stroke-width="0.98" stroke-linecap="round"/>
<line x1="404.9" y1="245.58" x2="405.6" y2="245.9" stroke="#b66369" stroke-width="0.98" stroke-linecap="round"/>
<line x1="405.6" y1="245.9" x2="406.3" y2="246.24" stroke="#b66268" stroke-width="0.98" stroke-linecap="round"/>
<line x1="406.3" y1="246.24" x2="407" y2="246.6" stroke="#b66267" stroke-width="0.98" stroke-linecap="round"/>
<line x1="407" y1="246.6" x2="407.7" y2="246.99" stroke="#b66166" stroke-width="0.98" stroke-linecap="round"/>
<line x1="407.7" y1="246.99" x2="408.42" y2="247.41" stroke="#b66065" stroke-width="0.98" stroke-linecap="round"/>
<line x1="408.42" y1="247.41" x2="409.13" y2="247.85" stroke="#b65f65" stroke-width="0.98" stroke-linecap="round"/>
<line x1="409.13" y1="247.85" x2="409.85" y2="248.31" stroke="#b75e64" stroke-width="0.99" stroke-linecap="round"/>
<line x1="409.85" y1="248.31" x2="410.56" y2="248.79" stroke="#b75d63" stroke-width="0.99" stroke-linecap="round"/>
<line x1="410.56" y1="248.79" x2="411.27" y2="249.29" stroke="#b75d62" stroke-width="0.99" stroke-linecap="round"/>
<line x1="411.27" y1="249.29" x2="411.97" y2="249.81" stroke="#b75c61" stroke-width="0.99" stroke-linecap="round"/>
<line x1="411.97" y1="249.81" x2="412.66" y2="250.33" stroke="#b75b60" stroke-width="0.99" stroke-linecap="round"/>
<line x1="412.66" y1="250.33" x2="413.34" y2="250.86" stroke="#b75a60" stroke-width="0.99" stroke-linecap="round"/>
<line x1="413.34" y1="250.86" x2="414" y2="251.4" stroke="#b7595f" stroke-width="0.99" stroke-linecap="round"/>
<line x1="414" y1="251.4" x2="414.67" y2="251.98" stroke="#b8585e" stroke-width="0.99" stroke-linecap="round"/>
<line x1="414.67" y1="251.98" x2="415.36" y2="252.62" stroke="#b8585d" stroke-width="0.99" stroke-linecap="round"/>
<line x1="415.36" y1="252.62" x2="416.06" y2="253.3" stroke="#b8575c" stroke-width="0.99" stroke-linecap="round"/>
<line x1="416.06" y1="253.3" x2="416.76" y2="254" stroke="#b8565c" stroke-width="0.99" stroke-linecap="round"/>
<line x1="416.76" y1="254" x2="417.44" y2="254.7" stroke="#b8555b" stroke-width="0.99" stroke-linecap="round"/>
<line x1="417.44" y1="254.7" x2="418.08" y2="255.37" stroke="#b8545a" stroke-width="1" stroke-linecap="round"/>
<line x1="418.08" y1="255.37" x2="418.67" y2="256" stroke="#b85359" stroke-width="1" stroke-linecap="round"/>
<line x1="418.67" y1="256" x2="419.2" y2="256.56" stroke="#b95358" stroke-width="1" stroke-linecap="round"/>
<line x1="419.2" y1="256.56" x2="419.65" y2="257.04" stroke="#b95258" stroke-width="1" stroke-linecap="round"/>
<line x1="419.65" y1="257.04" x2="420" y2="257.4" stroke="#b95157" stroke-width="1" stroke-linecap="round"/>
<path d="M367,275.6 C369,281 372,284 377.6,289" fill="none" stroke="#7aa860" stroke-width="2.2" stroke-linecap="round"/>
<path d="M369.5,280 C371.5,283.5 374,285.5 377.6,289.2" fill="none" stroke="#b8d870" stroke-width="1.2" stroke-linecap="round"/>
<g fill="none" stroke="#9468c0" stroke-width="0.85"><path d="M343,302 C350,296.5 362,295 371,297.3"/><path d="M344.5,302.8 C352,307 364,306.5 369,302.5"/><path d="M348,301.2 C355,299.5 362,299.5 367.5,301 C364,303.5 355,304 348,301.2"/><path d="M343,302 L349,299.5 M343,302 L348.5,304.2"/><path d="M370,297.5 L378,297.8" stroke="#b090d0"/></g>
<ellipse cx="376.5" cy="331.3" rx="9.8" ry="3.6" transform="rotate(8 376.5 331.3)" fill="none" stroke="#5a6f96" stroke-width="0.9"/>
<path d="M352.5,327.7 L374.6,335.4" stroke="#2d4fa0" stroke-width="1.8" stroke-linecap="round"/>
<text x="380.6" y="288.8" font-size="9.2" font-weight="bold" fill="#5a9a50" text-anchor="start" font-style="normal" >CW</text><text x="395" y="294.3" font-size="6.6" font-weight="bold" fill="#5a9a50" text-anchor="start" font-style="normal" >out</text>
<text x="320.3" y="305.8" font-size="8.6" font-weight="bold" fill="#7a45b0" text-anchor="start" font-style="normal" >VS2</text>
<text x="328.6" y="339.2" font-size="9.3" font-weight="bold" fill="#3a5ba0" text-anchor="start" font-style="normal" >CCW</text><text x="350.5" y="344.3" font-size="6.6" font-weight="bold" fill="#3a5ba0" text-anchor="start" font-style="normal" >out</text>
<line x1="457.4" y1="302" x2="442.57" y2="291.96" stroke="#d0262a" stroke-width="1.3" /><polygon points="437.6,288.6 444.66,289.76 441.3,294.73" fill="#d0262a"/>
<text x="458.6" y="311.8" font-size="9.6" font-weight="bold" fill="#d0262a" text-anchor="start" font-style="normal" >VS1</text>
<line x1="360.5" y1="162.15" x2="486.5" y2="192.2" stroke="#222" stroke-width="1" />
<line x1="486.5" y1="192.2" x2="486.5" y2="324.3" stroke="#222" stroke-width="1" />
<defs>
<linearGradient id="cbR" x1="0" y1="0" x2="0" y2="1"><stop offset="0" stop-color="#c0302e"/><stop offset="0.5" stop-color="#c09090"/><stop offset="1" stop-color="#9a9a9a"/></linearGradient>
<linearGradient id="cbG" x1="0" y1="0" x2="0" y2="1"><stop offset="0" stop-color="#5fae4a"/><stop offset="0.5" stop-color="#a8c8a0"/><stop offset="1" stop-color="#a0a0a0"/></linearGradient>
<linearGradient id="cbB" x1="0" y1="0" x2="0" y2="1"><stop offset="0" stop-color="#4a78d0"/><stop offset="0.5" stop-color="#a0b0d0"/><stop offset="1" stop-color="#a0a0a0"/></linearGradient>
<linearGradient id="cbP" x1="0" y1="0" x2="0" y2="1"><stop offset="0" stop-color="#6a2aa0"/><stop offset="0.5" stop-color="#b0a0c8"/><stop offset="1" stop-color="#9c9c9c"/></linearGradient>
</defs>
<rect x="491" y="192.5" width="14.8" height="131.9" fill="#f4f4f4"/>
<rect x="491.3" y="192.5" width="3.8" height="131.9" fill="url(#cbR)"/>
<rect x="496.2" y="192.5" width="2.9" height="131.9" fill="url(#cbG)"/>
<rect x="499.9" y="192.5" width="2.9" height="131.9" fill="url(#cbB)"/>
<rect x="503.2" y="192.5" width="2.5" height="131.9" fill="url(#cbP)"/>
<rect x="491" y="192.5" width="14.8" height="131.9" fill="none" stroke="#222" stroke-width="0.8"/>
<text x="509" y="198" font-size="9.2" font-weight="normal" fill="#222" text-anchor="start" font-style="normal" >1</text><text x="508.6" y="324.6" font-size="9.2" font-weight="normal" fill="#222" text-anchor="start" font-style="normal" >0</text>
<text x="0" y="0" font-size="10.2" font-weight="normal" fill="#333" text-anchor="middle" font-style="normal" transform="translate(517.2,255) rotate(-90)">Intensity (a.u.)</text>
<rect x="423.4" y="163" width="59" height="58.2" fill="#fff" stroke="#333" stroke-width="0.9"/>
<g fill="none" stroke="#a8a8a8" stroke-width="0.65">
<ellipse cx="426.8" cy="166.3" rx="1.8" ry="1.8" transform="rotate(45 426.8 166.3)"/>
<ellipse cx="426.8" cy="172.12" rx="2.09" ry="1.46" transform="rotate(45 426.8 172.12)"/>
<ellipse cx="426.8" cy="177.94" rx="2.31" ry="1.08" transform="rotate(45 426.8 177.94)"/>
<ellipse cx="426.8" cy="183.77" rx="2.46" ry="0.66" transform="rotate(45 426.8 183.77)"/>
<line x1="425" y1="187.79" x2="428.6" y2="191.39" stroke="#a8a8a8" stroke-width="0.65" stroke-linecap="round"/>
<line x1="425" y1="193.61" x2="428.6" y2="197.21" stroke="#a8a8a8" stroke-width="0.65" stroke-linecap="round"/>
<ellipse cx="426.8" cy="201.23" rx="2.46" ry="0.66" transform="rotate(45 426.8 201.23)"/>
<ellipse cx="426.8" cy="207.06" rx="2.31" ry="1.08" transform="rotate(45 426.8 207.06)"/>
<ellipse cx="426.8" cy="212.88" rx="2.09" ry="1.46" transform="rotate(45 426.8 212.88)"/>
<ellipse cx="426.8" cy="218.7" rx="1.8" ry="1.8" transform="rotate(45 426.8 218.7)"/>
<ellipse cx="432.53" cy="166.3" rx="1.8" ry="1.8" transform="rotate(35 432.53 166.3)"/>
<ellipse cx="432.53" cy="172.12" rx="2.09" ry="1.46" transform="rotate(35 432.53 172.12)"/>
<ellipse cx="432.53" cy="177.94" rx="2.31" ry="1.08" transform="rotate(35 432.53 177.94)"/>
<ellipse cx="432.53" cy="183.77" rx="2.46" ry="0.66" transform="rotate(35 432.53 183.77)"/>
<line x1="430.45" y1="188.13" x2="434.61" y2="191.05" stroke="#a8a8a8" stroke-width="0.65" stroke-linecap="round"/>
<line x1="430.45" y1="193.95" x2="434.61" y2="196.87" stroke="#a8a8a8" stroke-width="0.65" stroke-linecap="round"/>
<ellipse cx="432.53" cy="201.23" rx="2.46" ry="0.66" transform="rotate(35 432.53 201.23)"/>
<ellipse cx="432.53" cy="207.06" rx="2.31" ry="1.08" transform="rotate(35 432.53 207.06)"/>
<ellipse cx="432.53" cy="212.88" rx="2.09" ry="1.46" transform="rotate(35 432.53 212.88)"/>
<ellipse cx="432.53" cy="218.7" rx="1.8" ry="1.8" transform="rotate(35 432.53 218.7)"/>
<ellipse cx="438.27" cy="166.3" rx="1.8" ry="1.8" transform="rotate(25 438.27 166.3)"/>
<ellipse cx="438.27" cy="172.12" rx="2.09" ry="1.46" transform="rotate(25 438.27 172.12)"/>
<ellipse cx="438.27" cy="177.94" rx="2.31" ry="1.08" transform="rotate(25 438.27 177.94)"/>
<ellipse cx="438.27" cy="183.77" rx="2.46" ry="0.66" transform="rotate(25 438.27 183.77)"/>
<line x1="435.96" y1="188.52" x2="440.57" y2="190.66" stroke="#a8a8a8" stroke-width="0.65" stroke-linecap="round"/>
<line x1="435.96" y1="194.34" x2="440.57" y2="196.48" stroke="#a8a8a8" stroke-width="0.65" stroke-linecap="round"/>
<ellipse cx="438.27" cy="201.23" rx="2.46" ry="0.66" transform="rotate(25 438.27 201.23)"/>
<ellipse cx="438.27" cy="207.06" rx="2.31" ry="1.08" transform="rotate(25 438.27 207.06)"/>
<ellipse cx="438.27" cy="212.88" rx="2.09" ry="1.46" transform="rotate(25 438.27 212.88)"/>
<ellipse cx="438.27" cy="218.7" rx="1.8" ry="1.8" transform="rotate(25 438.27 218.7)"/>
<ellipse cx="444" cy="166.3" rx="1.8" ry="1.8" transform="rotate(15 444 166.3)"/>
<ellipse cx="444" cy="172.12" rx="2.09" ry="1.46" transform="rotate(15 444 172.12)"/>
<ellipse cx="444" cy="177.94" rx="2.31" ry="1.08" transform="rotate(15 444 177.94)"/>
<ellipse cx="444" cy="183.77" rx="2.46" ry="0.66" transform="rotate(15 444 183.77)"/>
<line x1="441.55" y1="188.93" x2="446.45" y2="190.25" stroke="#a8a8a8" stroke-width="0.65" stroke-linecap="round"/>
<line x1="441.55" y1="194.75" x2="446.45" y2="196.07" stroke="#a8a8a8" stroke-width="0.65" stroke-linecap="round"/>
<ellipse cx="444" cy="201.23" rx="2.46" ry="0.66" transform="rotate(15 444 201.23)"/>
<ellipse cx="444" cy="207.06" rx="2.31" ry="1.08" transform="rotate(15 444 207.06)"/>
<ellipse cx="444" cy="212.88" rx="2.09" ry="1.46" transform="rotate(15 444 212.88)"/>
<ellipse cx="444" cy="218.7" rx="1.8" ry="1.8" transform="rotate(15 444 218.7)"/>
<ellipse cx="449.73" cy="166.3" rx="1.8" ry="1.8" transform="rotate(5 449.73 166.3)"/>
<ellipse cx="449.73" cy="172.12" rx="2.09" ry="1.46" transform="rotate(5 449.73 172.12)"/>
<ellipse cx="449.73" cy="177.94" rx="2.31" ry="1.08" transform="rotate(5 449.73 177.94)"/>
<ellipse cx="449.73" cy="183.77" rx="2.46" ry="0.66" transform="rotate(5 449.73 183.77)"/>
<line x1="447.2" y1="189.37" x2="452.26" y2="189.81" stroke="#a8a8a8" stroke-width="0.65" stroke-linecap="round"/>
<line x1="447.2" y1="195.19" x2="452.26" y2="195.63" stroke="#a8a8a8" stroke-width="0.65" stroke-linecap="round"/>
<ellipse cx="449.73" cy="201.23" rx="2.46" ry="0.66" transform="rotate(5 449.73 201.23)"/>
<ellipse cx="449.73" cy="207.06" rx="2.31" ry="1.08" transform="rotate(5 449.73 207.06)"/>
<ellipse cx="449.73" cy="212.88" rx="2.09" ry="1.46" transform="rotate(5 449.73 212.88)"/>
<ellipse cx="449.73" cy="218.7" rx="1.8" ry="1.8" transform="rotate(5 449.73 218.7)"/>
<ellipse cx="455.47" cy="166.3" rx="1.8" ry="1.8" transform="rotate(-5 455.47 166.3)"/>
<ellipse cx="455.47" cy="172.12" rx="2.09" ry="1.46" transform="rotate(-5 455.47 172.12)"/>
<ellipse cx="455.47" cy="177.94" rx="2.31" ry="1.08" transform="rotate(-5 455.47 177.94)"/>
<ellipse cx="455.47" cy="183.77" rx="2.46" ry="0.66" transform="rotate(-5 455.47 183.77)"/>
<line x1="452.94" y1="189.81" x2="458" y2="189.37" stroke="#a8a8a8" stroke-width="0.65" stroke-linecap="round"/>
<line x1="452.94" y1="195.63" x2="458" y2="195.19" stroke="#a8a8a8" stroke-width="0.65" stroke-linecap="round"/>
<ellipse cx="455.47" cy="201.23" rx="2.46" ry="0.66" transform="rotate(-5 455.47 201.23)"/>
<ellipse cx="455.47" cy="207.06" rx="2.31" ry="1.08" transform="rotate(-5 455.47 207.06)"/>
<ellipse cx="455.47" cy="212.88" rx="2.09" ry="1.46" transform="rotate(-5 455.47 212.88)"/>
<ellipse cx="455.47" cy="218.7" rx="1.8" ry="1.8" transform="rotate(-5 455.47 218.7)"/>
<ellipse cx="461.2" cy="166.3" rx="1.8" ry="1.8" transform="rotate(-15 461.2 166.3)"/>
<ellipse cx="461.2" cy="172.12" rx="2.09" ry="1.46" transform="rotate(-15 461.2 172.12)"/>
<ellipse cx="461.2" cy="177.94" rx="2.31" ry="1.08" transform="rotate(-15 461.2 177.94)"/>
<ellipse cx="461.2" cy="183.77" rx="2.46" ry="0.66" transform="rotate(-15 461.2 183.77)"/>
<line x1="458.75" y1="190.25" x2="463.65" y2="188.93" stroke="#a8a8a8" stroke-width="0.65" stroke-linecap="round"/>
<line x1="458.75" y1="196.07" x2="463.65" y2="194.75" stroke="#a8a8a8" stroke-width="0.65" stroke-linecap="round"/>
<ellipse cx="461.2" cy="201.23" rx="2.46" ry="0.66" transform="rotate(-15 461.2 201.23)"/>
<ellipse cx="461.2" cy="207.06" rx="2.31" ry="1.08" transform="rotate(-15 461.2 207.06)"/>
<ellipse cx="461.2" cy="212.88" rx="2.09" ry="1.46" transform="rotate(-15 461.2 212.88)"/>
<ellipse cx="461.2" cy="218.7" rx="1.8" ry="1.8" transform="rotate(-15 461.2 218.7)"/>
<ellipse cx="466.93" cy="166.3" rx="1.8" ry="1.8" transform="rotate(-25 466.93 166.3)"/>
<ellipse cx="466.93" cy="172.12" rx="2.09" ry="1.46" transform="rotate(-25 466.93 172.12)"/>
<ellipse cx="466.93" cy="177.94" rx="2.31" ry="1.08" transform="rotate(-25 466.93 177.94)"/>
<ellipse cx="466.93" cy="183.77" rx="2.46" ry="0.66" transform="rotate(-25 466.93 183.77)"/>
<line x1="464.63" y1="190.66" x2="469.24" y2="188.52" stroke="#a8a8a8" stroke-width="0.65" stroke-linecap="round"/>
<line x1="464.63" y1="196.48" x2="469.24" y2="194.34" stroke="#a8a8a8" stroke-width="0.65" stroke-linecap="round"/>
<ellipse cx="466.93" cy="201.23" rx="2.46" ry="0.66" transform="rotate(-25 466.93 201.23)"/>
<ellipse cx="466.93" cy="207.06" rx="2.31" ry="1.08" transform="rotate(-25 466.93 207.06)"/>
<ellipse cx="466.93" cy="212.88" rx="2.09" ry="1.46" transform="rotate(-25 466.93 212.88)"/>
<ellipse cx="466.93" cy="218.7" rx="1.8" ry="1.8" transform="rotate(-25 466.93 218.7)"/>
<ellipse cx="472.67" cy="166.3" rx="1.8" ry="1.8" transform="rotate(-35 472.67 166.3)"/>
<ellipse cx="472.67" cy="172.12" rx="2.09" ry="1.46" transform="rotate(-35 472.67 172.12)"/>
<ellipse cx="472.67" cy="177.94" rx="2.31" ry="1.08" transform="rotate(-35 472.67 177.94)"/>
<ellipse cx="472.67" cy="183.77" rx="2.46" ry="0.66" transform="rotate(-35 472.67 183.77)"/>
<line x1="470.59" y1="191.05" x2="474.75" y2="188.13" stroke="#a8a8a8" stroke-width="0.65" stroke-linecap="round"/>
<line x1="470.59" y1="196.87" x2="474.75" y2="193.95" stroke="#a8a8a8" stroke-width="0.65" stroke-linecap="round"/>
<ellipse cx="472.67" cy="201.23" rx="2.46" ry="0.66" transform="rotate(-35 472.67 201.23)"/>
<ellipse cx="472.67" cy="207.06" rx="2.31" ry="1.08" transform="rotate(-35 472.67 207.06)"/>
<ellipse cx="472.67" cy="212.88" rx="2.09" ry="1.46" transform="rotate(-35 472.67 212.88)"/>
<ellipse cx="472.67" cy="218.7" rx="1.8" ry="1.8" transform="rotate(-35 472.67 218.7)"/>
<ellipse cx="478.4" cy="166.3" rx="1.8" ry="1.8" transform="rotate(-45 478.4 166.3)"/>
<ellipse cx="478.4" cy="172.12" rx="2.09" ry="1.46" transform="rotate(-45 478.4 172.12)"/>
<ellipse cx="478.4" cy="177.94" rx="2.31" ry="1.08" transform="rotate(-45 478.4 177.94)"/>
<ellipse cx="478.4" cy="183.77" rx="2.46" ry="0.66" transform="rotate(-45 478.4 183.77)"/>
<line x1="476.6" y1="191.39" x2="480.2" y2="187.79" stroke="#a8a8a8" stroke-width="0.65" stroke-linecap="round"/>
<line x1="476.6" y1="197.21" x2="480.2" y2="193.61" stroke="#a8a8a8" stroke-width="0.65" stroke-linecap="round"/>
<ellipse cx="478.4" cy="201.23" rx="2.46" ry="0.66" transform="rotate(-45 478.4 201.23)"/>
<ellipse cx="478.4" cy="207.06" rx="2.31" ry="1.08" transform="rotate(-45 478.4 207.06)"/>
<ellipse cx="478.4" cy="212.88" rx="2.09" ry="1.46" transform="rotate(-45 478.4 212.88)"/>
<ellipse cx="478.4" cy="218.7" rx="1.8" ry="1.8" transform="rotate(-45 478.4 218.7)"/>
</g>
<g fill="none" stroke-width="0.9"><path d="M432.2,178.8 C433.5,174 437,172.3 442,172 C448,171.6 456,171.5 460,173 C463.5,174.5 464,177 463.4,178.5" stroke="#8a8a8a" stroke-width="1"/><path d="M433.7,180.5 C435,176.5 438,175.5 443,175.2 C449,174.8 455,175 458.5,176.5" stroke="#b0b0b0"/><path d="M458.5,178.2 C461,176 466,177.5 469,181 C472,185 472.5,190 470.5,195 C469,198.5 466.5,200.5 463.8,201.5" stroke="#a65462" stroke-width="0.95"/><path d="M461,180 C459,182 459.5,185.5 461.5,186.5 C463.5,187.5 464,184 462.5,182" stroke="#8a6a70"/><path d="M455.5,202.5 C455,199.5 459.5,198.5 461,201 C462.5,204 458.5,206.5 456.5,204.5" stroke="#4a62c8"/><path d="M451,201.6 L456.5,203.4" stroke="#2f4fb0" stroke-width="1.3"/><path d="M451.3,194.3 L456,192.4" stroke="#7a50b0" stroke-width="1.4"/></g>
<path d="M475.61,171.33 A2.9,2.9 0 1 1 479.49,168.35" fill="none" stroke="#222" stroke-width="0.8"/><polygon points="478.86,170.86 477.09,167.75 482.29,168.75" fill="#222"/>
<path d="M475.61,213.67 A2.9,2.9 0 1 0 479.49,216.65" fill="none" stroke="#222" stroke-width="0.8"/><polygon points="478.86,214.14 477.09,217.25 482.29,216.25" fill="#222"/>
<text x="421.6" y="169.6" font-size="7.4" font-weight="normal" fill="#333" text-anchor="end" font-style="normal" >&#960;/2</text>
<text x="421.6" y="182.6" font-size="7.4" font-weight="normal" fill="#333" text-anchor="end" font-style="normal" >&#960;/4</text>
<text x="421.6" y="195.6" font-size="7.4" font-weight="normal" fill="#333" text-anchor="end" font-style="normal" >0</text>
<text x="421.6" y="208.6" font-size="7.4" font-weight="normal" fill="#333" text-anchor="end" font-style="normal" >-&#960;/4</text>
<text x="421.6" y="221.6" font-size="7.4" font-weight="normal" fill="#333" text-anchor="end" font-style="normal" >-&#960;/2</text>
<text x="428.6" y="232.4" font-size="7" font-weight="normal" fill="#333" text-anchor="middle" font-style="normal" >-&#960;/2</text>
<text x="441.2" y="232.4" font-size="7" font-weight="normal" fill="#333" text-anchor="middle" font-style="normal" >-&#960;/4</text>
<text x="453.2" y="232.4" font-size="7" font-weight="normal" fill="#333" text-anchor="middle" font-style="normal" >0</text>
<text x="465.2" y="232.4" font-size="7" font-weight="normal" fill="#333" text-anchor="middle" font-style="normal" >&#960;/4</text>
<text x="478.4" y="232.4" font-size="7" font-weight="normal" fill="#333" text-anchor="middle" font-style="normal" >&#960;/2</text>
<text x="452.2" y="240.6" font-size="8" font-weight="bold" fill="#222" text-anchor="middle" font-style="normal" >2&#968;</text>
<text x="0" y="0" font-size="8" font-weight="bold" fill="#222" text-anchor="middle" font-style="normal" transform="translate(406.6,192.5) rotate(-90)">2&#967;</text>
</svg></body></html>
